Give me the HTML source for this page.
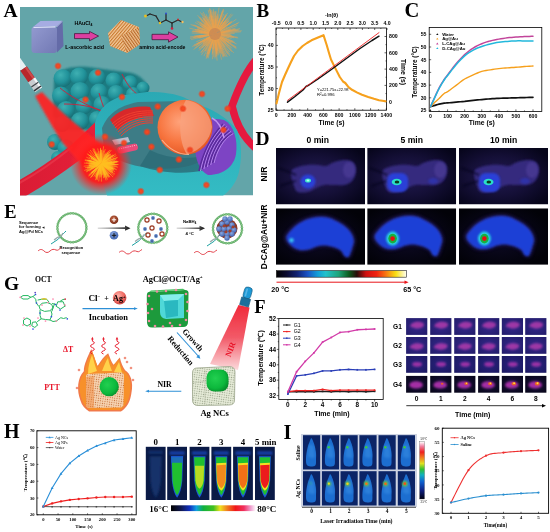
<!DOCTYPE html>
<html><head><meta charset="utf-8"><title>Figure</title>
<style>html,body{margin:0;padding:0;background:#fff;} body{width:550px;height:532px;overflow:hidden;} svg{display:block;}</style>
</head><body>
<svg width="550" height="532" viewBox="0 0 550 532">
<defs>
<clipPath id="clipA"><rect x="20" y="7" width="233" height="188.5"/></clipPath>
<radialGradient id="gSph" cx="0.38" cy="0.32" r="0.7"><stop offset="0" stop-color="#3fb0b2"/><stop offset="0.6" stop-color="#21929a"/><stop offset="1" stop-color="#176f76"/></radialGradient>
<radialGradient id="gNuc" cx="0.4" cy="0.4" r="0.7"><stop offset="0" stop-color="#ffa27a"/><stop offset="0.55" stop-color="#f7743e"/><stop offset="1" stop-color="#e0501e"/></radialGradient>
<radialGradient id="gGlow" cx="0.5" cy="0.5" r="0.5"><stop offset="0" stop-color="#ff2020" stop-opacity="1"/><stop offset="0.6" stop-color="#ff1a1a" stop-opacity="0.95"/><stop offset="1" stop-color="#ff3030" stop-opacity="0"/></radialGradient>
<radialGradient id="gDot" cx="0.5" cy="0.5" r="0.5"><stop offset="0" stop-color="#ff4a1a"/><stop offset="0.5" stop-color="#f0401e" stop-opacity="0.9"/><stop offset="1" stop-color="#f04020" stop-opacity="0"/></radialGradient>
<linearGradient id="gCube" x1="0" y1="0" x2="1" y2="1"><stop offset="0" stop-color="#939ad0"/><stop offset="1" stop-color="#7279b4"/></linearGradient>
<linearGradient id="gCell" x1="0" y1="0" x2="0" y2="1"><stop offset="0" stop-color="#2aa9b4"/><stop offset="1" stop-color="#34bcc4"/></linearGradient>
<linearGradient id="gVes" x1="0" y1="0" x2="1" y2="0"><stop offset="0" stop-color="#d81c34"/><stop offset="1" stop-color="#e8203a"/></linearGradient>
<pattern id="pStripe" width="2.4" height="2.4" patternUnits="userSpaceOnUse" patternTransform="rotate(40)"><rect width="2.4" height="2.4" fill="#f3c99a"/><rect width="1.1" height="2.4" fill="#c8782e"/></pattern>
<pattern id="pStripe2" width="2.4" height="2.4" patternUnits="userSpaceOnUse" patternTransform="rotate(-35)"><rect width="2.4" height="2.4" fill="#eebf8c"/><rect width="1.1" height="2.4" fill="#b8692a"/></pattern>
<filter id="fBlur05" x="-50%" y="-50%" width="200%" height="200%"><feGaussianBlur stdDeviation="0.5"/></filter>
<filter id="fBlur1" x="-50%" y="-50%" width="200%" height="200%"><feGaussianBlur stdDeviation="1"/></filter>
<filter id="fBlur2" x="-50%" y="-50%" width="200%" height="200%"><feGaussianBlur stdDeviation="2"/></filter>
<filter id="fBlur4" x="-50%" y="-50%" width="200%" height="200%"><feGaussianBlur stdDeviation="4"/></filter>

<radialGradient id="gD1bg" cx="0.45" cy="0.5" r="0.65"><stop offset="0" stop-color="#221a52"/><stop offset="0.55" stop-color="#140f36"/><stop offset="1" stop-color="#06051a"/></radialGradient>
<radialGradient id="gD2bg" cx="0.45" cy="0.5" r="0.6"><stop offset="0" stop-color="#0e0a28"/><stop offset="1" stop-color="#020208"/></radialGradient>
<linearGradient id="gDbar" x1="0" y1="0" x2="1" y2="0">
<stop offset="0" stop-color="#000000"/><stop offset="0.08" stop-color="#0b0a30"/><stop offset="0.16" stop-color="#122272"/><stop offset="0.24" stop-color="#1a52c4"/><stop offset="0.32" stop-color="#129fd8"/><stop offset="0.38" stop-color="#22c2cc"/><stop offset="0.48" stop-color="#1ea47a"/><stop offset="0.56" stop-color="#0d5a1e"/><stop offset="0.62" stop-color="#2a0c0a"/><stop offset="0.69" stop-color="#cf1010"/><stop offset="0.77" stop-color="#f02210"/><stop offset="0.84" stop-color="#f87412"/><stop offset="0.92" stop-color="#f8e012"/><stop offset="1" stop-color="#fffff0"/></linearGradient>
<clipPath id="cD1"><rect x="276" y="148" width="89" height="56.5"/></clipPath><clipPath id="cD2"><rect x="276" y="208.3" width="89" height="56.5"/></clipPath><clipPath id="cD3"><rect x="367.2" y="148" width="89" height="56.5"/></clipPath><clipPath id="cD4"><rect x="367.2" y="208.3" width="89" height="56.5"/></clipPath><clipPath id="cD5"><rect x="459" y="148" width="89" height="56.5"/></clipPath><clipPath id="cD6"><rect x="459" y="208.3" width="89" height="56.5"/></clipPath><linearGradient id="gArrE" x1="0" y1="0" x2="1" y2="0"><stop offset="0" stop-color="#888" stop-opacity="0.3"/><stop offset="1" stop-color="#111"/></linearGradient>
<linearGradient id="gArrS" x1="0" y1="0" x2="1" y2="0"><stop offset="0" stop-color="#222"/><stop offset="1" stop-color="#bbb"/></linearGradient>
<radialGradient id="gBr" cx="0.4" cy="0.35" r="0.7"><stop offset="0" stop-color="#c0603e"/><stop offset="1" stop-color="#7a2e1a"/></radialGradient>
<radialGradient id="gBl" cx="0.4" cy="0.35" r="0.7"><stop offset="0" stop-color="#8aa8e0"/><stop offset="1" stop-color="#3a5fae"/></radialGradient><radialGradient id="gAg" cx="0.4" cy="0.35" r="0.7"><stop offset="0" stop-color="#ffb0a8"/><stop offset="0.6" stop-color="#ef6a62"/><stop offset="1" stop-color="#c03838"/></radialGradient>
<linearGradient id="gNIR" x1="0" y1="0" x2="0" y2="1"><stop offset="0" stop-color="#f02a3a"/><stop offset="0.5" stop-color="#f25a68"/><stop offset="1" stop-color="#fcdadc"/></linearGradient>
<radialGradient id="gGreen" cx="0.45" cy="0.4" r="0.6"><stop offset="0" stop-color="#40d060"/><stop offset="1" stop-color="#0e8a30"/></radialGradient>
<pattern id="pBead" width="2.3" height="2.3" patternUnits="userSpaceOnUse" patternTransform="rotate(8)"><rect width="2.3" height="2.3" fill="#e6ebd8"/><circle cx="1.15" cy="1.15" r="0.6" fill="#939e84"/></pattern><pattern id="pBeadO" width="2.3" height="2.3" patternUnits="userSpaceOnUse" patternTransform="rotate(8)"><rect width="2.3" height="2.3" fill="#f6d2b0"/><circle cx="1.15" cy="1.15" r="0.55" fill="#c06830"/></pattern><radialGradient id="gGreen2" cx="0.4" cy="0.4" r="0.65"><stop offset="0" stop-color="#22d050"/><stop offset="0.7" stop-color="#0cb83c"/><stop offset="1" stop-color="#07902c"/></radialGradient>
<radialGradient id="gFire" cx="0.5" cy="0.6" r="0.55"><stop offset="0" stop-color="#ffd040"/><stop offset="0.5" stop-color="#ff8a1a"/><stop offset="0.85" stop-color="#f04818" stop-opacity="0.8"/><stop offset="1" stop-color="#ff6030" stop-opacity="0"/></radialGradient><radialGradient id="gFb1" cx="0.5" cy="0.5" r="0.7"><stop offset="0" stop-color="#34288a"/><stop offset="1" stop-color="#221c6a"/></radialGradient>
<radialGradient id="gFb3" cx="0.5" cy="0.5" r="0.7"><stop offset="0" stop-color="#2a2480"/><stop offset="1" stop-color="#1a1860"/></radialGradient>
<radialGradient id="gFb4" cx="0.5" cy="0.5" r="0.7"><stop offset="0" stop-color="#16113a"/><stop offset="1" stop-color="#070518"/></radialGradient><linearGradient id="gHbar" x1="0" y1="0" x2="1" y2="0">
<stop offset="0" stop-color="#000"/><stop offset="0.12" stop-color="#101850"/><stop offset="0.22" stop-color="#1030c0"/><stop offset="0.3" stop-color="#10a0e0"/><stop offset="0.38" stop-color="#10b040"/><stop offset="0.5" stop-color="#40c020"/><stop offset="0.58" stop-color="#f0e020"/><stop offset="0.66" stop-color="#f08020"/><stop offset="0.76" stop-color="#f01818"/><stop offset="0.86" stop-color="#f03060"/><stop offset="0.94" stop-color="#f0a0d0"/><stop offset="1" stop-color="#ffffff"/></linearGradient><linearGradient id="gIbar" x1="0" y1="1" x2="0" y2="0">
<stop offset="0" stop-color="#000010"/><stop offset="0.15" stop-color="#102080"/><stop offset="0.3" stop-color="#1060d0"/><stop offset="0.42" stop-color="#10b0c0"/><stop offset="0.52" stop-color="#30c030"/><stop offset="0.62" stop-color="#e0e020"/><stop offset="0.72" stop-color="#f08020"/><stop offset="0.82" stop-color="#ee2020"/><stop offset="0.92" stop-color="#f080a0"/><stop offset="1" stop-color="#ffffff"/></linearGradient></defs>
<rect width="550" height="532" fill="#fff"/>
<text x="3.6" y="17.3" font-family="'Liberation Serif', 'Times New Roman', serif" font-size="19.5" font-weight="bold" text-anchor="start" fill="#000" >A</text>
<text x="256.6" y="17" font-family="'Liberation Serif', 'Times New Roman', serif" font-size="19" font-weight="bold" text-anchor="start" fill="#000" >B</text>
<text x="404.6" y="17.3" font-family="'Liberation Serif', 'Times New Roman', serif" font-size="20.5" font-weight="bold" text-anchor="start" fill="#000" >C</text>
<text x="255.6" y="144.8" font-family="'Liberation Serif', 'Times New Roman', serif" font-size="19.5" font-weight="bold" text-anchor="start" fill="#000" >D</text>
<text x="4.3" y="218.3" font-family="'Liberation Serif', 'Times New Roman', serif" font-size="18.5" font-weight="bold" text-anchor="start" fill="#000" >E</text>
<text x="4" y="290.1" font-family="'Liberation Serif', 'Times New Roman', serif" font-size="19.5" font-weight="bold" text-anchor="start" fill="#000" >G</text>
<text x="254.2" y="312.9" font-family="'Liberation Serif', 'Times New Roman', serif" font-size="18.5" font-weight="bold" text-anchor="start" fill="#000" >F</text>
<text x="4" y="438.4" font-family="'Liberation Serif', 'Times New Roman', serif" font-size="20" font-weight="bold" text-anchor="start" fill="#000" >H</text>
<text x="283.4" y="438.5" font-family="'Liberation Serif', 'Times New Roman', serif" font-size="20.5" font-weight="bold" text-anchor="start" fill="#000" >I</text>
<g clip-path="url(#clipA)">
<rect x="20" y="7" width="233" height="188.5" fill="#63a5a9" stroke="none" stroke-width="0.8" />
<path d="M33,27 L40.5,21 L62.5,20.8 L56.5,26.5 Z" fill="#a6ace2"/>
<path d="M56.5,26.5 L62.5,20.8 L63.5,46 L57,52.5 Z" fill="#646ba8"/>
<rect x="31.5" y="26.5" width="25.5" height="26.5" rx="3.5" fill="url(#gCube)"/>
<path d="M33.5,27.5 L55.5,26.8" stroke="#e8ecff" stroke-width="1.2" opacity="0.9"/>
<path d="M56.5,27 L62,21.5" stroke="#d8dcff" stroke-width="0.9" opacity="0.8"/>
<text x="74.6" y="25.3" font-family="'Liberation Sans', Arial, sans-serif" font-size="5.2" font-weight="bold" text-anchor="start" fill="#000" >HAuCl<tspan font-size="3.4" dy="1">4</tspan></text>
<path d="M74.5,33.6 L89.5,33.6 L89.5,31.4 L98.6,36.1 L89.5,40.8 L89.5,38.6 L74.5,38.6 Z" fill="#dc3fa0" stroke="#3a1030" stroke-width="0.7"/>
<text x="65.2" y="48.8" font-family="'Liberation Sans', Arial, sans-serif" font-size="5.3" font-weight="bold" text-anchor="start" fill="#000" >L-ascorbic acid</text>
<path d="M108,33 L121,20 L139,27 L140,44 L127,53 L110,46 Z" fill="url(#pStripe)"/>
<path d="M121,36 L139,27 L140,44 L127,53 Z" fill="url(#pStripe2)"/>
<line x1="146" y1="16" x2="150" y2="14" stroke="#2a2a2a" stroke-width="1.3" stroke-linecap="round"/>
<line x1="150" y1="14" x2="156" y2="16" stroke="#2a2a2a" stroke-width="1.3" stroke-linecap="round"/>
<line x1="156" y1="16" x2="160" y2="23" stroke="#2a2a2a" stroke-width="1.3" stroke-linecap="round"/>
<line x1="160" y1="23" x2="166" y2="20" stroke="#2a2a2a" stroke-width="1.3" stroke-linecap="round"/>
<line x1="166" y1="20" x2="172" y2="23" stroke="#2a2a2a" stroke-width="1.3" stroke-linecap="round"/>
<line x1="172" y1="23" x2="178" y2="20" stroke="#2a2a2a" stroke-width="1.3" stroke-linecap="round"/>
<line x1="178" y1="20" x2="182" y2="22" stroke="#2a2a2a" stroke-width="1.3" stroke-linecap="round"/>
<line x1="166" y1="20" x2="166" y2="14" stroke="#2a2a2a" stroke-width="1.3" stroke-linecap="round"/>
<line x1="172" y1="23" x2="172" y2="28" stroke="#2a2a2a" stroke-width="1.3" stroke-linecap="round"/>
<circle cx="145.5" cy="16" r="1.5" fill="#e8c020"/>
<circle cx="160" cy="23" r="1.2" fill="#e8c020"/>
<circle cx="166" cy="13.5" r="1" fill="#3050d0"/>
<circle cx="172" cy="28.5" r="1.3" fill="#d02040"/>
<circle cx="182.5" cy="22" r="1.2" fill="#f0c060"/>
<circle cx="178" cy="19.5" r="0.9" fill="#d03030"/>
<path d="M152,34.3 L168.5,34.3 L168.5,31.8 L178,37 L168.5,42.2 L168.5,39.7 L152,39.7 Z" fill="#dc3fa0" stroke="#3a1030" stroke-width="0.7"/>
<text x="139.3" y="48.6" font-family="'Liberation Sans', Arial, sans-serif" font-size="5.1" font-weight="bold" text-anchor="start" fill="#000" >amino acid-encode</text>
<path d="M215.25,37.26L216.42,52.76M212.02,31.72L203.2,24.98M220.01,34.42L232.31,35.44M215.59,39.94L216.98,54.02M216.48,31.55L226.53,14.9M217.23,37.09L229.78,54.51M210.6,33.35L192.51,30.7M219.19,35.78L234.95,42.49M214.94,34.18L207.01,57.95M210.75,34.73L189.95,38.33M213.76,28.61L210.72,15.35M215.84,31.47L223.23,9.16M215.42,33.6L226.42,23.12M216.19,39.67L219.05,53.25M213.74,32.71L200.59,19.29M213.41,35.38L198.72,48.2M210.32,31.26L195.26,22.45M219.63,31.78L239.25,22.39M214.54,33.14L203.04,11.83M220.29,32.8L235.87,29.28M214.71,32.77L209.41,9.83M213.47,33.24L201.73,27.39M218.61,29.28L224.21,21.97M215.77,31.66L219.99,18.84M213.74,38.44L208.1,58.39M218.55,35.01L229.03,38M214.61,32.05L209.99,9.05M218.01,33.63L241.78,30.73M214.83,34.43L207.02,54.28M216.16,34.23L233.93,37.78M214.28,33.4L203.82,24.69M216.27,32.61L232.84,14.46M216.81,32.63L230.92,21.92M211.17,33.51L193.43,31.26M211.53,32.65L190.57,24.46M212.42,33.89L191.66,32.97M215.14,35.8L217.07,60.63M211.74,33.56L200.98,32.13M212,35.77L202.72,41.24M212.17,31.48L203.96,24.17M213.05,31.99L199.1,17.62M212.45,37.39L200.82,52.86M215.36,34.05L237.57,37.17M216.47,33.66L234.4,29.45M213.4,32.94L199.36,23.7M214.15,36.05L206.66,54.08M214.3,36.15L207.51,56.84M218.37,34.57L238.22,37.97M214.51,35.24L206,56.73M215.08,35.12L216.4,53.61M214.8,33.42L209.17,16.77M212.49,38.32L205.11,51.03M215.63,33.2L226.31,19.52M211.89,29.7L203.35,17.91M215.11,34.72L218.26,54.63M216.76,38.51L224.05,57.2M215.68,35.53L224.93,56.39M211.96,30.24L203.39,19.61M216.2,35.27L231.68,51.7M214.72,36.06L212.42,53.25M212.85,35.19L192.26,46.54M215.02,34.02L229.63,55.81M219.32,29.95L229.32,20.55M220.29,32.29L231.07,28.8M214.86,28.98L214.36,11.39M213.28,33.79L196.7,31.8M215.06,34.4L218.06,55.44M213.88,38.73L211.64,48.19M218.42,31.63L236.38,19.19M219.3,30.73L232.12,20.99M219.46,34.37L231.18,35.34M213.77,37.78L208.58,53.81M210.17,36.91L196.19,45.33M214.18,35.27L201.32,55.16M210.35,34.67L196.62,36.65M216.04,37.03L223,57.28M217.25,38.18L227.33,56.87M216.7,29.36L219.86,20.77M211.42,30.26L204.88,23.41M214.78,35.6L212.2,54.67M212.49,35.32L193.67,45.21M215.33,34L230.65,34.18M215.29,34.29L233.9,52.81M215.32,33.59L227.53,17.74M214.24,35.73L207.53,51M212.88,31.19L203.72,19.09M215.71,35.84L220.65,48.55M210.96,32.53L197.2,27.52M215.94,34.52L231.53,43.07M211.28,31.14L199.99,22.44M216.18,30.45L221.2,15.39M212.93,36.14L198.91,50.62M211.34,35.99L197.45,43.57M215.1,37.21L215.71,57.03M217.3,35.11L232.59,42.49M219.09,30.15L228.73,21.06M218.8,31.16L228.94,23.58M214.28,34.17L191.05,39.49M212.21,29.46L202.27,13.3M212.82,30.18L204.44,15.47M217.81,36.13L226.21,42.49M217.88,37.64L224.04,45.43M215.5,34.32L236.33,47.88M215.06,34.13L225.74,56.51M218.66,37.5L231.46,49.71M217.95,29.1L226.1,15.55M215.07,33.79L222.23,11.14M210.72,33.69L199.65,32.91M214.96,28.39L214.9,19.21M213.48,37.02L203.86,56.12M215.05,35.08L215.85,51.23M211.63,30.99L200.74,21.27M213.4,35.76L202.52,47.73M214.56,34.25L197.14,44.08M217.44,33.58L238.38,30M217.21,37.51L227.69,54.17M213.57,31.25L205.66,15.99M211.65,29.79L205.07,21.53M218.7,36.54L236.36,48.68M212.36,33.71L191.79,31.47M215.63,35.48L221.48,49.27M213.38,33.03L200.38,25.28M212.93,28.67L208.55,17.36M214.31,31.62L208.05,9.88M213.62,33.19L200.5,25.47M217.85,34.42L233.78,36.75M216.02,35.91L223.54,50.06M215.13,33.15L219.07,7.42M211.44,34.46L195.08,36.57M217.5,29.75L225.77,15.69M210.71,34.51L190.04,36.95M211.43,36.58L193.55,49.53M213.65,34.28L198.3,37.47M214.18,30.03L209.66,8.08M215.88,32.85L225,20.92M214.94,35.12L213.75,57.13M218.4,29.81L225.92,20.56M216.24,32.59L227.91,19.38M214.93,33.49L213,18.93M215.88,32.49L224.38,17.9M211.45,32.04L202.67,27.19M213.67,36.25L204.68,51.5M215.87,37.4L221.55,59.59M212.47,36.07L202.96,43.84M214.38,37.94L212.6,49.28M219.14,30.45L226.58,24.07M217.09,33.19L237.42,25.33M215.08,32.23L216.05,11.24M212.26,30.02L205.11,19.62M215.15,28.23L215.6,11.26M214.34,33.85L195.1,29.4M212.42,37.45L201.34,52.28M214,33.56L194.53,24.93M214.27,33.21L197.6,15.26M214.59,33.39L200.37,12.37M216.25,35.54L229.74,52.13M212.28,32.09L196.65,21.12M213.19,34.49L199.28,38.28M218.9,35.79L236.63,43.95M210.72,32.81L197.01,29M214.77,36.29L212.48,59.22M217.92,34.79L231.61,38.5M215.25,31.89L217.17,15.8M212.33,35.85L195.27,47.71M211.94,38.06L205.69,46.34M214.92,34.59L213.01,49.34M215.79,29.71L217.97,17.87M215.93,36.32L223.83,55.96M216.8,29.89L223.71,14.13M216.45,35.9L225,47.14M211.64,33.41L198.62,31.13M215,38.69L214.99,48.39M216.75,28.95L223.64,9.11M212.54,36.22L198.98,48.46M211.09,29.64L199.69,16.93M213.42,38.91L208.8,53.32M211.49,31.41L203.72,25.66M215.51,30.06L217.61,13.77M212.27,33.59L198.67,31.56M214.78,33.96L194.85,30.21M213.38,31.88L202.01,17.05M220.18,32.64L230.24,29.99M215.98,30.39L218.86,19.86M214.11,35.08L205.44,45.57M209.59,32.65L197.34,29.6M217.86,30.97L225.82,22.56M217.27,31.2L231.39,13.75M214.06,29.66L211.08,15.95M216.95,28.76L223.79,10.38M210.81,35.75L196.26,41.83M215.2,34.16L226.62,43.51M215.3,34.92L221.29,53.47M213.99,30.94L208.89,15.49M213.92,32.53L203.15,17.85M215.11,31.59L215.73,17.67M218.48,31.45L230.14,22.91M212.81,36.3L200.01,49.77M215,34.02L217.73,50.49M215.18,33.16L219.14,14.45M215.42,35.18L220.47,49.27M214.17,34.57L203.19,42.16M215.78,34.64L230.69,46.99M215.13,34.05L233.45,41.27M211.47,36.31L202.73,42.03M213.05,35.36L203.22,42.19M216.28,33.72L229.87,30.73M214.02,34.16L193.19,37.51M214.58,34.61L206.65,46.07M214.77,32.37L211.61,10M209.53,35.21L197.51,37.86M215,35.59L215,58.59M213.58,32.5L204.52,22.97M212.6,28.7L206.06,14.23M215.18,34L230.17,34.35M215.11,34.19L222.06,46.9M211.94,29.55L205.61,20.3M217.82,33.53L239.12,30M219.9,31.2L227.54,26.83M213.77,37.43L206.13,58.77M216.5,34.92L236.33,47.13M216.76,35.54L228.79,46.1M212.63,28.96L208.08,19.28M214.72,29.61L213.41,9.19M209.77,32.18L197.32,27.84M213.82,34.7L194.25,46.32M213.4,34.2L198.91,35.97M214.33,30.43L210.74,11.16M212.79,35.91L202.88,44.44M214.97,33.87L210.09,14.54M215.22,29.94L215.81,18.76M215.41,39.05L216.8,56.28M218.78,30.38L229.34,20.28M218.51,31.35L229.62,22.93M214.7,34.31L201.85,47.98M215.61,33.83L235.57,28.12M215.37,34.31L232.28,48.32M215.02,34.29L215.93,49.96M212.84,31.23L206.3,22.84M215.73,39.76L217.12,50.73M212.67,33.04L192.68,24.76M211.25,31.12L198.39,21.22M215.4,34.99L220.69,47.91M215.31,33.4L221.54,21.27M216.17,33.75L240.04,28.64M217.4,35.43L229.5,42.67M216.77,30.76L225.7,14.38M215.37,28.78L216.32,15.55M212.87,32.39L202.69,24.68M216.82,30.93L227.57,12.86M215.88,37.11L220.47,53.27M214.94,33.54L212.45,15.68M214.57,34.04L193.91,36.05M214.77,31.47L212.93,11.67M213.99,33.21L200.4,22.55M217.01,33.95L234.59,33.48M216.13,34.66L228.94,42.15M218.95,32.17L238.02,23.33M218.66,33.69L241.01,31.8M212.55,33.44L189.34,28.14M219.67,30.74L231.65,22.39" stroke="#f0a048" stroke-width="0.5" opacity="0.95"/>
<circle cx="215" cy="34" r="6" fill="#b87a58" opacity="0.5"/>
<path d="M258,58 C248,68 240,84 232,106 C236,124 245,140 258,150" stroke="#e5193f" stroke-width="7.5" fill="none"/>
<path d="M54,82 C55,70 68,66 88,67 L132,73 C146,78 150,88 146,96 L112,120 L96,130 L68,130 L53,116 Z" fill="#1a7a80" filter="url(#fBlur1)"/>
<circle cx="62.7" cy="78.2" r="9" fill="url(#gSph)"/>
<circle cx="79" cy="76.5" r="9" fill="url(#gSph)"/>
<circle cx="97" cy="77.5" r="8.5" fill="url(#gSph)"/>
<circle cx="113.6" cy="80.5" r="8" fill="url(#gSph)"/>
<circle cx="130" cy="82.7" r="7.5" fill="url(#gSph)"/>
<circle cx="143" cy="88" r="6.5" fill="url(#gSph)"/>
<circle cx="61" cy="95.5" r="9" fill="url(#gSph)"/>
<circle cx="80" cy="91.5" r="9.5" fill="url(#gSph)"/>
<circle cx="99" cy="92" r="8.5" fill="url(#gSph)"/>
<circle cx="116" cy="93" r="8" fill="url(#gSph)"/>
<circle cx="133" cy="94" r="7" fill="url(#gSph)"/>
<circle cx="66" cy="110" r="9" fill="url(#gSph)"/>
<circle cx="84" cy="106" r="8.5" fill="url(#gSph)"/>
<circle cx="102" cy="104.5" r="8.5" fill="url(#gSph)"/>
<circle cx="118" cy="106" r="7" fill="url(#gSph)"/>
<circle cx="62" cy="124" r="8" fill="url(#gSph)"/>
<circle cx="80" cy="121" r="9" fill="url(#gSph)"/>
<circle cx="97" cy="119" r="8" fill="url(#gSph)"/>
<circle cx="55" cy="142" r="8" fill="url(#gSph)"/>
<circle cx="66" cy="148" r="8.5" fill="url(#gSph)"/>
<circle cx="58" cy="158" r="7" fill="url(#gSph)"/>
<path d="M60,88 C75,100 92,108 122,119 M64,104 C78,104 92,106 104,112 M122,74 C126,82 130,90 140,96 M99,93 C101,100 103,106 106,113" stroke="#d0203a" stroke-width="0.9" fill="none"/>
<path d="M8,196 C30,185 55,168 75,153 C88,142 100,128 116,115" stroke="url(#gVes)" stroke-width="17" fill="none"/>
<path d="M10,188 C32,177 55,161 72,147" stroke="#f04a58" stroke-width="2" fill="none" opacity="0.45"/>
<path d="M95,123 C99,108 108,100 125,95 L147,92 C165,92 175,94 183,97 L202,106 C217,111 229,120 237,130 C242,142 242,158 239,172 C236,184 229,192 220,198 L108,198 C104,186 99,176 95,165 Z" fill="url(#gCell)"/>
<path d="M102,128 C108,114 118,106 138,102 L184,101 L204,112 L203,160 C190,168 170,170 150,168 C130,166 115,160 104,150 Z" fill="#3d7c86"/>
<path d="M150,150 C165,158 185,160 203,156 L205,170 C185,175 160,173 140,166 Z" fill="#2a6a76" opacity="0.8"/>
<path d="M110,120 C118,110 133,105 150,107 L154,116 C142,115 128,120 118,130 Z" fill="#d8282a"/>
<path d="M112.0,124 C123.0,114 137,110 153,111" stroke="#f04030" stroke-width="1.0" fill="none"/>
<path d="M113.5,126 C124.2,116 138,112 153,113" stroke="#f04030" stroke-width="1.0" fill="none"/>
<path d="M115.0,128 C125.4,118 139,114 153,115" stroke="#f04030" stroke-width="1.0" fill="none"/>
<path d="M116.5,130 C126.6,120 140,116 153,117" stroke="#f04030" stroke-width="1.0" fill="none"/>
<path d="M118.0,132 C127.8,122 141,118 153,119" stroke="#f04030" stroke-width="1.0" fill="none"/>
<path d="M119.5,134 C129.0,124 142,120 153,121" stroke="#f04030" stroke-width="1.0" fill="none"/>
<path d="M121.0,136 C130.2,126 143,122 153,123" stroke="#f04030" stroke-width="1.0" fill="none"/>
<path d="M112,140 L128,137 L130,142 L115,145 Z" fill="#d8d0e0" opacity="0.8"/>
<rect x="117" y="145" width="21" height="7" rx="3.5" fill="#e94b7a" transform="rotate(-12 128 148)"/>
<path d="M119,149 L137,145" stroke="#ffd0e0" stroke-width="0.8" stroke-dasharray="1 1.2"/>
<path d="M196,130 C200,121 211,117 224,120 C234,125 238,140 236,154 C234,166 224,175 208,175 C199,171 195,158 195,146 Z" fill="#7d44c4"/>
<path d="M199.0,171 C203,152 210,138 223.0,124.0" stroke="#5a2a9c" stroke-width="1.6" fill="none"/>
<path d="M200.5,171 C204.5,152 211.5,138 224.5,124.0" stroke="#b88aee" stroke-width="0.9" fill="none"/>
<path d="M202.4,169 C206,152 213,138 225.2,126.4" stroke="#5a2a9c" stroke-width="1.6" fill="none"/>
<path d="M203.9,169 C207.5,152 214.5,138 226.7,126.4" stroke="#b88aee" stroke-width="0.9" fill="none"/>
<path d="M205.8,167 C209,152 216,138 227.4,128.8" stroke="#5a2a9c" stroke-width="1.6" fill="none"/>
<path d="M207.3,167 C210.5,152 217.5,138 228.9,128.8" stroke="#b88aee" stroke-width="0.9" fill="none"/>
<path d="M209.2,165 C212,152 219,138 229.6,131.2" stroke="#5a2a9c" stroke-width="1.6" fill="none"/>
<path d="M210.7,165 C213.5,152 220.5,138 231.1,131.2" stroke="#b88aee" stroke-width="0.9" fill="none"/>
<path d="M212.6,163 C215,152 222,138 231.8,133.6" stroke="#5a2a9c" stroke-width="1.6" fill="none"/>
<path d="M214.1,163 C216.5,152 223.5,138 233.3,133.6" stroke="#b88aee" stroke-width="0.9" fill="none"/>
<path d="M212,118 C218,121 222,128 224,138" stroke="#c090f0" stroke-width="1.5" fill="none"/>
<circle cx="185" cy="127.3" r="27.5" fill="url(#gNuc)"/>
<path d="M186,100 C178,113 178,142 187,154.5 C201,150 210,140 212,127 C210,113 200,102 186,100 Z" fill="#f8a482" opacity="0.7"/>
<path d="M162,140 C170,150 180,154.5 189,154.5" stroke="#ffd2b0" stroke-width="1.2" fill="none" opacity="0.7"/>
<path d="M35,96 L42,92 C55,106 70,120 90,135 L108,150 L86,168 C78,160 68,150 62,142 C54,130 44,112 35,96 Z" fill="#ff2424" opacity="0.93" filter="url(#fBlur1)"/>
<g transform="translate(19 62) rotate(55)"><rect x="-4" y="-3.3" width="12" height="6.6" fill="#e8f0f2"/><rect x="8" y="-4" width="14" height="8" fill="#b8282c"/><rect x="8" y="-3.5" width="14" height="2" fill="#e06060" opacity="0.6"/><rect x="22" y="-4.2" width="12" height="8.4" fill="#c8ccd0"/><rect x="22" y="-4.2" width="12" height="2.2" fill="#f4f6f8"/><rect x="27" y="-4.2" width="1.2" height="8.4" fill="#404448"/><rect x="31.5" y="-4.2" width="1.5" height="8.4" fill="#303438"/></g>
<circle cx="101" cy="164" r="31" fill="url(#gGlow)"/>
<path d="M101.24,162.39L103.64,146.22M102.02,163.44L116.33,155.61M101.15,164.35L107.3,178.46M100.43,166L96.85,178.53M103.88,164.75L112.81,167.08M99.74,164.57L86.48,170.57M100.98,162.85L100.78,153.18M100.5,165.57L97.76,174.11M102.74,166.5L109.91,176.81M104.88,163.42L117.82,161.49M100.55,164.46L92.3,172.97M98.95,164.48L87.05,167.29M98.83,166.63L93.19,173.48M97.55,164.81L84.98,167.78M100.72,164.93L96.17,179.73M101.52,164.03L115.22,164.9M100.35,163.85L90.86,161.68M101.88,166.95L104.92,177.16M104.12,163.59L118.68,161.69M101.72,164.16L110.86,166.21M99.77,164.56L91.52,168.29M100.64,163.89L89.03,160.44M101.06,167.21L101.23,177.34M100.99,164.18L100.13,177.41M99.12,162.06L88.96,151.58M101.36,163.08L104.99,153.66M101.16,160.85L101.73,149.95M102.08,162.07L106.96,153.31M101.03,164.06L108.4,177.21M103.89,161.81L111.96,155.71M99.12,160.8L92.64,149.76M99.68,163L89.69,155.5M101.35,164.64L108.39,177.59M103.19,163.89L114.25,163.34M99.91,165.46L91.19,177.17M97.33,165.13L90.25,167.3M100.17,165.92L95.73,176.2M102.96,161.33L111.35,149.95M100.91,163.92L89.9,154.52M99.14,163.4L89.35,160.24M100.08,160.47L98.27,153.53M100.27,162.7L94.1,151.68M104.05,161.66L113.01,154.77M102.25,167.47L104.87,174.77M98.54,166.22L91.69,172.39M100.5,167.77L98.7,181.4M100.35,165.43L95.96,175.17M101.68,164.74L113.09,177.12M101.81,164.44L111.19,169.54M102.85,165.01L114.99,171.64M102.33,161.85L109.71,149.94M102.13,164.04L118.68,164.6M101.97,164.45L113.57,169.85M100.76,166.17L99.84,174.31M101.34,167.82L101.98,175.11M101.59,163.6L115.87,153.96M99.82,161.7L95.92,154.09M103.86,165.02L111.74,167.84M102.22,167.06L107.3,179.79M104.66,165.16L114.61,168.31M100.68,164.29L91.3,172.84M102.12,163.91L112.02,163.13M101.31,164.4L108.84,174.14M101.26,163.84L110.93,158.13M104.7,162.52L117.56,157.36M101.04,165.42L101.45,181.6M98.2,164.26L88.55,165.17M102.37,164.18L116.84,166.14M101.45,161.77L103.73,150.56M99.28,163.58L87.13,160.61M101.4,163.3L108.35,151.21M104.1,162.61L111.43,159.31M104.27,163.24L112.05,161.42M100.92,164.81L99.96,174.37M102.62,163.78L117.82,161.7M101.04,164.04L113.75,175.18M102.08,160.18L105.23,149.1M97.97,163.52L90.39,162.3M99.29,163.56L90.19,161.2M99.96,163.24L89.65,155.71M100.11,164.91L91.99,173.18M97.84,161.67L86.92,153.63M103.16,161.46L108.97,154.64M102.07,163.84L111.87,162.4M98.07,163.99L88.27,163.94M100.31,163.11L90.15,149.97M99.17,164.56L87.37,168.16M103.79,161.21L111.05,153.93M98.69,164.89L91.15,167.79M97.97,165.53L86.53,171.32M104.18,165.25L113.17,168.76M102.46,163.83L112.64,162.62M97.63,162.93L88.18,159.95M102.91,161.9L109.67,154.46M100.37,165.92L96.88,176.53M99.19,165.87L89.17,176.21M100.5,163.7L90.86,158.05M99.31,165.78L93.34,172.06M102.12,164.63L111.69,170.01M103.12,164.4L118.07,167.2M98.12,163.37L84.76,160.44M102.91,160.89L108.08,152.47M100.8,163.56L93.98,148.47M99.63,165.32L88.65,175.86M100.83,164.74L97.2,180.15M100.72,163.8L92.69,158.05M100.98,164.02L91.1,177.4M101.44,165L106.31,175.99M99.28,163.87L86.01,162.89M100.06,162.53L95.22,154.91M103.74,163.64L111.58,162.6M98.19,165.08L84.26,170.43M101.03,164.02L113.67,169.58M97.84,165.68L86.34,171.81M100.18,165.46L93.81,176.78M101.6,163.46L110.81,155.26M103.18,165.35L109.68,169.39M102.92,163.17L114.39,158.21M101.8,164.47L112.82,171.02M102.35,162.32L108.67,154.41M103.63,163.7L115.14,162.4M101.35,165.14L106.07,180.43M102.43,165.58L111.04,175.09M99.12,166.43L90.42,177.66M102.85,161.7L108.27,154.93M102.61,164.64L112.62,168.59M102.2,167.27L105.05,175.01M102.66,160.63L105.84,154.17M102.36,163.18L111.01,157.96M101.06,164.14L106.44,176.89M98.45,166.26L88.55,175.07M102.5,164.56L113.28,168.6M101.44,164.9L106.32,174.88M100.53,162.72L97.26,153.77M101.33,165.74L103.68,178.27M101.08,166.8L101.33,175.72M99.84,161.86L95.56,153.98M101.01,162.42L101.09,149.68M98.95,162.55L89.94,156.2M103.95,165.08L116.84,169.82M98.69,164.14L88.88,164.75M103.21,162.37L110.47,157M102.62,160.4L106.25,152.36M102.93,163.95L112.43,163.68M100.72,162.67L97.72,148.48M100.63,163.78L88.69,156.88M102.13,162.46L109.47,152.46M102.17,162.65L110.1,153.44M98.14,162.36L90.91,158.22M103.53,165.69L113,172M99.84,167.37L95.44,180.15M97.18,162.98L84.88,159.7M100.99,162.83L100.88,153.91M99.72,161.35L95.45,152.46M98.75,164.3L89.11,165.6M100.27,161.87L96.77,151.62M102.71,165.41L110.7,171.98M100.89,163.32L98.93,151.01M101.54,165.54L105.84,177.78M101.17,164.14L111.85,172.62M101.61,165.93L104.4,174.82M102.73,165.27L115.01,174.29M102.4,162.48L109.93,154.31M102.01,164.45L112.45,169.05M101.44,163.83L117.41,157.69M99.28,164.25L89.03,165.76M101.72,163.83L115.17,160.6M100.2,163.95L89.24,163.2M104.15,163.71L116.8,162.55M101.32,163.77L113.81,155.05M101,163.1L101.04,150.34M102.29,163.79L116.89,161.42M102.35,166.3L107.17,174.47M99.51,163.92L84.06,163.06M100.93,161.98L100.5,148.51M98.11,165.41L90.16,169.29M98.75,163.36L88.4,160.41M101.65,164.2L115.48,168.36M101.73,166.94L104.38,177.63M104.25,163.02L116.14,159.41M100.88,164.12L90.94,174.38M100.9,160.32L100.68,152.38M103.13,167.29L109.66,177.35M98.06,164.29L89.86,165.08M98.43,163.27L86.73,159.95M101.29,164.46L108.94,176.72M101.41,163.63L108.52,157.32M103.73,165.56L112.39,170.53M97.18,165.09L86.68,168.08M100.77,166.79L100.16,173.98M100.45,166.74L98.76,175.14M103.03,164.42L113.36,166.57M101.4,163.93L117.15,161.05M98.54,166.08L90.63,172.74M100.35,162.87L95.15,153.76M97.94,164.94L88.8,167.76M101.21,165.65L102.36,174.68M100.08,166.1L95.23,177.16M100.05,163.33L92.65,158.14M102.34,164.22L112.41,165.92M100.04,163.55L86.39,157.24M98.87,162.42L88.23,154.55M99.31,163.77L88.65,162.31M103.93,165.22L113.92,169.39M104,166.17L112.87,172.59M99.75,162.77L93.15,156.29M101.67,164L113.93,163.96M101.49,164L115,163.94M100.02,164.13L83.74,166.22M100.96,164.02L89.17,171.08M103.83,164.08L117.94,164.5M101.16,163.89L113.78,155.4M100.36,165.78L96.82,175.68M100.82,164.5L95.92,178.12M104.27,166.04L109.79,169.47M101.75,163.83L111.4,161.61M100.93,161.88L100.47,147.86M98.48,163.87L90.35,163.43M100.06,162.18L92.85,148.29M101.27,164.01L116.4,164.6" stroke="#ffd020" stroke-width="0.5" opacity="0.9"/>
<circle cx="58" cy="66" r="4" fill="url(#gDot)"/>
<circle cx="98" cy="72.7" r="4" fill="url(#gDot)"/>
<circle cx="85.5" cy="99.6" r="4" fill="url(#gDot)"/>
<circle cx="122" cy="97" r="4" fill="url(#gDot)"/>
<circle cx="51.7" cy="144.4" r="4" fill="url(#gDot)"/>
<circle cx="202" cy="94" r="4" fill="url(#gDot)"/>
<circle cx="227.6" cy="108.7" r="4" fill="url(#gDot)"/>
<circle cx="157.7" cy="106.6" r="4" fill="url(#gDot)"/>
<circle cx="147" cy="132" r="4" fill="url(#gDot)"/>
<circle cx="105" cy="136.8" r="4" fill="url(#gDot)"/>
<circle cx="151.4" cy="146.8" r="4" fill="url(#gDot)"/>
<circle cx="183" cy="108.7" r="4" fill="url(#gDot)"/>
<circle cx="223.4" cy="129.9" r="4" fill="url(#gDot)"/>
<circle cx="159.8" cy="170" r="4" fill="url(#gDot)"/>
<circle cx="140.8" cy="191.3" r="4" fill="url(#gDot)"/>
<circle cx="178.9" cy="159.5" r="4" fill="url(#gDot)"/>
<circle cx="206.4" cy="185" r="4" fill="url(#gDot)"/>
<circle cx="124" cy="143" r="4" fill="url(#gDot)"/>
<circle cx="190" cy="150" r="4" fill="url(#gDot)"/>
</g>
<rect x="276" y="28" width="110.5" height="82.2" fill="none" stroke="#000" stroke-width="0.8" />
<line x1="276.2" y1="110.2" x2="276.2" y2="108.2" stroke="#000" stroke-width="0.6" />
<line x1="291.93" y1="110.2" x2="291.93" y2="108.2" stroke="#000" stroke-width="0.6" />
<line x1="307.66" y1="110.2" x2="307.66" y2="108.2" stroke="#000" stroke-width="0.6" />
<line x1="323.39" y1="110.2" x2="323.39" y2="108.2" stroke="#000" stroke-width="0.6" />
<line x1="339.11" y1="110.2" x2="339.11" y2="108.2" stroke="#000" stroke-width="0.6" />
<line x1="354.84" y1="110.2" x2="354.84" y2="108.2" stroke="#000" stroke-width="0.6" />
<line x1="370.57" y1="110.2" x2="370.57" y2="108.2" stroke="#000" stroke-width="0.6" />
<line x1="386.3" y1="110.2" x2="386.3" y2="108.2" stroke="#000" stroke-width="0.6" />
<line x1="284.06" y1="110.2" x2="284.06" y2="109.2" stroke="#000" stroke-width="0.6" />
<line x1="299.79" y1="110.2" x2="299.79" y2="109.2" stroke="#000" stroke-width="0.6" />
<line x1="315.52" y1="110.2" x2="315.52" y2="109.2" stroke="#000" stroke-width="0.6" />
<line x1="331.25" y1="110.2" x2="331.25" y2="109.2" stroke="#000" stroke-width="0.6" />
<line x1="346.98" y1="110.2" x2="346.98" y2="109.2" stroke="#000" stroke-width="0.6" />
<line x1="362.71" y1="110.2" x2="362.71" y2="109.2" stroke="#000" stroke-width="0.6" />
<line x1="378.44" y1="110.2" x2="378.44" y2="109.2" stroke="#000" stroke-width="0.6" />
<line x1="276.3" y1="28" x2="276.3" y2="30" stroke="#000" stroke-width="0.6" />
<line x1="288.6" y1="28" x2="288.6" y2="30" stroke="#000" stroke-width="0.6" />
<line x1="300.9" y1="28" x2="300.9" y2="30" stroke="#000" stroke-width="0.6" />
<line x1="313.2" y1="28" x2="313.2" y2="30" stroke="#000" stroke-width="0.6" />
<line x1="325.5" y1="28" x2="325.5" y2="30" stroke="#000" stroke-width="0.6" />
<line x1="337.8" y1="28" x2="337.8" y2="30" stroke="#000" stroke-width="0.6" />
<line x1="350.1" y1="28" x2="350.1" y2="30" stroke="#000" stroke-width="0.6" />
<line x1="362.4" y1="28" x2="362.4" y2="30" stroke="#000" stroke-width="0.6" />
<line x1="374.7" y1="28" x2="374.7" y2="30" stroke="#000" stroke-width="0.6" />
<line x1="387" y1="28" x2="387" y2="30" stroke="#000" stroke-width="0.6" />
<line x1="282.45" y1="28" x2="282.45" y2="29" stroke="#000" stroke-width="0.6" />
<line x1="294.75" y1="28" x2="294.75" y2="29" stroke="#000" stroke-width="0.6" />
<line x1="307.05" y1="28" x2="307.05" y2="29" stroke="#000" stroke-width="0.6" />
<line x1="319.35" y1="28" x2="319.35" y2="29" stroke="#000" stroke-width="0.6" />
<line x1="331.65" y1="28" x2="331.65" y2="29" stroke="#000" stroke-width="0.6" />
<line x1="343.95" y1="28" x2="343.95" y2="29" stroke="#000" stroke-width="0.6" />
<line x1="356.25" y1="28" x2="356.25" y2="29" stroke="#000" stroke-width="0.6" />
<line x1="368.55" y1="28" x2="368.55" y2="29" stroke="#000" stroke-width="0.6" />
<line x1="380.85" y1="28" x2="380.85" y2="29" stroke="#000" stroke-width="0.6" />
<line x1="276" y1="110.2" x2="278" y2="110.2" stroke="#000" stroke-width="0.6" />
<line x1="276" y1="88.6" x2="278" y2="88.6" stroke="#000" stroke-width="0.6" />
<line x1="276" y1="67" x2="278" y2="67" stroke="#000" stroke-width="0.6" />
<line x1="276" y1="45.4" x2="278" y2="45.4" stroke="#000" stroke-width="0.6" />
<line x1="276" y1="99.4" x2="277" y2="99.4" stroke="#000" stroke-width="0.6" />
<line x1="276" y1="77.8" x2="277" y2="77.8" stroke="#000" stroke-width="0.6" />
<line x1="276" y1="56.2" x2="277" y2="56.2" stroke="#000" stroke-width="0.6" />
<line x1="276" y1="34.6" x2="277" y2="34.6" stroke="#000" stroke-width="0.6" />
<line x1="386.5" y1="101.7" x2="384.5" y2="101.7" stroke="#000" stroke-width="0.6" />
<line x1="386.5" y1="85.4" x2="384.5" y2="85.4" stroke="#000" stroke-width="0.6" />
<line x1="386.5" y1="69.1" x2="384.5" y2="69.1" stroke="#000" stroke-width="0.6" />
<line x1="386.5" y1="52.8" x2="384.5" y2="52.8" stroke="#000" stroke-width="0.6" />
<line x1="386.5" y1="36.5" x2="384.5" y2="36.5" stroke="#000" stroke-width="0.6" />
<line x1="386.5" y1="93.55" x2="385.5" y2="93.55" stroke="#000" stroke-width="0.6" />
<line x1="386.5" y1="77.25" x2="385.5" y2="77.25" stroke="#000" stroke-width="0.6" />
<line x1="386.5" y1="60.95" x2="385.5" y2="60.95" stroke="#000" stroke-width="0.6" />
<line x1="386.5" y1="44.65" x2="385.5" y2="44.65" stroke="#000" stroke-width="0.6" />
<text x="276.2" y="117.2" font-family="'Liberation Sans', Arial, sans-serif" font-size="5.2" font-weight="bold" text-anchor="middle" fill="#000" >0</text>
<text x="291.93" y="117.2" font-family="'Liberation Sans', Arial, sans-serif" font-size="5.2" font-weight="bold" text-anchor="middle" fill="#000" >200</text>
<text x="307.66" y="117.2" font-family="'Liberation Sans', Arial, sans-serif" font-size="5.2" font-weight="bold" text-anchor="middle" fill="#000" >400</text>
<text x="323.39" y="117.2" font-family="'Liberation Sans', Arial, sans-serif" font-size="5.2" font-weight="bold" text-anchor="middle" fill="#000" >600</text>
<text x="339.11" y="117.2" font-family="'Liberation Sans', Arial, sans-serif" font-size="5.2" font-weight="bold" text-anchor="middle" fill="#000" >800</text>
<text x="354.84" y="117.2" font-family="'Liberation Sans', Arial, sans-serif" font-size="5.2" font-weight="bold" text-anchor="middle" fill="#000" >1000</text>
<text x="370.57" y="117.2" font-family="'Liberation Sans', Arial, sans-serif" font-size="5.2" font-weight="bold" text-anchor="middle" fill="#000" >1200</text>
<text x="386.3" y="117.2" font-family="'Liberation Sans', Arial, sans-serif" font-size="5.2" font-weight="bold" text-anchor="middle" fill="#000" >1400</text>
<text x="273.6" y="112.1" font-family="'Liberation Sans', Arial, sans-serif" font-size="5.2" font-weight="bold" text-anchor="end" fill="#000" >25</text>
<text x="273.6" y="90.5" font-family="'Liberation Sans', Arial, sans-serif" font-size="5.2" font-weight="bold" text-anchor="end" fill="#000" >30</text>
<text x="273.6" y="68.9" font-family="'Liberation Sans', Arial, sans-serif" font-size="5.2" font-weight="bold" text-anchor="end" fill="#000" >35</text>
<text x="273.6" y="47.3" font-family="'Liberation Sans', Arial, sans-serif" font-size="5.2" font-weight="bold" text-anchor="end" fill="#000" >40</text>
<text x="276.3" y="25" font-family="'Liberation Sans', Arial, sans-serif" font-size="5.2" font-weight="bold" text-anchor="middle" fill="#000" >-0.5</text>
<text x="288.6" y="25" font-family="'Liberation Sans', Arial, sans-serif" font-size="5.2" font-weight="bold" text-anchor="middle" fill="#000" >0.0</text>
<text x="300.9" y="25" font-family="'Liberation Sans', Arial, sans-serif" font-size="5.2" font-weight="bold" text-anchor="middle" fill="#000" >0.5</text>
<text x="313.2" y="25" font-family="'Liberation Sans', Arial, sans-serif" font-size="5.2" font-weight="bold" text-anchor="middle" fill="#000" >1.0</text>
<text x="325.5" y="25" font-family="'Liberation Sans', Arial, sans-serif" font-size="5.2" font-weight="bold" text-anchor="middle" fill="#000" >1.5</text>
<text x="337.8" y="25" font-family="'Liberation Sans', Arial, sans-serif" font-size="5.2" font-weight="bold" text-anchor="middle" fill="#000" >2.0</text>
<text x="350.1" y="25" font-family="'Liberation Sans', Arial, sans-serif" font-size="5.2" font-weight="bold" text-anchor="middle" fill="#000" >2.5</text>
<text x="362.4" y="25" font-family="'Liberation Sans', Arial, sans-serif" font-size="5.2" font-weight="bold" text-anchor="middle" fill="#000" >3.0</text>
<text x="374.7" y="25" font-family="'Liberation Sans', Arial, sans-serif" font-size="5.2" font-weight="bold" text-anchor="middle" fill="#000" >3.5</text>
<text x="387" y="25" font-family="'Liberation Sans', Arial, sans-serif" font-size="5.2" font-weight="bold" text-anchor="middle" fill="#000" >4.0</text>
<text x="389" y="103.6" font-family="'Liberation Sans', Arial, sans-serif" font-size="5.2" font-weight="bold" text-anchor="start" fill="#000" >0</text>
<text x="389" y="87.3" font-family="'Liberation Sans', Arial, sans-serif" font-size="5.2" font-weight="bold" text-anchor="start" fill="#000" >200</text>
<text x="389" y="71" font-family="'Liberation Sans', Arial, sans-serif" font-size="5.2" font-weight="bold" text-anchor="start" fill="#000" >400</text>
<text x="389" y="54.7" font-family="'Liberation Sans', Arial, sans-serif" font-size="5.2" font-weight="bold" text-anchor="start" fill="#000" >600</text>
<text x="389" y="38.4" font-family="'Liberation Sans', Arial, sans-serif" font-size="5.2" font-weight="bold" text-anchor="start" fill="#000" >800</text>
<text x="331.5" y="17.2" font-family="'Liberation Sans', Arial, sans-serif" font-size="5.3" font-weight="bold" text-anchor="middle" fill="#000" >-ln(θ)</text>
<text x="331.5" y="125.3" font-family="'Liberation Sans', Arial, sans-serif" font-size="6.8" font-weight="bold" text-anchor="middle" fill="#000" >Time (s)</text>
<text x="0" y="0" font-family="'Liberation Sans', Arial, sans-serif" font-size="6.4" font-weight="bold" text-anchor="middle" fill="#000" transform="translate(263.6 70) rotate(-90)">Temperature (°C)</text>
<text x="0" y="0" font-family="'Liberation Sans', Arial, sans-serif" font-size="6.8" font-weight="bold" text-anchor="middle" fill="#000" transform="translate(400.6 72) rotate(90)">Time (s)</text>
<polyline points="276.5,103.5 279,93 282,82 285,75 287.5,69.5 291,62 294,56 298,50.5 302.7,46 307,43 311.5,40.3 318,37.5 323.5,35.2 326.7,45 329,53 331,59.5 335.5,68.6 339.8,77 343,81.5 345.3,83 348.5,87.2 352,89.8 357.3,92.6 362,94.8 368.2,97 374,98.8 379,100.2 385.6,101.3" fill="none" stroke="#f6a01c" stroke-width="2.1" stroke-linejoin="round" stroke-linecap="round" />
<polyline points="287.5,102.2 295,96.5 303,90 306,86.5 309,85 318,79 330,70.5 345,59.5 360,48.5 372,40.5 379,36.2" fill="none" stroke="#111" stroke-width="1.5" stroke-linejoin="round" stroke-linecap="round" />
<polyline points="287.5,100.4 379,32.6" fill="none" stroke="#ee2222" stroke-width="0.9" stroke-linejoin="round" stroke-linecap="round" />
<text x="317" y="90.8" font-family="'Liberation Sans', Arial, sans-serif" font-size="4" font-weight="normal" text-anchor="start" fill="#000" >Y=221.75x+22.98</text>
<text x="317" y="96.2" font-family="'Liberation Sans', Arial, sans-serif" font-size="4.2" font-weight="normal" text-anchor="start" fill="#000" >R<tspan font-size="2.8" dy="-1.6">2</tspan><tspan dy="1.6">=0.996</tspan></text>
<rect x="429.2" y="27.4" width="112.6" height="84" fill="none" stroke="#000" stroke-width="0.8" />
<line x1="430.5" y1="111.4" x2="430.5" y2="109.4" stroke="#000" stroke-width="0.6" />
<line x1="447.58" y1="111.4" x2="447.58" y2="109.4" stroke="#000" stroke-width="0.6" />
<line x1="464.67" y1="111.4" x2="464.67" y2="109.4" stroke="#000" stroke-width="0.6" />
<line x1="481.75" y1="111.4" x2="481.75" y2="109.4" stroke="#000" stroke-width="0.6" />
<line x1="498.83" y1="111.4" x2="498.83" y2="109.4" stroke="#000" stroke-width="0.6" />
<line x1="515.92" y1="111.4" x2="515.92" y2="109.4" stroke="#000" stroke-width="0.6" />
<line x1="533" y1="111.4" x2="533" y2="109.4" stroke="#000" stroke-width="0.6" />
<line x1="439.04" y1="111.4" x2="439.04" y2="110.4" stroke="#000" stroke-width="0.6" />
<line x1="456.12" y1="111.4" x2="456.12" y2="110.4" stroke="#000" stroke-width="0.6" />
<line x1="473.21" y1="111.4" x2="473.21" y2="110.4" stroke="#000" stroke-width="0.6" />
<line x1="490.29" y1="111.4" x2="490.29" y2="110.4" stroke="#000" stroke-width="0.6" />
<line x1="507.38" y1="111.4" x2="507.38" y2="110.4" stroke="#000" stroke-width="0.6" />
<line x1="524.46" y1="111.4" x2="524.46" y2="110.4" stroke="#000" stroke-width="0.6" />
<line x1="429.2" y1="110.5" x2="431.2" y2="110.5" stroke="#000" stroke-width="0.6" />
<line x1="429.2" y1="97.8" x2="431.2" y2="97.8" stroke="#000" stroke-width="0.6" />
<line x1="429.2" y1="85.1" x2="431.2" y2="85.1" stroke="#000" stroke-width="0.6" />
<line x1="429.2" y1="72.4" x2="431.2" y2="72.4" stroke="#000" stroke-width="0.6" />
<line x1="429.2" y1="59.7" x2="431.2" y2="59.7" stroke="#000" stroke-width="0.6" />
<line x1="429.2" y1="47" x2="431.2" y2="47" stroke="#000" stroke-width="0.6" />
<line x1="429.2" y1="34.3" x2="431.2" y2="34.3" stroke="#000" stroke-width="0.6" />
<text x="430.5" y="118.2" font-family="'Liberation Sans', Arial, sans-serif" font-size="5.2" font-weight="bold" text-anchor="middle" fill="#000" >0</text>
<text x="447.58" y="118.2" font-family="'Liberation Sans', Arial, sans-serif" font-size="5.2" font-weight="bold" text-anchor="middle" fill="#000" >100</text>
<text x="464.67" y="118.2" font-family="'Liberation Sans', Arial, sans-serif" font-size="5.2" font-weight="bold" text-anchor="middle" fill="#000" >200</text>
<text x="481.75" y="118.2" font-family="'Liberation Sans', Arial, sans-serif" font-size="5.2" font-weight="bold" text-anchor="middle" fill="#000" >300</text>
<text x="498.83" y="118.2" font-family="'Liberation Sans', Arial, sans-serif" font-size="5.2" font-weight="bold" text-anchor="middle" fill="#000" >400</text>
<text x="515.92" y="118.2" font-family="'Liberation Sans', Arial, sans-serif" font-size="5.2" font-weight="bold" text-anchor="middle" fill="#000" >500</text>
<text x="533" y="118.2" font-family="'Liberation Sans', Arial, sans-serif" font-size="5.2" font-weight="bold" text-anchor="middle" fill="#000" >600</text>
<text x="426.5" y="112.4" font-family="'Liberation Sans', Arial, sans-serif" font-size="5.2" font-weight="bold" text-anchor="end" fill="#000" >25</text>
<text x="426.5" y="99.7" font-family="'Liberation Sans', Arial, sans-serif" font-size="5.2" font-weight="bold" text-anchor="end" fill="#000" >30</text>
<text x="426.5" y="87" font-family="'Liberation Sans', Arial, sans-serif" font-size="5.2" font-weight="bold" text-anchor="end" fill="#000" >35</text>
<text x="426.5" y="74.3" font-family="'Liberation Sans', Arial, sans-serif" font-size="5.2" font-weight="bold" text-anchor="end" fill="#000" >40</text>
<text x="426.5" y="61.6" font-family="'Liberation Sans', Arial, sans-serif" font-size="5.2" font-weight="bold" text-anchor="end" fill="#000" >45</text>
<text x="426.5" y="48.9" font-family="'Liberation Sans', Arial, sans-serif" font-size="5.2" font-weight="bold" text-anchor="end" fill="#000" >50</text>
<text x="426.5" y="36.2" font-family="'Liberation Sans', Arial, sans-serif" font-size="5.2" font-weight="bold" text-anchor="end" fill="#000" >55</text>
<text x="481.8" y="125.3" font-family="'Liberation Sans', Arial, sans-serif" font-size="6.8" font-weight="bold" text-anchor="middle" fill="#000" >Time (s)</text>
<text x="0" y="0" font-family="'Liberation Sans', Arial, sans-serif" font-size="6.4" font-weight="bold" text-anchor="middle" fill="#000" transform="translate(417.3 72) rotate(-90)">Temperature (°C)</text>
<polyline points="430.5,106.69 431.07,106.52 431.89,106.28 432.86,105.99 433.92,105.67 435.08,105.32 436.37,104.91 437.72,104.51 439.04,104.15 440.36,103.84 441.71,103.56 443.01,103.32 444.17,103.13 445.02,103.03 445.66,102.99 446.41,102.96 447.58,102.88 449.36,102.73 451.53,102.53 453.87,102.32 456.12,102.12 458.26,101.93 460.4,101.75 462.53,101.56 464.67,101.36 466.8,101.11 468.94,100.85 471.07,100.58 473.21,100.34 475.34,100.13 477.48,99.94 479.61,99.76 481.75,99.58 483.89,99.38 486.02,99.18 488.16,98.99 490.29,98.82 492.43,98.67 494.56,98.53 496.7,98.41 498.83,98.31 500.97,98.23 503.1,98.17 505.24,98.11 507.38,98.05 509.51,97.99 511.65,97.93 513.78,97.86 515.92,97.8 518.05,97.74 520.19,97.67 522.32,97.61 524.46,97.55 526.79,97.48 529.26,97.4 531.47,97.34 533,97.29" fill="none" stroke="#111" stroke-width="1.7" stroke-linejoin="round" stroke-linecap="round" />
<polyline points="430.5,106.69 431.07,106.07 431.89,105.2 432.86,104.18 433.92,103.13 435.08,102.07 436.37,100.94 437.72,99.76 439.04,98.56 440.36,97.25 441.71,95.85 443.01,94.53 444.17,93.48 445.02,92.91 445.66,92.67 446.41,92.39 447.58,91.7 449.36,90.44 451.53,88.81 453.87,87.05 456.12,85.35 458.26,83.71 460.4,82.04 462.53,80.43 464.67,79 466.8,77.82 468.94,76.8 471.07,75.87 473.21,74.94 475.34,73.97 477.48,73 479.61,72.12 481.75,71.38 483.89,70.85 486.02,70.48 488.16,70.18 490.29,69.86 492.43,69.51 494.56,69.18 496.7,68.87 498.83,68.59 500.97,68.36 503.1,68.16 505.24,67.99 507.38,67.83 509.51,67.69 511.65,67.57 513.78,67.46 515.92,67.32 518.05,67.14 520.19,66.94 522.32,66.74 524.46,66.56 526.79,66.4 529.26,66.26 531.47,66.14 533,66.05" fill="none" stroke="#f6a01c" stroke-width="1.4" stroke-linejoin="round" stroke-linecap="round" />
<polyline points="430.5,106.69 431.07,105.4 431.89,103.56 432.86,101.39 433.92,99.07 435.08,96.52 436.37,93.67 437.72,90.8 439.04,88.15 440.36,85.73 441.71,83.43 443.01,81.33 444.17,79.51 445.02,78.24 445.66,77.38 446.41,76.45 447.58,74.94 449.36,72.56 451.53,69.64 453.87,66.57 456.12,63.76 458.26,61.28 460.4,58.91 462.53,56.68 464.67,54.62 466.8,52.74 468.94,51.02 471.07,49.45 473.21,48.02 475.34,46.74 477.48,45.62 479.61,44.62 481.75,43.7 483.89,42.87 486.02,42.14 488.16,41.5 490.29,40.9 492.43,40.38 494.56,39.92 496.7,39.51 498.83,39.13 500.97,38.76 503.1,38.43 505.24,38.13 507.38,37.86 509.51,37.62 511.65,37.43 513.78,37.25 515.92,37.09 518.05,36.94 520.19,36.81 522.32,36.69 524.46,36.59 526.79,36.5 529.26,36.43 531.47,36.37 533,36.33" fill="none" stroke="#c2449a" stroke-width="1.5" stroke-linejoin="round" stroke-linecap="round" />
<polyline points="430.5,106.69 431.07,105.44 431.89,103.67 432.86,101.57 433.92,99.32 435.08,96.84 436.37,94.07 437.72,91.26 439.04,88.66 440.36,86.26 441.71,83.96 443.01,81.85 444.17,80.02 445.02,78.73 445.66,77.86 446.41,76.92 447.58,75.45 449.36,73.17 451.53,70.38 453.87,67.46 456.12,64.78 458.26,62.36 460.4,60.03 462.53,57.86 464.67,55.89 466.8,54.16 468.94,52.64 471.07,51.28 473.21,50.05 475.34,48.97 477.48,48.06 479.61,47.26 481.75,46.49 483.89,45.77 486.02,45.11 488.16,44.51 490.29,43.95 492.43,43.43 494.56,42.95 496.7,42.53 498.83,42.17 500.97,41.91 503.1,41.71 505.24,41.56 507.38,41.41 509.51,41.26 511.65,41.11 513.78,40.99 515.92,40.9 518.05,40.87 520.19,40.87 522.32,40.89 524.46,40.9 526.79,40.9 529.26,40.9 531.47,40.9 533,40.9" fill="none" stroke="#22b8dc" stroke-width="1.5" stroke-linejoin="round" stroke-linecap="round" />
<path d="M436.1,35.1 L437.3,33.2 L438.5,35.1 Z" fill="#111"/>
<text x="442.2" y="35.7" font-family="'Liberation Sans', Arial, sans-serif" font-size="4.3" font-weight="bold" text-anchor="start" fill="#000" >Water</text>
<path d="M436.1,39.6 L437.3,37.7 L438.5,39.6 Z" fill="#f6a01c"/>
<text x="442.2" y="40.2" font-family="'Liberation Sans', Arial, sans-serif" font-size="4.3" font-weight="bold" text-anchor="start" fill="#000" >Ag@Au</text>
<path d="M436.1,44.4 L437.3,42.5 L438.5,44.4 Z" fill="#c2449a"/>
<text x="442.2" y="45" font-family="'Liberation Sans', Arial, sans-serif" font-size="4.3" font-weight="bold" text-anchor="start" fill="#000" >L-CAg@Au</text>
<path d="M436.1,49.1 L437.3,47.2 L438.5,49.1 Z" fill="#22b8dc"/>
<text x="442.2" y="49.7" font-family="'Liberation Sans', Arial, sans-serif" font-size="4.3" font-weight="bold" text-anchor="start" fill="#000" >D-CAg@Au</text>
<text x="317.8" y="142.9" font-family="'Liberation Sans', Arial, sans-serif" font-size="8.6" font-weight="bold" text-anchor="middle" fill="#000" >0 min</text>
<text x="411.8" y="142.9" font-family="'Liberation Sans', Arial, sans-serif" font-size="8.6" font-weight="bold" text-anchor="middle" fill="#000" >5 min</text>
<text x="503.6" y="142.9" font-family="'Liberation Sans', Arial, sans-serif" font-size="8.6" font-weight="bold" text-anchor="middle" fill="#000" >10 min</text>
<text x="0" y="0" font-family="'Liberation Sans', Arial, sans-serif" font-size="8.6" font-weight="bold" text-anchor="middle" fill="#000" transform="translate(267.4 174) rotate(-90)">NIR</text>
<text x="0" y="0" font-family="'Liberation Sans', Arial, sans-serif" font-size="8.4" font-weight="bold" text-anchor="middle" fill="#000" transform="translate(266.6 236.8) rotate(-90)">D-CAg@Au+NIR</text>
<g clip-path="url(#cD1)"><rect x="276" y="148" width="89" height="56.5" fill="url(#gD1bg)"/>
<g transform="translate(276 148)">
<path d="M22,19 L23.49,18.47 L25.11,18.04 L26.81,17.69 L28.56,17.41 L30.3,17.18 L32,17 L33.69,16.87 L35.41,16.81 L37.12,16.81 L38.81,16.85 L40.45,16.92 L42,17 L43.47,17.16 L44.89,17.41 L46.25,17.69 L47.56,17.93 L48.81,18.05 L50,18 L51.12,17.72 L52.15,17.26 L53.12,16.69 L54.07,16.07 L55.02,15.49 L56,15 L56.98,14.6 L57.93,14.22 L58.88,13.88 L59.85,13.56 L60.88,13.26 L62,13 L63.23,12.74 L64.56,12.48 L65.94,12.25 L67.33,12.07 L68.7,11.98 L70,12 L71.27,12.11 L72.56,12.3 L73.81,12.56 L75,12.93 L76.08,13.4 L77,14 L77.78,14.75 L78.44,15.63 L79,16.62 L79.44,17.7 L79.78,18.84 L80,20 L80.1,21.24 L80.07,22.59 L79.94,24 L79.7,25.41 L79.39,26.76 L79,28 L78.54,29.15 L78,30.26 L77.38,31.31 L76.67,32.3 L75.88,33.2 L75,34 L74.04,34.71 L73,35.33 L71.88,35.88 L70.67,36.33 L69.38,36.71 L68,37 L66.51,37.17 L64.89,37.22 L63.19,37.19 L61.44,37.11 L59.7,37.03 L58,37 L56.31,36.97 L54.59,36.89 L52.88,36.81 L51.19,36.78 L49.55,36.83 L48,37 L46.55,37.31 L45.19,37.74 L43.88,38.25 L42.59,38.81 L41.31,39.41 L40,40 L38.69,40.66 L37.41,41.41 L36.12,42.19 L34.81,42.93 L33.45,43.55 L32,44 L30.38,44.3 L28.59,44.52 L26.75,44.62 L24.96,44.59 L23.34,44.39 L22,44 L20.97,43.44 L20.19,42.74 L19.56,41.88 L19.04,40.81 L18.54,39.53 L18,38 L17.33,36.03 L16.56,33.59 L15.81,30.94 L15.22,28.3 L14.91,25.91 L15,24 L15.55,22.61 L16.48,21.56 L17.69,20.75 L19.07,20.11 L20.54,19.56 Z" fill="#35297e" filter="url(#fBlur1)"/>
<path d="M2,20 C8,22 14,24 20,27 M4,38 C10,36 15,34 20,33" stroke="#06061a" stroke-width="1.6" fill="none" opacity="0.7" filter="url(#fBlur1)"/>
<ellipse cx="73" cy="22" rx="6" ry="8" fill="#4d3e98" opacity="0.7" filter="url(#fBlur1)"/>
<ellipse cx="32" cy="33.5" rx="7.5" ry="7" fill="#2b3fd6" filter="url(#fBlur1)"/>
<ellipse cx="32" cy="32.5" rx="3" ry="2" fill="#3ee6c8" filter="url(#fBlur05)"/>
<ellipse cx="32" cy="32.5" rx="1.4" ry="0.9" fill="#b0fff0"/>
</g></g>
<g clip-path="url(#cD2)"><rect x="276" y="208.3" width="89" height="56.5" fill="url(#gD2bg)"/>
<g transform="translate(276 208.3)">
<path d="M13,23 L13.83,22.05 L14.74,21.04 L15.72,20 L16.76,18.96 L17.86,17.95 L19,17 L20.21,16.09 L21.48,15.19 L22.81,14.31 L24.19,13.48 L25.59,12.71 L27,12 L28.44,11.36 L29.93,10.78 L31.44,10.25 L32.96,9.78 L34.49,9.36 L36,9 L37.51,8.69 L39.04,8.44 L40.56,8.25 L42.07,8.11 L43.56,8.03 L45,8 L46.4,8.03 L47.78,8.11 L49.12,8.25 L50.44,8.44 L51.74,8.69 L53,9 L54.22,9.37 L55.41,9.81 L56.56,10.31 L57.7,10.85 L58.84,11.42 L60,12 L61.18,12.6 L62.37,13.22 L63.56,13.88 L64.74,14.56 L65.89,15.26 L67,16 L68.08,16.76 L69.15,17.56 L70.19,18.38 L71.19,19.22 L72.13,20.1 L73,21 L73.81,21.94 L74.57,22.93 L75.28,23.94 L75.93,24.96 L76.5,25.99 L77,27 L77.43,28 L77.8,29 L78.09,30 L78.31,31 L78.45,32 L78.5,33 L78.43,34 L78.24,35 L77.97,36 L77.65,37 L77.31,38 L77,39 L76.7,40.02 L76.37,41.07 L76.03,42.12 L75.69,43.15 L75.34,44.12 L75,45 L74.69,45.84 L74.41,46.67 L74.12,47.44 L73.81,48.11 L73.45,48.65 L73,49 L72.44,49.17 L71.78,49.19 L71.06,49.06 L70.33,48.81 L69.63,48.46 L69,48 L68.47,47.38 L68,46.56 L67.56,45.62 L67.11,44.67 L66.6,43.76 L66,43 L65.29,42.37 L64.52,41.81 L63.69,41.31 L62.81,40.85 L61.91,40.42 L61,40 L60.07,39.6 L59.11,39.22 L58.12,38.88 L57.11,38.56 L56.07,38.26 L55,38 L53.89,37.75 L52.74,37.52 L51.56,37.31 L50.37,37.15 L49.18,37.04 L48,37 L46.84,37.03 L45.7,37.11 L44.56,37.25 L43.41,37.44 L42.22,37.69 L41,38 L39.72,38.41 L38.41,38.93 L37.06,39.5 L35.7,40.07 L34.34,40.59 L33,41 L31.66,41.32 L30.3,41.59 L28.94,41.81 L27.59,41.96 L26.28,42.03 L25,42 L23.75,41.86 L22.52,41.63 L21.31,41.31 L20.15,40.93 L19.04,40.48 L18,40 L17.03,39.45 L16.11,38.81 L15.25,38.12 L14.44,37.41 L13.69,36.69 L13,36 L12.36,35.33 L11.76,34.67 L11.22,34 L10.74,33.33 L10.33,32.67 L10,32 L9.73,31.34 L9.5,30.7 L9.34,30.06 L9.28,29.41 L9.32,28.72 L9.5,28 L9.82,27.24 L10.28,26.44 L10.84,25.62 L11.5,24.78 L12.23,23.9 Z" fill="#3a2a90" opacity="0.8" filter="url(#fBlur2)"/>
<path d="M13,23 L13.83,22.05 L14.74,21.04 L15.72,20 L16.76,18.96 L17.86,17.95 L19,17 L20.21,16.09 L21.48,15.19 L22.81,14.31 L24.19,13.48 L25.59,12.71 L27,12 L28.44,11.36 L29.93,10.78 L31.44,10.25 L32.96,9.78 L34.49,9.36 L36,9 L37.51,8.69 L39.04,8.44 L40.56,8.25 L42.07,8.11 L43.56,8.03 L45,8 L46.4,8.03 L47.78,8.11 L49.12,8.25 L50.44,8.44 L51.74,8.69 L53,9 L54.22,9.37 L55.41,9.81 L56.56,10.31 L57.7,10.85 L58.84,11.42 L60,12 L61.18,12.6 L62.37,13.22 L63.56,13.88 L64.74,14.56 L65.89,15.26 L67,16 L68.08,16.76 L69.15,17.56 L70.19,18.38 L71.19,19.22 L72.13,20.1 L73,21 L73.81,21.94 L74.57,22.93 L75.28,23.94 L75.93,24.96 L76.5,25.99 L77,27 L77.43,28 L77.8,29 L78.09,30 L78.31,31 L78.45,32 L78.5,33 L78.43,34 L78.24,35 L77.97,36 L77.65,37 L77.31,38 L77,39 L76.7,40.02 L76.37,41.07 L76.03,42.12 L75.69,43.15 L75.34,44.12 L75,45 L74.69,45.84 L74.41,46.67 L74.12,47.44 L73.81,48.11 L73.45,48.65 L73,49 L72.44,49.17 L71.78,49.19 L71.06,49.06 L70.33,48.81 L69.63,48.46 L69,48 L68.47,47.38 L68,46.56 L67.56,45.62 L67.11,44.67 L66.6,43.76 L66,43 L65.29,42.37 L64.52,41.81 L63.69,41.31 L62.81,40.85 L61.91,40.42 L61,40 L60.07,39.6 L59.11,39.22 L58.12,38.88 L57.11,38.56 L56.07,38.26 L55,38 L53.89,37.75 L52.74,37.52 L51.56,37.31 L50.37,37.15 L49.18,37.04 L48,37 L46.84,37.03 L45.7,37.11 L44.56,37.25 L43.41,37.44 L42.22,37.69 L41,38 L39.72,38.41 L38.41,38.93 L37.06,39.5 L35.7,40.07 L34.34,40.59 L33,41 L31.66,41.32 L30.3,41.59 L28.94,41.81 L27.59,41.96 L26.28,42.03 L25,42 L23.75,41.86 L22.52,41.63 L21.31,41.31 L20.15,40.93 L19.04,40.48 L18,40 L17.03,39.45 L16.11,38.81 L15.25,38.12 L14.44,37.41 L13.69,36.69 L13,36 L12.36,35.33 L11.76,34.67 L11.22,34 L10.74,33.33 L10.33,32.67 L10,32 L9.73,31.34 L9.5,30.7 L9.34,30.06 L9.28,29.41 L9.32,28.72 L9.5,28 L9.82,27.24 L10.28,26.44 L10.84,25.62 L11.5,24.78 L12.23,23.9 Z" fill="#1d3fd6" filter="url(#fBlur1)" transform="translate(1.5 1) scale(0.97)"/>
<circle cx="15.5" cy="32" r="2.2" fill="#38c8f0" filter="url(#fBlur1)"/>
</g></g>
<g clip-path="url(#cD3)"><rect x="367.2" y="148" width="89" height="56.5" fill="url(#gD1bg)"/>
<g transform="translate(367.2 148)">
<path d="M22,19 L23.49,18.47 L25.11,18.04 L26.81,17.69 L28.56,17.41 L30.3,17.18 L32,17 L33.69,16.87 L35.41,16.81 L37.12,16.81 L38.81,16.85 L40.45,16.92 L42,17 L43.47,17.16 L44.89,17.41 L46.25,17.69 L47.56,17.93 L48.81,18.05 L50,18 L51.12,17.72 L52.15,17.26 L53.12,16.69 L54.07,16.07 L55.02,15.49 L56,15 L56.98,14.6 L57.93,14.22 L58.88,13.88 L59.85,13.56 L60.88,13.26 L62,13 L63.23,12.74 L64.56,12.48 L65.94,12.25 L67.33,12.07 L68.7,11.98 L70,12 L71.27,12.11 L72.56,12.3 L73.81,12.56 L75,12.93 L76.08,13.4 L77,14 L77.78,14.75 L78.44,15.63 L79,16.62 L79.44,17.7 L79.78,18.84 L80,20 L80.1,21.24 L80.07,22.59 L79.94,24 L79.7,25.41 L79.39,26.76 L79,28 L78.54,29.15 L78,30.26 L77.38,31.31 L76.67,32.3 L75.88,33.2 L75,34 L74.04,34.71 L73,35.33 L71.88,35.88 L70.67,36.33 L69.38,36.71 L68,37 L66.51,37.17 L64.89,37.22 L63.19,37.19 L61.44,37.11 L59.7,37.03 L58,37 L56.31,36.97 L54.59,36.89 L52.88,36.81 L51.19,36.78 L49.55,36.83 L48,37 L46.55,37.31 L45.19,37.74 L43.88,38.25 L42.59,38.81 L41.31,39.41 L40,40 L38.69,40.66 L37.41,41.41 L36.12,42.19 L34.81,42.93 L33.45,43.55 L32,44 L30.38,44.3 L28.59,44.52 L26.75,44.62 L24.96,44.59 L23.34,44.39 L22,44 L20.97,43.44 L20.19,42.74 L19.56,41.88 L19.04,40.81 L18.54,39.53 L18,38 L17.33,36.03 L16.56,33.59 L15.81,30.94 L15.22,28.3 L14.91,25.91 L15,24 L15.55,22.61 L16.48,21.56 L17.69,20.75 L19.07,20.11 L20.54,19.56 Z" fill="#35297e" filter="url(#fBlur1)"/>
<path d="M2,20 C8,22 14,24 20,27 M4,38 C10,36 15,34 20,33" stroke="#06061a" stroke-width="1.6" fill="none" opacity="0.7" filter="url(#fBlur1)"/>
<ellipse cx="73" cy="22" rx="6" ry="8" fill="#4d3e98" opacity="0.7" filter="url(#fBlur1)"/>
<rect x="20" y="25" width="21" height="19" rx="7" fill="#2a40d8" filter="url(#fBlur1)"/>
<ellipse cx="29.5" cy="34" rx="5" ry="3.3" fill="#2be0c8" filter="url(#fBlur05)"/>
<ellipse cx="29.8" cy="34" rx="2.3" ry="1.5" fill="#0a3a20"/>
<ellipse cx="66" cy="33" rx="5" ry="3" fill="#2a3ad0" opacity="0.5" filter="url(#fBlur1)"/>
</g></g>
<g clip-path="url(#cD4)"><rect x="367.2" y="208.3" width="89" height="56.5" fill="url(#gD2bg)"/>
<g transform="translate(367.2 208.3)">
<path d="M10,22 L10.83,21.05 L11.74,20.04 L12.72,19 L13.76,17.96 L14.86,16.95 L16,16 L17.21,15.09 L18.48,14.19 L19.81,13.31 L21.19,12.48 L22.59,11.71 L24,11 L25.44,10.36 L26.93,9.78 L28.44,9.25 L29.96,8.78 L31.49,8.36 L33,8 L34.51,7.69 L36.04,7.44 L37.56,7.25 L39.07,7.11 L40.56,7.03 L42,7 L43.4,7.03 L44.78,7.11 L46.12,7.25 L47.44,7.44 L48.74,7.69 L50,8 L51.22,8.37 L52.41,8.81 L53.56,9.31 L54.7,9.85 L55.84,10.42 L57,11 L58.18,11.6 L59.37,12.22 L60.56,12.88 L61.74,13.56 L62.89,14.26 L64,15 L65.08,15.76 L66.15,16.56 L67.19,17.38 L68.19,18.22 L69.13,19.1 L70,20 L70.81,20.94 L71.57,21.93 L72.28,22.94 L72.93,23.96 L73.5,24.99 L74,26 L74.43,27 L74.8,28 L75.09,29 L75.31,30 L75.45,31 L75.5,32 L75.43,33 L75.24,34 L74.97,35 L74.65,36 L74.31,37 L74,38 L73.7,39.02 L73.37,40.07 L73.03,41.12 L72.69,42.15 L72.34,43.12 L72,44 L71.69,44.84 L71.41,45.67 L71.12,46.44 L70.81,47.11 L70.45,47.65 L70,48 L69.44,48.17 L68.78,48.19 L68.06,48.06 L67.33,47.81 L66.63,47.46 L66,47 L65.47,46.38 L65,45.56 L64.56,44.62 L64.11,43.67 L63.6,42.76 L63,42 L62.29,41.37 L61.52,40.81 L60.69,40.31 L59.81,39.85 L58.91,39.42 L58,39 L57.07,38.6 L56.11,38.22 L55.12,37.88 L54.11,37.56 L53.07,37.26 L52,37 L50.89,36.75 L49.74,36.52 L48.56,36.31 L47.37,36.15 L46.18,36.04 L45,36 L43.84,36.03 L42.7,36.11 L41.56,36.25 L40.41,36.44 L39.22,36.69 L38,37 L36.72,37.41 L35.41,37.93 L34.06,38.5 L32.7,39.07 L31.34,39.59 L30,40 L28.66,40.32 L27.3,40.59 L25.94,40.81 L24.59,40.96 L23.28,41.03 L22,41 L20.75,40.86 L19.52,40.63 L18.31,40.31 L17.15,39.93 L16.04,39.48 L15,39 L14.03,38.45 L13.11,37.81 L12.25,37.12 L11.44,36.41 L10.69,35.69 L10,35 L9.36,34.33 L8.76,33.67 L8.22,33 L7.74,32.33 L7.33,31.67 L7,31 L6.73,30.34 L6.5,29.7 L6.34,29.06 L6.28,28.41 L6.32,27.72 L6.5,27 L6.82,26.24 L7.28,25.44 L7.84,24.62 L8.5,23.78 L9.23,22.9 Z" fill="#3a2a90" opacity="0.8" filter="url(#fBlur2)"/>
<path d="M10,22 L10.83,21.05 L11.74,20.04 L12.72,19 L13.76,17.96 L14.86,16.95 L16,16 L17.21,15.09 L18.48,14.19 L19.81,13.31 L21.19,12.48 L22.59,11.71 L24,11 L25.44,10.36 L26.93,9.78 L28.44,9.25 L29.96,8.78 L31.49,8.36 L33,8 L34.51,7.69 L36.04,7.44 L37.56,7.25 L39.07,7.11 L40.56,7.03 L42,7 L43.4,7.03 L44.78,7.11 L46.12,7.25 L47.44,7.44 L48.74,7.69 L50,8 L51.22,8.37 L52.41,8.81 L53.56,9.31 L54.7,9.85 L55.84,10.42 L57,11 L58.18,11.6 L59.37,12.22 L60.56,12.88 L61.74,13.56 L62.89,14.26 L64,15 L65.08,15.76 L66.15,16.56 L67.19,17.38 L68.19,18.22 L69.13,19.1 L70,20 L70.81,20.94 L71.57,21.93 L72.28,22.94 L72.93,23.96 L73.5,24.99 L74,26 L74.43,27 L74.8,28 L75.09,29 L75.31,30 L75.45,31 L75.5,32 L75.43,33 L75.24,34 L74.97,35 L74.65,36 L74.31,37 L74,38 L73.7,39.02 L73.37,40.07 L73.03,41.12 L72.69,42.15 L72.34,43.12 L72,44 L71.69,44.84 L71.41,45.67 L71.12,46.44 L70.81,47.11 L70.45,47.65 L70,48 L69.44,48.17 L68.78,48.19 L68.06,48.06 L67.33,47.81 L66.63,47.46 L66,47 L65.47,46.38 L65,45.56 L64.56,44.62 L64.11,43.67 L63.6,42.76 L63,42 L62.29,41.37 L61.52,40.81 L60.69,40.31 L59.81,39.85 L58.91,39.42 L58,39 L57.07,38.6 L56.11,38.22 L55.12,37.88 L54.11,37.56 L53.07,37.26 L52,37 L50.89,36.75 L49.74,36.52 L48.56,36.31 L47.37,36.15 L46.18,36.04 L45,36 L43.84,36.03 L42.7,36.11 L41.56,36.25 L40.41,36.44 L39.22,36.69 L38,37 L36.72,37.41 L35.41,37.93 L34.06,38.5 L32.7,39.07 L31.34,39.59 L30,40 L28.66,40.32 L27.3,40.59 L25.94,40.81 L24.59,40.96 L23.28,41.03 L22,41 L20.75,40.86 L19.52,40.63 L18.31,40.31 L17.15,39.93 L16.04,39.48 L15,39 L14.03,38.45 L13.11,37.81 L12.25,37.12 L11.44,36.41 L10.69,35.69 L10,35 L9.36,34.33 L8.76,33.67 L8.22,33 L7.74,32.33 L7.33,31.67 L7,31 L6.73,30.34 L6.5,29.7 L6.34,29.06 L6.28,28.41 L6.32,27.72 L6.5,27 L6.82,26.24 L7.28,25.44 L7.84,24.62 L8.5,23.78 L9.23,22.9 Z" fill="#1d3fd6" filter="url(#fBlur1)" transform="translate(1.5 1) scale(0.97)"/>
<ellipse cx="25.4" cy="30.3" rx="6.4" ry="7" fill="#2ad8e0" filter="url(#fBlur1)"/>
<ellipse cx="25.4" cy="30.3" rx="4.3" ry="4.8" fill="#18b040"/>
<circle cx="25.4" cy="30.3" r="2.3" fill="#e41010"/>
</g></g>
<g clip-path="url(#cD5)"><rect x="459" y="148" width="89" height="56.5" fill="url(#gD1bg)"/>
<g transform="translate(459 148)">
<path d="M22,19 L23.49,18.47 L25.11,18.04 L26.81,17.69 L28.56,17.41 L30.3,17.18 L32,17 L33.69,16.87 L35.41,16.81 L37.12,16.81 L38.81,16.85 L40.45,16.92 L42,17 L43.47,17.16 L44.89,17.41 L46.25,17.69 L47.56,17.93 L48.81,18.05 L50,18 L51.12,17.72 L52.15,17.26 L53.12,16.69 L54.07,16.07 L55.02,15.49 L56,15 L56.98,14.6 L57.93,14.22 L58.88,13.88 L59.85,13.56 L60.88,13.26 L62,13 L63.23,12.74 L64.56,12.48 L65.94,12.25 L67.33,12.07 L68.7,11.98 L70,12 L71.27,12.11 L72.56,12.3 L73.81,12.56 L75,12.93 L76.08,13.4 L77,14 L77.78,14.75 L78.44,15.63 L79,16.62 L79.44,17.7 L79.78,18.84 L80,20 L80.1,21.24 L80.07,22.59 L79.94,24 L79.7,25.41 L79.39,26.76 L79,28 L78.54,29.15 L78,30.26 L77.38,31.31 L76.67,32.3 L75.88,33.2 L75,34 L74.04,34.71 L73,35.33 L71.88,35.88 L70.67,36.33 L69.38,36.71 L68,37 L66.51,37.17 L64.89,37.22 L63.19,37.19 L61.44,37.11 L59.7,37.03 L58,37 L56.31,36.97 L54.59,36.89 L52.88,36.81 L51.19,36.78 L49.55,36.83 L48,37 L46.55,37.31 L45.19,37.74 L43.88,38.25 L42.59,38.81 L41.31,39.41 L40,40 L38.69,40.66 L37.41,41.41 L36.12,42.19 L34.81,42.93 L33.45,43.55 L32,44 L30.38,44.3 L28.59,44.52 L26.75,44.62 L24.96,44.59 L23.34,44.39 L22,44 L20.97,43.44 L20.19,42.74 L19.56,41.88 L19.04,40.81 L18.54,39.53 L18,38 L17.33,36.03 L16.56,33.59 L15.81,30.94 L15.22,28.3 L14.91,25.91 L15,24 L15.55,22.61 L16.48,21.56 L17.69,20.75 L19.07,20.11 L20.54,19.56 Z" fill="#35297e" filter="url(#fBlur1)"/>
<path d="M2,20 C8,22 14,24 20,27 M4,38 C10,36 15,34 20,33" stroke="#06061a" stroke-width="1.6" fill="none" opacity="0.7" filter="url(#fBlur1)"/>
<ellipse cx="73" cy="22" rx="6" ry="8" fill="#4d3e98" opacity="0.7" filter="url(#fBlur1)"/>
<rect x="20" y="25" width="21" height="19" rx="7" fill="#2a40d8" filter="url(#fBlur1)"/>
<ellipse cx="29.5" cy="34" rx="5" ry="3.3" fill="#2be0c8" filter="url(#fBlur05)"/>
<ellipse cx="29.8" cy="34" rx="2.3" ry="1.5" fill="#0a3a20"/>
<ellipse cx="66" cy="33" rx="5" ry="3" fill="#2a3ad0" opacity="0.5" filter="url(#fBlur1)"/>
</g></g>
<g clip-path="url(#cD6)"><rect x="459" y="208.3" width="89" height="56.5" fill="url(#gD2bg)"/>
<g transform="translate(459 208.3)">
<path d="M10,22 L10.83,21.05 L11.74,20.04 L12.72,19 L13.76,17.96 L14.86,16.95 L16,16 L17.21,15.09 L18.48,14.19 L19.81,13.31 L21.19,12.48 L22.59,11.71 L24,11 L25.44,10.36 L26.93,9.78 L28.44,9.25 L29.96,8.78 L31.49,8.36 L33,8 L34.51,7.69 L36.04,7.44 L37.56,7.25 L39.07,7.11 L40.56,7.03 L42,7 L43.4,7.03 L44.78,7.11 L46.12,7.25 L47.44,7.44 L48.74,7.69 L50,8 L51.22,8.37 L52.41,8.81 L53.56,9.31 L54.7,9.85 L55.84,10.42 L57,11 L58.18,11.6 L59.37,12.22 L60.56,12.88 L61.74,13.56 L62.89,14.26 L64,15 L65.08,15.76 L66.15,16.56 L67.19,17.38 L68.19,18.22 L69.13,19.1 L70,20 L70.81,20.94 L71.57,21.93 L72.28,22.94 L72.93,23.96 L73.5,24.99 L74,26 L74.43,27 L74.8,28 L75.09,29 L75.31,30 L75.45,31 L75.5,32 L75.43,33 L75.24,34 L74.97,35 L74.65,36 L74.31,37 L74,38 L73.7,39.02 L73.37,40.07 L73.03,41.12 L72.69,42.15 L72.34,43.12 L72,44 L71.69,44.84 L71.41,45.67 L71.12,46.44 L70.81,47.11 L70.45,47.65 L70,48 L69.44,48.17 L68.78,48.19 L68.06,48.06 L67.33,47.81 L66.63,47.46 L66,47 L65.47,46.38 L65,45.56 L64.56,44.62 L64.11,43.67 L63.6,42.76 L63,42 L62.29,41.37 L61.52,40.81 L60.69,40.31 L59.81,39.85 L58.91,39.42 L58,39 L57.07,38.6 L56.11,38.22 L55.12,37.88 L54.11,37.56 L53.07,37.26 L52,37 L50.89,36.75 L49.74,36.52 L48.56,36.31 L47.37,36.15 L46.18,36.04 L45,36 L43.84,36.03 L42.7,36.11 L41.56,36.25 L40.41,36.44 L39.22,36.69 L38,37 L36.72,37.41 L35.41,37.93 L34.06,38.5 L32.7,39.07 L31.34,39.59 L30,40 L28.66,40.32 L27.3,40.59 L25.94,40.81 L24.59,40.96 L23.28,41.03 L22,41 L20.75,40.86 L19.52,40.63 L18.31,40.31 L17.15,39.93 L16.04,39.48 L15,39 L14.03,38.45 L13.11,37.81 L12.25,37.12 L11.44,36.41 L10.69,35.69 L10,35 L9.36,34.33 L8.76,33.67 L8.22,33 L7.74,32.33 L7.33,31.67 L7,31 L6.73,30.34 L6.5,29.7 L6.34,29.06 L6.28,28.41 L6.32,27.72 L6.5,27 L6.82,26.24 L7.28,25.44 L7.84,24.62 L8.5,23.78 L9.23,22.9 Z" fill="#3a2a90" opacity="0.8" filter="url(#fBlur2)"/>
<path d="M10,22 L10.83,21.05 L11.74,20.04 L12.72,19 L13.76,17.96 L14.86,16.95 L16,16 L17.21,15.09 L18.48,14.19 L19.81,13.31 L21.19,12.48 L22.59,11.71 L24,11 L25.44,10.36 L26.93,9.78 L28.44,9.25 L29.96,8.78 L31.49,8.36 L33,8 L34.51,7.69 L36.04,7.44 L37.56,7.25 L39.07,7.11 L40.56,7.03 L42,7 L43.4,7.03 L44.78,7.11 L46.12,7.25 L47.44,7.44 L48.74,7.69 L50,8 L51.22,8.37 L52.41,8.81 L53.56,9.31 L54.7,9.85 L55.84,10.42 L57,11 L58.18,11.6 L59.37,12.22 L60.56,12.88 L61.74,13.56 L62.89,14.26 L64,15 L65.08,15.76 L66.15,16.56 L67.19,17.38 L68.19,18.22 L69.13,19.1 L70,20 L70.81,20.94 L71.57,21.93 L72.28,22.94 L72.93,23.96 L73.5,24.99 L74,26 L74.43,27 L74.8,28 L75.09,29 L75.31,30 L75.45,31 L75.5,32 L75.43,33 L75.24,34 L74.97,35 L74.65,36 L74.31,37 L74,38 L73.7,39.02 L73.37,40.07 L73.03,41.12 L72.69,42.15 L72.34,43.12 L72,44 L71.69,44.84 L71.41,45.67 L71.12,46.44 L70.81,47.11 L70.45,47.65 L70,48 L69.44,48.17 L68.78,48.19 L68.06,48.06 L67.33,47.81 L66.63,47.46 L66,47 L65.47,46.38 L65,45.56 L64.56,44.62 L64.11,43.67 L63.6,42.76 L63,42 L62.29,41.37 L61.52,40.81 L60.69,40.31 L59.81,39.85 L58.91,39.42 L58,39 L57.07,38.6 L56.11,38.22 L55.12,37.88 L54.11,37.56 L53.07,37.26 L52,37 L50.89,36.75 L49.74,36.52 L48.56,36.31 L47.37,36.15 L46.18,36.04 L45,36 L43.84,36.03 L42.7,36.11 L41.56,36.25 L40.41,36.44 L39.22,36.69 L38,37 L36.72,37.41 L35.41,37.93 L34.06,38.5 L32.7,39.07 L31.34,39.59 L30,40 L28.66,40.32 L27.3,40.59 L25.94,40.81 L24.59,40.96 L23.28,41.03 L22,41 L20.75,40.86 L19.52,40.63 L18.31,40.31 L17.15,39.93 L16.04,39.48 L15,39 L14.03,38.45 L13.11,37.81 L12.25,37.12 L11.44,36.41 L10.69,35.69 L10,35 L9.36,34.33 L8.76,33.67 L8.22,33 L7.74,32.33 L7.33,31.67 L7,31 L6.73,30.34 L6.5,29.7 L6.34,29.06 L6.28,28.41 L6.32,27.72 L6.5,27 L6.82,26.24 L7.28,25.44 L7.84,24.62 L8.5,23.78 L9.23,22.9 Z" fill="#1d3fd6" filter="url(#fBlur1)" transform="translate(1.5 1) scale(0.97)"/>
<ellipse cx="25.4" cy="30.3" rx="6.4" ry="7" fill="#2ad8e0" filter="url(#fBlur1)"/>
<ellipse cx="25.4" cy="30.3" rx="4.3" ry="4.8" fill="#18b040"/>
<circle cx="25.4" cy="30.3" r="2.3" fill="#e41010"/>
</g></g>
<rect x="276.3" y="270.6" width="130" height="6.6" fill="url(#gDbar)" stroke="#222" stroke-width="0.6" />
<line x1="276.5" y1="282.2" x2="406" y2="282.2" stroke="#e8141a" stroke-width="1" />
<path d="M404.5,280.4 L408.6,282.2 L404.5,284 Z" fill="#e8141a"/>
<text x="271.2" y="291.6" font-family="'Liberation Sans', Arial, sans-serif" font-size="7.2" font-weight="bold" text-anchor="start" fill="#000" >20 °C</text>
<text x="403.2" y="291.6" font-family="'Liberation Sans', Arial, sans-serif" font-size="7.2" font-weight="bold" text-anchor="start" fill="#000" >65 °C</text>
<text x="19" y="224.1" font-family="'Liberation Sans', Arial, sans-serif" font-size="4.1" font-weight="bold" text-anchor="start" fill="#000" >Sequence</text>
<text x="19" y="228.4" font-family="'Liberation Sans', Arial, sans-serif" font-size="4.1" font-weight="bold" text-anchor="start" fill="#000" >for forming</text>
<text x="19" y="232.7" font-family="'Liberation Sans', Arial, sans-serif" font-size="4.1" font-weight="bold" text-anchor="start" fill="#000" >Ag@Pd NCs</text>
<path d="M42.5,227.6 L55,227.6" stroke="url(#gArrS)" stroke-width="1"/>
<path d="M42,227.6 L44.5,226.5 L44.5,228.7 Z" fill="#222"/>
<text x="59.5" y="249.4" font-family="'Liberation Sans', Arial, sans-serif" font-size="4.1" font-weight="bold" text-anchor="start" fill="#000" >Recognition</text>
<text x="61.5" y="254" font-family="'Liberation Sans', Arial, sans-serif" font-size="4.1" font-weight="bold" text-anchor="start" fill="#000" >sequence</text>
<path d="M49,249.2 L58.5,249.2" stroke="url(#gArrS)" stroke-width="1"/>
<circle cx="71.9" cy="227.8" r="14.5" fill="none" stroke="#9ed29a" stroke-width="2"/>
<polyline points="86.4,227.8 86.66,228.09 86.89,228.39 87.06,228.69 87.16,229 87.18,229.3 87.1,229.6 86.94,229.88 86.71,230.15 86.43,230.4 86.12,230.63 85.81,230.85 85.51,231.07 85.26,231.29 85.08,231.52 84.96,231.76 84.92,232.03 84.95,232.33 85.04,232.65 85.16,232.99 85.3,233.35 85.43,233.72 85.52,234.08 85.57,234.43 85.54,234.75 85.44,235.04 85.26,235.28 85,235.48 84.69,235.64 84.33,235.76 83.96,235.86 83.58,235.94 83.23,236.03 82.91,236.14 82.65,236.28 82.45,236.46 82.31,236.69 82.22,236.97 82.18,237.3 82.16,237.67 82.15,238.05 82.13,238.44 82.08,238.81 81.99,239.15 81.84,239.44 81.64,239.67 81.38,239.82 81.07,239.91 80.72,239.93 80.34,239.91 79.96,239.86 79.58,239.79 79.22,239.74 78.88,239.72 78.59,239.75 78.33,239.84 78.12,240 77.93,240.23 77.76,240.51 77.61,240.84 77.45,241.2 77.28,241.55 77.09,241.87 76.88,242.15 76.63,242.36 76.36,242.49 76.06,242.53 75.73,242.5 75.4,242.39 75.06,242.22 74.73,242.02 74.4,241.82 74.09,241.63 73.79,241.48 73.51,241.4 73.24,241.38 72.97,241.45 72.71,241.59 72.45,241.79 72.18,242.03 71.9,242.3 71.61,242.56 71.31,242.79 71.01,242.96 70.7,243.06 70.4,243.08 70.1,243 69.82,242.84 69.55,242.61 69.3,242.33 69.07,242.02 68.85,241.71 68.63,241.41 68.41,241.16 68.18,240.98 67.94,240.86 67.67,240.82 67.37,240.85 67.05,240.94 66.71,241.06 66.35,241.2 65.98,241.33 65.62,241.42 65.27,241.47 64.95,241.44 64.66,241.34 64.42,241.16 64.22,240.9 64.06,240.59 63.94,240.23 63.84,239.86 63.76,239.48 63.67,239.13 63.56,238.81 63.42,238.55 63.24,238.35 63.01,238.21 62.73,238.12 62.4,238.08 62.03,238.06 61.65,238.05 61.26,238.03 60.89,237.98 60.55,237.89 60.26,237.74 60.03,237.54 59.88,237.28 59.79,236.97 59.77,236.62 59.79,236.24 59.84,235.86 59.91,235.48 59.96,235.12 59.98,234.78 59.95,234.49 59.86,234.23 59.7,234.02 59.47,233.83 59.19,233.66 58.86,233.51 58.5,233.35 58.15,233.18 57.83,232.99 57.55,232.78 57.34,232.53 57.21,232.26 57.17,231.96 57.2,231.63 57.31,231.3 57.48,230.96 57.68,230.63 57.88,230.3 58.07,229.99 58.22,229.69 58.3,229.41 58.32,229.14 58.25,228.87 58.11,228.61 57.91,228.35 57.67,228.08 57.4,227.8 57.14,227.51 56.91,227.21 56.74,226.91 56.64,226.6 56.62,226.3 56.7,226 56.86,225.72 57.09,225.45 57.37,225.2 57.68,224.97 57.99,224.75 58.29,224.53 58.54,224.31 58.72,224.08 58.84,223.84 58.88,223.57 58.85,223.27 58.76,222.95 58.64,222.61 58.5,222.25 58.37,221.88 58.28,221.52 58.23,221.17 58.26,220.85 58.36,220.56 58.54,220.32 58.8,220.12 59.11,219.96 59.47,219.84 59.84,219.74 60.22,219.66 60.57,219.57 60.89,219.46 61.15,219.32 61.35,219.14 61.49,218.91 61.58,218.63 61.62,218.3 61.64,217.93 61.65,217.55 61.67,217.16 61.72,216.79 61.81,216.45 61.96,216.16 62.16,215.93 62.42,215.78 62.73,215.69 63.08,215.67 63.46,215.69 63.84,215.74 64.22,215.81 64.58,215.86 64.92,215.88 65.21,215.85 65.47,215.76 65.68,215.6 65.87,215.37 66.04,215.09 66.19,214.76 66.35,214.4 66.52,214.05 66.71,213.73 66.92,213.45 67.17,213.24 67.44,213.11 67.74,213.07 68.07,213.1 68.4,213.21 68.74,213.38 69.07,213.58 69.4,213.78 69.71,213.97 70.01,214.12 70.29,214.2 70.56,214.22 70.83,214.15 71.09,214.01 71.35,213.81 71.62,213.57 71.9,213.3 72.19,213.04 72.49,212.81 72.79,212.64 73.1,212.54 73.4,212.52 73.7,212.6 73.98,212.76 74.25,212.99 74.5,213.27 74.73,213.58 74.95,213.89 75.17,214.19 75.39,214.44 75.62,214.62 75.86,214.74 76.13,214.78 76.43,214.75 76.75,214.66 77.09,214.54 77.45,214.4 77.82,214.27 78.18,214.18 78.53,214.13 78.85,214.16 79.14,214.26 79.38,214.44 79.58,214.7 79.74,215.01 79.86,215.37 79.96,215.74 80.04,216.12 80.13,216.47 80.24,216.79 80.38,217.05 80.56,217.25 80.79,217.39 81.07,217.48 81.4,217.52 81.77,217.54 82.15,217.55 82.54,217.57 82.91,217.62 83.25,217.71 83.54,217.86 83.77,218.06 83.92,218.32 84.01,218.63 84.03,218.98 84.01,219.36 83.96,219.74 83.89,220.12 83.84,220.48 83.82,220.82 83.85,221.11 83.94,221.37 84.1,221.58 84.33,221.77 84.61,221.94 84.94,222.09 85.3,222.25 85.65,222.42 85.97,222.61 86.25,222.82 86.46,223.07 86.59,223.34 86.63,223.64 86.6,223.97 86.49,224.3 86.32,224.64 86.12,224.97 85.92,225.3 85.73,225.61 85.58,225.91 85.5,226.19 85.48,226.46 85.55,226.73 85.69,226.99 85.89,227.25 86.13,227.52 86.4,227.8" fill="none" stroke="#4a9f58" stroke-width="0.65" stroke-linejoin="round" stroke-linecap="round" />
<polyline points="86.4,227.8 86.13,228.08 85.89,228.35 85.69,228.61 85.55,228.87 85.48,229.14 85.5,229.41 85.58,229.69 85.73,229.99 85.92,230.3 86.12,230.63 86.32,230.96 86.49,231.3 86.6,231.63 86.63,231.96 86.59,232.26 86.46,232.53 86.25,232.78 85.97,232.99 85.65,233.18 85.3,233.35 84.94,233.51 84.61,233.66 84.33,233.83 84.1,234.02 83.94,234.23 83.85,234.49 83.82,234.78 83.84,235.12 83.89,235.48 83.96,235.86 84.01,236.24 84.03,236.62 84.01,236.97 83.92,237.28 83.77,237.54 83.54,237.74 83.25,237.89 82.91,237.98 82.54,238.03 82.15,238.05 81.77,238.06 81.4,238.08 81.07,238.12 80.79,238.21 80.56,238.35 80.38,238.55 80.24,238.81 80.13,239.13 80.04,239.48 79.96,239.86 79.86,240.23 79.74,240.59 79.58,240.9 79.38,241.16 79.14,241.34 78.85,241.44 78.53,241.47 78.18,241.42 77.82,241.33 77.45,241.2 77.09,241.06 76.75,240.94 76.43,240.85 76.13,240.82 75.86,240.86 75.62,240.98 75.39,241.16 75.17,241.41 74.95,241.71 74.73,242.02 74.5,242.33 74.25,242.61 73.98,242.84 73.7,243 73.4,243.08 73.1,243.06 72.79,242.96 72.49,242.79 72.19,242.56 71.9,242.3 71.62,242.03 71.35,241.79 71.09,241.59 70.83,241.45 70.56,241.38 70.29,241.4 70.01,241.48 69.71,241.63 69.4,241.82 69.07,242.02 68.74,242.22 68.4,242.39 68.07,242.5 67.74,242.53 67.44,242.49 67.17,242.36 66.92,242.15 66.71,241.87 66.52,241.55 66.35,241.2 66.19,240.84 66.04,240.51 65.87,240.23 65.68,240 65.47,239.84 65.21,239.75 64.92,239.72 64.58,239.74 64.22,239.79 63.84,239.86 63.46,239.91 63.08,239.93 62.73,239.91 62.42,239.82 62.16,239.67 61.96,239.44 61.81,239.15 61.72,238.81 61.67,238.44 61.65,238.05 61.64,237.67 61.62,237.3 61.58,236.97 61.49,236.69 61.35,236.46 61.15,236.28 60.89,236.14 60.57,236.03 60.22,235.94 59.84,235.86 59.47,235.76 59.11,235.64 58.8,235.48 58.54,235.28 58.36,235.04 58.26,234.75 58.23,234.43 58.28,234.08 58.37,233.72 58.5,233.35 58.64,232.99 58.76,232.65 58.85,232.33 58.88,232.03 58.84,231.76 58.72,231.52 58.54,231.29 58.29,231.07 57.99,230.85 57.68,230.63 57.37,230.4 57.09,230.15 56.86,229.88 56.7,229.6 56.62,229.3 56.64,229 56.74,228.69 56.91,228.39 57.14,228.09 57.4,227.8 57.67,227.52 57.91,227.25 58.11,226.99 58.25,226.73 58.32,226.46 58.3,226.19 58.22,225.91 58.07,225.61 57.88,225.3 57.68,224.97 57.48,224.64 57.31,224.3 57.2,223.97 57.17,223.64 57.21,223.34 57.34,223.07 57.55,222.82 57.83,222.61 58.15,222.42 58.5,222.25 58.86,222.09 59.19,221.94 59.47,221.77 59.7,221.58 59.86,221.37 59.95,221.11 59.98,220.82 59.96,220.48 59.91,220.12 59.84,219.74 59.79,219.36 59.77,218.98 59.79,218.63 59.88,218.32 60.03,218.06 60.26,217.86 60.55,217.71 60.89,217.62 61.26,217.57 61.65,217.55 62.03,217.54 62.4,217.52 62.73,217.48 63.01,217.39 63.24,217.25 63.42,217.05 63.56,216.79 63.67,216.47 63.76,216.12 63.84,215.74 63.94,215.37 64.06,215.01 64.22,214.7 64.42,214.44 64.66,214.26 64.95,214.16 65.27,214.13 65.62,214.18 65.98,214.27 66.35,214.4 66.71,214.54 67.05,214.66 67.37,214.75 67.67,214.78 67.94,214.74 68.18,214.62 68.41,214.44 68.63,214.19 68.85,213.89 69.07,213.58 69.3,213.27 69.55,212.99 69.82,212.76 70.1,212.6 70.4,212.52 70.7,212.54 71.01,212.64 71.31,212.81 71.61,213.04 71.9,213.3 72.18,213.57 72.45,213.81 72.71,214.01 72.97,214.15 73.24,214.22 73.51,214.2 73.79,214.12 74.09,213.97 74.4,213.78 74.73,213.58 75.06,213.38 75.4,213.21 75.73,213.1 76.06,213.07 76.36,213.11 76.63,213.24 76.88,213.45 77.09,213.73 77.28,214.05 77.45,214.4 77.61,214.76 77.76,215.09 77.93,215.37 78.12,215.6 78.33,215.76 78.59,215.85 78.88,215.88 79.22,215.86 79.58,215.81 79.96,215.74 80.34,215.69 80.72,215.67 81.07,215.69 81.38,215.78 81.64,215.93 81.84,216.16 81.99,216.45 82.08,216.79 82.13,217.16 82.15,217.55 82.16,217.93 82.18,218.3 82.22,218.63 82.31,218.91 82.45,219.14 82.65,219.32 82.91,219.46 83.23,219.57 83.58,219.66 83.96,219.74 84.33,219.84 84.69,219.96 85,220.12 85.26,220.32 85.44,220.56 85.54,220.85 85.57,221.17 85.52,221.52 85.43,221.88 85.3,222.25 85.16,222.61 85.04,222.95 84.95,223.27 84.92,223.57 84.96,223.84 85.08,224.08 85.26,224.31 85.51,224.53 85.81,224.75 86.12,224.97 86.43,225.2 86.71,225.45 86.94,225.72 87.1,226 87.18,226.3 87.16,226.6 87.06,226.91 86.89,227.21 86.66,227.51 86.4,227.8" fill="none" stroke="#4a9f58" stroke-width="0.65" stroke-linejoin="round" stroke-linecap="round" />
<path d="M38,251 c2,-2 4,-2 6,0 s4,2 6,0 s4,-2 6,-1 s3,-1 5,-2" stroke="#e0303a" stroke-width="0.9" fill="none"/>
<path d="M51,244 c2,-1 4,-3 6,-4 s3,-3 5,-5 s2,-2 4,-4" stroke="#1aa0a0" stroke-width="1" fill="none"/>
<path d="M54,240 c2,-1 3,-3 5,-3 s3,-2 4,-4" stroke="#9aa" stroke-width="1.3" fill="none"/>
<path d="M97.8,227.5 L125,227.3 L125,225.6 L130.5,228.2 L125,230.8 L125,229.1 L97.8,228.9 Z" fill="url(#gArrE)"/>
<circle cx="114" cy="219.8" r="4.3" fill="url(#gBr)"/>
<path d="M111.8,219.8 H116.2 M114,217.6 V222" stroke="#fff" stroke-width="1"/>
<circle cx="114" cy="235.3" r="4.3" fill="url(#gBl)"/>
<path d="M111.8,235.3 H116.2 M114,233.1 V237.5" stroke="#111" stroke-width="1"/>
<circle cx="152.8" cy="228.3" r="14.5" fill="none" stroke="#9ed29a" stroke-width="2"/>
<polyline points="167.3,228.3 167.56,228.59 167.79,228.89 167.96,229.19 168.06,229.5 168.08,229.8 168,230.1 167.84,230.38 167.61,230.65 167.33,230.9 167.02,231.13 166.71,231.35 166.41,231.57 166.16,231.79 165.98,232.02 165.86,232.26 165.82,232.53 165.85,232.83 165.94,233.15 166.06,233.49 166.2,233.85 166.33,234.22 166.42,234.58 166.47,234.93 166.44,235.25 166.34,235.54 166.16,235.78 165.9,235.98 165.59,236.14 165.23,236.26 164.86,236.36 164.48,236.44 164.13,236.53 163.81,236.64 163.55,236.78 163.35,236.96 163.21,237.19 163.12,237.47 163.08,237.8 163.06,238.17 163.05,238.55 163.03,238.94 162.98,239.31 162.89,239.65 162.74,239.94 162.54,240.17 162.28,240.32 161.97,240.41 161.62,240.43 161.24,240.41 160.86,240.36 160.48,240.29 160.12,240.24 159.78,240.22 159.49,240.25 159.23,240.34 159.02,240.5 158.83,240.73 158.66,241.01 158.51,241.34 158.35,241.7 158.18,242.05 157.99,242.37 157.78,242.65 157.53,242.86 157.26,242.99 156.96,243.03 156.63,243 156.3,242.89 155.96,242.72 155.63,242.52 155.3,242.32 154.99,242.13 154.69,241.98 154.41,241.9 154.14,241.88 153.87,241.95 153.61,242.09 153.35,242.29 153.08,242.53 152.8,242.8 152.51,243.06 152.21,243.29 151.91,243.46 151.6,243.56 151.3,243.58 151,243.5 150.72,243.34 150.45,243.11 150.2,242.83 149.97,242.52 149.75,242.21 149.53,241.91 149.31,241.66 149.08,241.48 148.84,241.36 148.57,241.32 148.27,241.35 147.95,241.44 147.61,241.56 147.25,241.7 146.88,241.83 146.52,241.92 146.17,241.97 145.85,241.94 145.56,241.84 145.32,241.66 145.12,241.4 144.96,241.09 144.84,240.73 144.74,240.36 144.66,239.98 144.57,239.63 144.46,239.31 144.32,239.05 144.14,238.85 143.91,238.71 143.63,238.62 143.3,238.58 142.93,238.56 142.55,238.55 142.16,238.53 141.79,238.48 141.45,238.39 141.16,238.24 140.93,238.04 140.78,237.78 140.69,237.47 140.67,237.12 140.69,236.74 140.74,236.36 140.81,235.98 140.86,235.62 140.88,235.28 140.85,234.99 140.76,234.73 140.6,234.52 140.37,234.33 140.09,234.16 139.76,234.01 139.4,233.85 139.05,233.68 138.73,233.49 138.45,233.28 138.24,233.03 138.11,232.76 138.07,232.46 138.1,232.13 138.21,231.8 138.38,231.46 138.58,231.13 138.78,230.8 138.97,230.49 139.12,230.19 139.2,229.91 139.22,229.64 139.15,229.37 139.01,229.11 138.81,228.85 138.57,228.58 138.3,228.3 138.04,228.01 137.81,227.71 137.64,227.41 137.54,227.1 137.52,226.8 137.6,226.5 137.76,226.22 137.99,225.95 138.27,225.7 138.58,225.47 138.89,225.25 139.19,225.03 139.44,224.81 139.62,224.58 139.74,224.34 139.78,224.07 139.75,223.77 139.66,223.45 139.54,223.11 139.4,222.75 139.27,222.38 139.18,222.02 139.13,221.67 139.16,221.35 139.26,221.06 139.44,220.82 139.7,220.62 140.01,220.46 140.37,220.34 140.74,220.24 141.12,220.16 141.47,220.07 141.79,219.96 142.05,219.82 142.25,219.64 142.39,219.41 142.48,219.13 142.52,218.8 142.54,218.43 142.55,218.05 142.57,217.66 142.62,217.29 142.71,216.95 142.86,216.66 143.06,216.43 143.32,216.28 143.63,216.19 143.98,216.17 144.36,216.19 144.74,216.24 145.12,216.31 145.48,216.36 145.82,216.38 146.11,216.35 146.37,216.26 146.58,216.1 146.77,215.87 146.94,215.59 147.09,215.26 147.25,214.9 147.42,214.55 147.61,214.23 147.82,213.95 148.07,213.74 148.34,213.61 148.64,213.57 148.97,213.6 149.3,213.71 149.64,213.88 149.97,214.08 150.3,214.28 150.61,214.47 150.91,214.62 151.19,214.7 151.46,214.72 151.73,214.65 151.99,214.51 152.25,214.31 152.52,214.07 152.8,213.8 153.09,213.54 153.39,213.31 153.69,213.14 154,213.04 154.3,213.02 154.6,213.1 154.88,213.26 155.15,213.49 155.4,213.77 155.63,214.08 155.85,214.39 156.07,214.69 156.29,214.94 156.52,215.12 156.76,215.24 157.03,215.28 157.33,215.25 157.65,215.16 157.99,215.04 158.35,214.9 158.72,214.77 159.08,214.68 159.43,214.63 159.75,214.66 160.04,214.76 160.28,214.94 160.48,215.2 160.64,215.51 160.76,215.87 160.86,216.24 160.94,216.62 161.03,216.97 161.14,217.29 161.28,217.55 161.46,217.75 161.69,217.89 161.97,217.98 162.3,218.02 162.67,218.04 163.05,218.05 163.44,218.07 163.81,218.12 164.15,218.21 164.44,218.36 164.67,218.56 164.82,218.82 164.91,219.13 164.93,219.48 164.91,219.86 164.86,220.24 164.79,220.62 164.74,220.98 164.72,221.32 164.75,221.61 164.84,221.87 165,222.08 165.23,222.27 165.51,222.44 165.84,222.59 166.2,222.75 166.55,222.92 166.87,223.11 167.15,223.32 167.36,223.57 167.49,223.84 167.53,224.14 167.5,224.47 167.39,224.8 167.22,225.14 167.02,225.47 166.82,225.8 166.63,226.11 166.48,226.41 166.4,226.69 166.38,226.96 166.45,227.23 166.59,227.49 166.79,227.75 167.03,228.02 167.3,228.3" fill="none" stroke="#4a9f58" stroke-width="0.65" stroke-linejoin="round" stroke-linecap="round" />
<polyline points="167.3,228.3 167.03,228.58 166.79,228.85 166.59,229.11 166.45,229.37 166.38,229.64 166.4,229.91 166.48,230.19 166.63,230.49 166.82,230.8 167.02,231.13 167.22,231.46 167.39,231.8 167.5,232.13 167.53,232.46 167.49,232.76 167.36,233.03 167.15,233.28 166.87,233.49 166.55,233.68 166.2,233.85 165.84,234.01 165.51,234.16 165.23,234.33 165,234.52 164.84,234.73 164.75,234.99 164.72,235.28 164.74,235.62 164.79,235.98 164.86,236.36 164.91,236.74 164.93,237.12 164.91,237.47 164.82,237.78 164.67,238.04 164.44,238.24 164.15,238.39 163.81,238.48 163.44,238.53 163.05,238.55 162.67,238.56 162.3,238.58 161.97,238.62 161.69,238.71 161.46,238.85 161.28,239.05 161.14,239.31 161.03,239.63 160.94,239.98 160.86,240.36 160.76,240.73 160.64,241.09 160.48,241.4 160.28,241.66 160.04,241.84 159.75,241.94 159.43,241.97 159.08,241.92 158.72,241.83 158.35,241.7 157.99,241.56 157.65,241.44 157.33,241.35 157.03,241.32 156.76,241.36 156.52,241.48 156.29,241.66 156.07,241.91 155.85,242.21 155.63,242.52 155.4,242.83 155.15,243.11 154.88,243.34 154.6,243.5 154.3,243.58 154,243.56 153.69,243.46 153.39,243.29 153.09,243.06 152.8,242.8 152.52,242.53 152.25,242.29 151.99,242.09 151.73,241.95 151.46,241.88 151.19,241.9 150.91,241.98 150.61,242.13 150.3,242.32 149.97,242.52 149.64,242.72 149.3,242.89 148.97,243 148.64,243.03 148.34,242.99 148.07,242.86 147.82,242.65 147.61,242.37 147.42,242.05 147.25,241.7 147.09,241.34 146.94,241.01 146.77,240.73 146.58,240.5 146.37,240.34 146.11,240.25 145.82,240.22 145.48,240.24 145.12,240.29 144.74,240.36 144.36,240.41 143.98,240.43 143.63,240.41 143.32,240.32 143.06,240.17 142.86,239.94 142.71,239.65 142.62,239.31 142.57,238.94 142.55,238.55 142.54,238.17 142.52,237.8 142.48,237.47 142.39,237.19 142.25,236.96 142.05,236.78 141.79,236.64 141.47,236.53 141.12,236.44 140.74,236.36 140.37,236.26 140.01,236.14 139.7,235.98 139.44,235.78 139.26,235.54 139.16,235.25 139.13,234.93 139.18,234.58 139.27,234.22 139.4,233.85 139.54,233.49 139.66,233.15 139.75,232.83 139.78,232.53 139.74,232.26 139.62,232.02 139.44,231.79 139.19,231.57 138.89,231.35 138.58,231.13 138.27,230.9 137.99,230.65 137.76,230.38 137.6,230.1 137.52,229.8 137.54,229.5 137.64,229.19 137.81,228.89 138.04,228.59 138.3,228.3 138.57,228.02 138.81,227.75 139.01,227.49 139.15,227.23 139.22,226.96 139.2,226.69 139.12,226.41 138.97,226.11 138.78,225.8 138.58,225.47 138.38,225.14 138.21,224.8 138.1,224.47 138.07,224.14 138.11,223.84 138.24,223.57 138.45,223.32 138.73,223.11 139.05,222.92 139.4,222.75 139.76,222.59 140.09,222.44 140.37,222.27 140.6,222.08 140.76,221.87 140.85,221.61 140.88,221.32 140.86,220.98 140.81,220.62 140.74,220.24 140.69,219.86 140.67,219.48 140.69,219.13 140.78,218.82 140.93,218.56 141.16,218.36 141.45,218.21 141.79,218.12 142.16,218.07 142.55,218.05 142.93,218.04 143.3,218.02 143.63,217.98 143.91,217.89 144.14,217.75 144.32,217.55 144.46,217.29 144.57,216.97 144.66,216.62 144.74,216.24 144.84,215.87 144.96,215.51 145.12,215.2 145.32,214.94 145.56,214.76 145.85,214.66 146.17,214.63 146.52,214.68 146.88,214.77 147.25,214.9 147.61,215.04 147.95,215.16 148.27,215.25 148.57,215.28 148.84,215.24 149.08,215.12 149.31,214.94 149.53,214.69 149.75,214.39 149.97,214.08 150.2,213.77 150.45,213.49 150.72,213.26 151,213.1 151.3,213.02 151.6,213.04 151.91,213.14 152.21,213.31 152.51,213.54 152.8,213.8 153.08,214.07 153.35,214.31 153.61,214.51 153.87,214.65 154.14,214.72 154.41,214.7 154.69,214.62 154.99,214.47 155.3,214.28 155.63,214.08 155.96,213.88 156.3,213.71 156.63,213.6 156.96,213.57 157.26,213.61 157.53,213.74 157.78,213.95 157.99,214.23 158.18,214.55 158.35,214.9 158.51,215.26 158.66,215.59 158.83,215.87 159.02,216.1 159.23,216.26 159.49,216.35 159.78,216.38 160.12,216.36 160.48,216.31 160.86,216.24 161.24,216.19 161.62,216.17 161.97,216.19 162.28,216.28 162.54,216.43 162.74,216.66 162.89,216.95 162.98,217.29 163.03,217.66 163.05,218.05 163.06,218.43 163.08,218.8 163.12,219.13 163.21,219.41 163.35,219.64 163.55,219.82 163.81,219.96 164.13,220.07 164.48,220.16 164.86,220.24 165.23,220.34 165.59,220.46 165.9,220.62 166.16,220.82 166.34,221.06 166.44,221.35 166.47,221.67 166.42,222.02 166.33,222.38 166.2,222.75 166.06,223.11 165.94,223.45 165.85,223.77 165.82,224.07 165.86,224.34 165.98,224.58 166.16,224.81 166.41,225.03 166.71,225.25 167.02,225.47 167.33,225.7 167.61,225.95 167.84,226.22 168,226.5 168.08,226.8 168.06,227.1 167.96,227.41 167.79,227.71 167.56,228.01 167.3,228.3" fill="none" stroke="#4a9f58" stroke-width="0.65" stroke-linejoin="round" stroke-linecap="round" />
<path d="M119,252.5 c2,-2 4,-2 6,0 s4,2 6,0 s4,-2 6,-1 s3,-1 5,-2" stroke="#e0303a" stroke-width="0.9" fill="none"/>
<path d="M132,245.5 c2,-1 4,-3 6,-4 s3,-3 5,-5 s2,-2 4,-4" stroke="#1aa0a0" stroke-width="1" fill="none"/>
<path d="M135,241.5 c2,-1 3,-3 5,-3 s3,-2 4,-4" stroke="#9aa" stroke-width="1.3" fill="none"/>
<circle cx="147" cy="220" r="2.1" fill="none" stroke="#9b3b24" stroke-width="1.2"/>
<circle cx="153" cy="218" r="1.9" fill="#5a82c8"/><circle cx="153" cy="218" r="0.5" fill="#111"/>
<circle cx="159" cy="221" r="2.1" fill="none" stroke="#9b3b24" stroke-width="1.2"/>
<circle cx="145" cy="229" r="1.9" fill="#5a82c8"/><circle cx="145" cy="229" r="0.5" fill="#111"/>
<circle cx="152" cy="228" r="2.1" fill="none" stroke="#9b3b24" stroke-width="1.2"/>
<circle cx="161" cy="229" r="1.9" fill="#5a82c8"/><circle cx="161" cy="229" r="0.5" fill="#111"/>
<circle cx="148" cy="235" r="2.1" fill="none" stroke="#9b3b24" stroke-width="1.2"/>
<circle cx="156" cy="236" r="1.9" fill="#5a82c8"/><circle cx="156" cy="236" r="0.5" fill="#111"/>
<circle cx="162" cy="234" r="2.1" fill="none" stroke="#9b3b24" stroke-width="1.2"/>
<circle cx="152" cy="241" r="1.9" fill="#5a82c8"/><circle cx="152" cy="241" r="0.5" fill="#111"/>
<path d="M176.7,227.6 L199.5,227.5 L199.5,225.8 L205,228.3 L199.5,230.9 L199.5,229.1 L176.7,229 Z" fill="url(#gArrE)"/>
<text x="189.6" y="223.3" font-family="'Liberation Sans', Arial, sans-serif" font-size="4.3" font-weight="bold" text-anchor="middle" fill="#000" >NaBH<tspan font-size="2.8" dy="1">4</tspan></text>
<text x="189.6" y="234.6" font-family="'Liberation Sans', Arial, sans-serif" font-size="4.3" font-weight="bold" text-anchor="middle" fill="#000" >4 °C</text>
<circle cx="227.5" cy="228.8" r="14.5" fill="none" stroke="#9ed29a" stroke-width="2"/>
<polyline points="242,228.8 242.26,229.09 242.49,229.39 242.66,229.69 242.76,230 242.78,230.3 242.7,230.6 242.54,230.88 242.31,231.15 242.03,231.4 241.72,231.63 241.41,231.85 241.11,232.07 240.86,232.29 240.68,232.52 240.56,232.76 240.52,233.03 240.55,233.33 240.64,233.65 240.76,233.99 240.9,234.35 241.03,234.72 241.12,235.08 241.17,235.43 241.14,235.75 241.04,236.04 240.86,236.28 240.6,236.48 240.29,236.64 239.93,236.76 239.56,236.86 239.18,236.94 238.83,237.03 238.51,237.14 238.25,237.28 238.05,237.46 237.91,237.69 237.82,237.97 237.78,238.3 237.76,238.67 237.75,239.05 237.73,239.44 237.68,239.81 237.59,240.15 237.44,240.44 237.24,240.67 236.98,240.82 236.67,240.91 236.32,240.93 235.94,240.91 235.56,240.86 235.18,240.79 234.82,240.74 234.48,240.72 234.19,240.75 233.93,240.84 233.72,241 233.53,241.23 233.36,241.51 233.21,241.84 233.05,242.2 232.88,242.55 232.69,242.87 232.48,243.15 232.23,243.36 231.96,243.49 231.66,243.53 231.33,243.5 231,243.39 230.66,243.22 230.33,243.02 230,242.82 229.69,242.63 229.39,242.48 229.11,242.4 228.84,242.38 228.57,242.45 228.31,242.59 228.05,242.79 227.78,243.03 227.5,243.3 227.21,243.56 226.91,243.79 226.61,243.96 226.3,244.06 226,244.08 225.7,244 225.42,243.84 225.15,243.61 224.9,243.33 224.67,243.02 224.45,242.71 224.23,242.41 224.01,242.16 223.78,241.98 223.54,241.86 223.27,241.82 222.97,241.85 222.65,241.94 222.31,242.06 221.95,242.2 221.58,242.33 221.22,242.42 220.87,242.47 220.55,242.44 220.26,242.34 220.02,242.16 219.82,241.9 219.66,241.59 219.54,241.23 219.44,240.86 219.36,240.48 219.27,240.13 219.16,239.81 219.02,239.55 218.84,239.35 218.61,239.21 218.33,239.12 218,239.08 217.63,239.06 217.25,239.05 216.86,239.03 216.49,238.98 216.15,238.89 215.86,238.74 215.63,238.54 215.48,238.28 215.39,237.97 215.37,237.62 215.39,237.24 215.44,236.86 215.51,236.48 215.56,236.12 215.58,235.78 215.55,235.49 215.46,235.23 215.3,235.02 215.07,234.83 214.79,234.66 214.46,234.51 214.1,234.35 213.75,234.18 213.43,233.99 213.15,233.78 212.94,233.53 212.81,233.26 212.77,232.96 212.8,232.63 212.91,232.3 213.08,231.96 213.28,231.63 213.48,231.3 213.67,230.99 213.82,230.69 213.9,230.41 213.92,230.14 213.85,229.87 213.71,229.61 213.51,229.35 213.27,229.08 213,228.8 212.74,228.51 212.51,228.21 212.34,227.91 212.24,227.6 212.22,227.3 212.3,227 212.46,226.72 212.69,226.45 212.97,226.2 213.28,225.97 213.59,225.75 213.89,225.53 214.14,225.31 214.32,225.08 214.44,224.84 214.48,224.57 214.45,224.27 214.36,223.95 214.24,223.61 214.1,223.25 213.97,222.88 213.88,222.52 213.83,222.17 213.86,221.85 213.96,221.56 214.14,221.32 214.4,221.12 214.71,220.96 215.07,220.84 215.44,220.74 215.82,220.66 216.17,220.57 216.49,220.46 216.75,220.32 216.95,220.14 217.09,219.91 217.18,219.63 217.22,219.3 217.24,218.93 217.25,218.55 217.27,218.16 217.32,217.79 217.41,217.45 217.56,217.16 217.76,216.93 218.02,216.78 218.33,216.69 218.68,216.67 219.06,216.69 219.44,216.74 219.82,216.81 220.18,216.86 220.52,216.88 220.81,216.85 221.07,216.76 221.28,216.6 221.47,216.37 221.64,216.09 221.79,215.76 221.95,215.4 222.12,215.05 222.31,214.73 222.52,214.45 222.77,214.24 223.04,214.11 223.34,214.07 223.67,214.1 224,214.21 224.34,214.38 224.67,214.58 225,214.78 225.31,214.97 225.61,215.12 225.89,215.2 226.16,215.22 226.43,215.15 226.69,215.01 226.95,214.81 227.22,214.57 227.5,214.3 227.79,214.04 228.09,213.81 228.39,213.64 228.7,213.54 229,213.52 229.3,213.6 229.58,213.76 229.85,213.99 230.1,214.27 230.33,214.58 230.55,214.89 230.77,215.19 230.99,215.44 231.22,215.62 231.46,215.74 231.73,215.78 232.03,215.75 232.35,215.66 232.69,215.54 233.05,215.4 233.42,215.27 233.78,215.18 234.13,215.13 234.45,215.16 234.74,215.26 234.98,215.44 235.18,215.7 235.34,216.01 235.46,216.37 235.56,216.74 235.64,217.12 235.73,217.47 235.84,217.79 235.98,218.05 236.16,218.25 236.39,218.39 236.67,218.48 237,218.52 237.37,218.54 237.75,218.55 238.14,218.57 238.51,218.62 238.85,218.71 239.14,218.86 239.37,219.06 239.52,219.32 239.61,219.63 239.63,219.98 239.61,220.36 239.56,220.74 239.49,221.12 239.44,221.48 239.42,221.82 239.45,222.11 239.54,222.37 239.7,222.58 239.93,222.77 240.21,222.94 240.54,223.09 240.9,223.25 241.25,223.42 241.57,223.61 241.85,223.82 242.06,224.07 242.19,224.34 242.23,224.64 242.2,224.97 242.09,225.3 241.92,225.64 241.72,225.97 241.52,226.3 241.33,226.61 241.18,226.91 241.1,227.19 241.08,227.46 241.15,227.73 241.29,227.99 241.49,228.25 241.73,228.52 242,228.8" fill="none" stroke="#4a9f58" stroke-width="0.65" stroke-linejoin="round" stroke-linecap="round" />
<polyline points="242,228.8 241.73,229.08 241.49,229.35 241.29,229.61 241.15,229.87 241.08,230.14 241.1,230.41 241.18,230.69 241.33,230.99 241.52,231.3 241.72,231.63 241.92,231.96 242.09,232.3 242.2,232.63 242.23,232.96 242.19,233.26 242.06,233.53 241.85,233.78 241.57,233.99 241.25,234.18 240.9,234.35 240.54,234.51 240.21,234.66 239.93,234.83 239.7,235.02 239.54,235.23 239.45,235.49 239.42,235.78 239.44,236.12 239.49,236.48 239.56,236.86 239.61,237.24 239.63,237.62 239.61,237.97 239.52,238.28 239.37,238.54 239.14,238.74 238.85,238.89 238.51,238.98 238.14,239.03 237.75,239.05 237.37,239.06 237,239.08 236.67,239.12 236.39,239.21 236.16,239.35 235.98,239.55 235.84,239.81 235.73,240.13 235.64,240.48 235.56,240.86 235.46,241.23 235.34,241.59 235.18,241.9 234.98,242.16 234.74,242.34 234.45,242.44 234.13,242.47 233.78,242.42 233.42,242.33 233.05,242.2 232.69,242.06 232.35,241.94 232.03,241.85 231.73,241.82 231.46,241.86 231.22,241.98 230.99,242.16 230.77,242.41 230.55,242.71 230.33,243.02 230.1,243.33 229.85,243.61 229.58,243.84 229.3,244 229,244.08 228.7,244.06 228.39,243.96 228.09,243.79 227.79,243.56 227.5,243.3 227.22,243.03 226.95,242.79 226.69,242.59 226.43,242.45 226.16,242.38 225.89,242.4 225.61,242.48 225.31,242.63 225,242.82 224.67,243.02 224.34,243.22 224,243.39 223.67,243.5 223.34,243.53 223.04,243.49 222.77,243.36 222.52,243.15 222.31,242.87 222.12,242.55 221.95,242.2 221.79,241.84 221.64,241.51 221.47,241.23 221.28,241 221.07,240.84 220.81,240.75 220.52,240.72 220.18,240.74 219.82,240.79 219.44,240.86 219.06,240.91 218.68,240.93 218.33,240.91 218.02,240.82 217.76,240.67 217.56,240.44 217.41,240.15 217.32,239.81 217.27,239.44 217.25,239.05 217.24,238.67 217.22,238.3 217.18,237.97 217.09,237.69 216.95,237.46 216.75,237.28 216.49,237.14 216.17,237.03 215.82,236.94 215.44,236.86 215.07,236.76 214.71,236.64 214.4,236.48 214.14,236.28 213.96,236.04 213.86,235.75 213.83,235.43 213.88,235.08 213.97,234.72 214.1,234.35 214.24,233.99 214.36,233.65 214.45,233.33 214.48,233.03 214.44,232.76 214.32,232.52 214.14,232.29 213.89,232.07 213.59,231.85 213.28,231.63 212.97,231.4 212.69,231.15 212.46,230.88 212.3,230.6 212.22,230.3 212.24,230 212.34,229.69 212.51,229.39 212.74,229.09 213,228.8 213.27,228.52 213.51,228.25 213.71,227.99 213.85,227.73 213.92,227.46 213.9,227.19 213.82,226.91 213.67,226.61 213.48,226.3 213.28,225.97 213.08,225.64 212.91,225.3 212.8,224.97 212.77,224.64 212.81,224.34 212.94,224.07 213.15,223.82 213.43,223.61 213.75,223.42 214.1,223.25 214.46,223.09 214.79,222.94 215.07,222.77 215.3,222.58 215.46,222.37 215.55,222.11 215.58,221.82 215.56,221.48 215.51,221.12 215.44,220.74 215.39,220.36 215.37,219.98 215.39,219.63 215.48,219.32 215.63,219.06 215.86,218.86 216.15,218.71 216.49,218.62 216.86,218.57 217.25,218.55 217.63,218.54 218,218.52 218.33,218.48 218.61,218.39 218.84,218.25 219.02,218.05 219.16,217.79 219.27,217.47 219.36,217.12 219.44,216.74 219.54,216.37 219.66,216.01 219.82,215.7 220.02,215.44 220.26,215.26 220.55,215.16 220.87,215.13 221.22,215.18 221.58,215.27 221.95,215.4 222.31,215.54 222.65,215.66 222.97,215.75 223.27,215.78 223.54,215.74 223.78,215.62 224.01,215.44 224.23,215.19 224.45,214.89 224.67,214.58 224.9,214.27 225.15,213.99 225.42,213.76 225.7,213.6 226,213.52 226.3,213.54 226.61,213.64 226.91,213.81 227.21,214.04 227.5,214.3 227.78,214.57 228.05,214.81 228.31,215.01 228.57,215.15 228.84,215.22 229.11,215.2 229.39,215.12 229.69,214.97 230,214.78 230.33,214.58 230.66,214.38 231,214.21 231.33,214.1 231.66,214.07 231.96,214.11 232.23,214.24 232.48,214.45 232.69,214.73 232.88,215.05 233.05,215.4 233.21,215.76 233.36,216.09 233.53,216.37 233.72,216.6 233.93,216.76 234.19,216.85 234.48,216.88 234.82,216.86 235.18,216.81 235.56,216.74 235.94,216.69 236.32,216.67 236.67,216.69 236.98,216.78 237.24,216.93 237.44,217.16 237.59,217.45 237.68,217.79 237.73,218.16 237.75,218.55 237.76,218.93 237.78,219.3 237.82,219.63 237.91,219.91 238.05,220.14 238.25,220.32 238.51,220.46 238.83,220.57 239.18,220.66 239.56,220.74 239.93,220.84 240.29,220.96 240.6,221.12 240.86,221.32 241.04,221.56 241.14,221.85 241.17,222.17 241.12,222.52 241.03,222.88 240.9,223.25 240.76,223.61 240.64,223.95 240.55,224.27 240.52,224.57 240.56,224.84 240.68,225.08 240.86,225.31 241.11,225.53 241.41,225.75 241.72,225.97 242.03,226.2 242.31,226.45 242.54,226.72 242.7,227 242.78,227.3 242.76,227.6 242.66,227.91 242.49,228.21 242.26,228.51 242,228.8" fill="none" stroke="#4a9f58" stroke-width="0.65" stroke-linejoin="round" stroke-linecap="round" />
<path d="M194,253 c2,-2 4,-2 6,0 s4,2 6,0 s4,-2 6,-1 s3,-1 5,-2" stroke="#e0303a" stroke-width="0.9" fill="none"/>
<path d="M207,246 c2,-1 4,-3 6,-4 s3,-3 5,-5 s2,-2 4,-4" stroke="#1aa0a0" stroke-width="1" fill="none"/>
<path d="M210,242 c2,-1 3,-3 5,-3 s3,-2 4,-4" stroke="#9aa" stroke-width="1.3" fill="none"/>
<ellipse cx="227" cy="228.5" rx="10.5" ry="10" fill="#8a3a2a"/>
<circle cx="222" cy="224" r="2.7" fill="url(#gBl)"/>
<circle cx="227" cy="222" r="2.7" fill="url(#gBl)"/>
<circle cx="232" cy="225" r="2.7" fill="url(#gBl)"/>
<circle cx="219" cy="229" r="2.7" fill="url(#gBl)"/>
<circle cx="224" cy="229" r="2.7" fill="url(#gBl)"/>
<circle cx="229" cy="229" r="2.7" fill="url(#gBl)"/>
<circle cx="234" cy="230" r="2.7" fill="url(#gBl)"/>
<circle cx="222" cy="234" r="2.7" fill="url(#gBl)"/>
<circle cx="227" cy="234" r="2.7" fill="url(#gBl)"/>
<circle cx="232" cy="234" r="2.7" fill="url(#gBl)"/>
<circle cx="225" cy="219" r="2.7" fill="url(#gBl)"/>
<circle cx="230" cy="219" r="2.7" fill="url(#gBl)"/>
<circle cx="227" cy="238" r="2.7" fill="url(#gBl)"/>
<circle cx="224" cy="226" r="1.4" fill="#a0402c"/>
<circle cx="230" cy="231" r="1.4" fill="#a0402c"/>
<circle cx="226" cy="232" r="1.4" fill="#a0402c"/>
<circle cx="233" cy="227" r="1.4" fill="#a0402c"/>
<text x="35" y="282.3" font-family="'Liberation Serif', 'Times New Roman', serif" font-size="7.7" font-weight="bold" text-anchor="start" fill="#000" >OCT</text>
<polyline points="30.5,297.3 28,299.03 23,299.03 20.5,297.3 23,295.57 28,295.57 30.5,297.3" fill="none" stroke="#27b862" stroke-width="1" stroke-linejoin="round" stroke-linecap="round" />
<polyline points="64.89,306.18 60.57,309 56.15,306.29 57.74,301.8 63.15,301.73 64.89,306.18" fill="none" stroke="#27b862" stroke-width="1" stroke-linejoin="round" stroke-linecap="round" />
<polyline points="30.51,323.92 27.09,326 23.58,324.08 23.49,320.08 26.91,318 30.42,319.92 30.51,323.92" fill="none" stroke="#27b862" stroke-width="1" stroke-linejoin="round" stroke-linecap="round" />
<polyline points="37.44,325.1 34.84,327.48 31.77,325.75 32.47,322.29 35.98,321.89 37.44,325.1" fill="none" stroke="#27b862" stroke-width="1" stroke-linejoin="round" stroke-linecap="round" />
<polyline points="52.86,307.89 49.87,310.75 44.61,311.41 40.17,309.49 39.14,306.11 42.13,303.25 47.39,302.59 51.83,304.51 52.86,307.89" fill="none" stroke="#27b862" stroke-width="1" stroke-linejoin="round" stroke-linecap="round" />
<polyline points="30.5,297.3 33,296.5 35.5,294.5" fill="none" stroke="#27b862" stroke-width="1" stroke-linejoin="round" stroke-linecap="round" />
<polyline points="33,296.5 35.7,299.2 36.3,303 38.5,306" fill="none" stroke="#27b862" stroke-width="1" stroke-linejoin="round" stroke-linecap="round" />
<polyline points="38,300 41.7,299.2 46.6,299.2 49,302" fill="none" stroke="#27b862" stroke-width="1" stroke-linejoin="round" stroke-linecap="round" />
<polyline points="52.5,303.5 55.6,304.5" fill="none" stroke="#27b862" stroke-width="1" stroke-linejoin="round" stroke-linecap="round" />
<polyline points="40,310.5 40.1,315.5 41.2,318.8 37.5,321.5" fill="none" stroke="#27b862" stroke-width="1" stroke-linejoin="round" stroke-linecap="round" />
<polyline points="41.2,318.8 45.5,319.5 49.9,319.9 53,321.5 56.4,321 60.8,317.7 63.5,318.5 66.3,317.7" fill="none" stroke="#27b862" stroke-width="1" stroke-linejoin="round" stroke-linecap="round" />
<polyline points="51,311 52,314 51.4,316.6 49.9,319.9" fill="none" stroke="#27b862" stroke-width="1" stroke-linejoin="round" stroke-linecap="round" />
<polyline points="60.5,301 63,299.5 65.2,299.2" fill="none" stroke="#27b862" stroke-width="1" stroke-linejoin="round" stroke-linecap="round" />
<polyline points="54.5,303.8 52,311" fill="none" stroke="#27b862" stroke-width="1" stroke-linejoin="round" stroke-linecap="round" />
<polyline points="41.7,299.2 44,298.6 46.6,299.2" fill="none" stroke="#e8c020" stroke-width="1.1" stroke-linejoin="round" stroke-linecap="round" />
<circle cx="20.2" cy="297.3" r="0.85" fill="#ff80a8"/>
<circle cx="35.2" cy="292.6" r="0.85" fill="#5a40c0"/>
<circle cx="35.5" cy="294.5" r="0.85" fill="#3050e0"/>
<circle cx="36.5" cy="303" r="0.85" fill="#3050e0"/>
<circle cx="42" cy="305" r="0.85" fill="#ff80a8"/>
<circle cx="48" cy="302.5" r="0.85" fill="#ff80a8"/>
<circle cx="55.6" cy="304.5" r="0.85" fill="#3050e0"/>
<circle cx="65.2" cy="299.2" r="0.85" fill="#e8405a"/>
<circle cx="65" cy="305" r="0.85" fill="#ff80a8"/>
<circle cx="60" cy="310" r="0.85" fill="#3050e0"/>
<circle cx="40" cy="313" r="0.85" fill="#3050e0"/>
<circle cx="38" cy="318" r="0.85" fill="#ff80a8"/>
<circle cx="24" cy="318" r="0.85" fill="#ff80a8"/>
<circle cx="23" cy="325" r="0.85" fill="#ff80a8"/>
<circle cx="33" cy="329" r="0.85" fill="#3050e0"/>
<circle cx="67.3" cy="318.8" r="0.85" fill="#3050e0"/>
<circle cx="56.4" cy="321" r="0.85" fill="#ff80a8"/>
<circle cx="45.5" cy="321" r="0.85" fill="#ff80a8"/>
<circle cx="51.4" cy="316.6" r="0.85" fill="#3050e0"/>
<circle cx="30" cy="326" r="0.85" fill="#ff80a8"/>
<circle cx="53" cy="299" r="0.85" fill="#ff80a8"/>
<text x="88.4" y="301.3" font-family="'Liberation Serif', 'Times New Roman', serif" font-size="9.2" font-weight="bold" text-anchor="start" fill="#000" >Cl<tspan font-size="5" dy="-3.5">−</tspan></text>
<text x="104.2" y="300.8" font-family="'Liberation Serif', 'Times New Roman', serif" font-size="8" font-weight="bold" text-anchor="start" fill="#000" >+</text>
<circle cx="119.6" cy="297.8" r="6.8" fill="url(#gAg)"/>
<text x="119.3" y="301" font-family="'Liberation Serif', 'Times New Roman', serif" font-size="8" font-weight="bold" text-anchor="middle" fill="#000" >Ag<tspan font-size="4.5" dy="-3.4">+</tspan></text>
<line x1="82.5" y1="308.6" x2="135" y2="308.6" stroke="#2d8fd6" stroke-width="1.1" />
<path d="M134,307.2 L137.8,308.6 L134,310 Z" fill="#2d8fd6"/>
<text x="108.4" y="319.9" font-family="'Liberation Serif', 'Times New Roman', serif" font-size="8.4" font-weight="bold" text-anchor="middle" fill="#000" >Incubation</text>
<text x="172.7" y="281.6" font-family="'Liberation Serif', 'Times New Roman', serif" font-size="8.4" font-weight="bold" text-anchor="middle" fill="#000" >AgCl@OCT/Ag<tspan font-size="5" dy="-3.4">+</tspan></text>
<path d="M149,292 L185,290 Q189,290 188.5,294 L188,322 Q188,327 183,327 L152,327.5 Q147,327.5 147,322 L146.8,296 Q146.8,292 149,292 Z" fill="#1d9a3c"/>
<path d="M160,295 L184,294 L184,318 L166,319 Q160,318 160,312 Z" fill="#4fd8d8"/>
<path d="M160,295 L184,294 L178,300 L164,301 Z" fill="#86eeea"/>
<path d="M164,301 L178,300 L178,316 L166,318 Z" fill="#2ab8c0"/>
<path d="M149,292 L185,290 L183,288.8 L151,290.5 Z" fill="#46c060"/>
<circle cx="149" cy="296" r="1.3" fill="#f08aa0"/>
<circle cx="147.5" cy="304" r="1.3" fill="#f08aa0"/>
<circle cx="148" cy="313" r="1.3" fill="#f08aa0"/>
<circle cx="149" cy="321" r="1.3" fill="#f08aa0"/>
<circle cx="155" cy="326" r="1.3" fill="#f08aa0"/>
<circle cx="163" cy="326.5" r="1.3" fill="#f08aa0"/>
<circle cx="172" cy="326" r="1.3" fill="#f08aa0"/>
<circle cx="180" cy="325" r="1.3" fill="#f08aa0"/>
<circle cx="186" cy="320" r="1.3" fill="#f08aa0"/>
<circle cx="187.5" cy="311" r="1.3" fill="#f08aa0"/>
<circle cx="187.5" cy="302" r="1.3" fill="#f08aa0"/>
<circle cx="186" cy="294" r="1.3" fill="#f08aa0"/>
<circle cx="176" cy="290" r="1.3" fill="#f08aa0"/>
<circle cx="166" cy="291" r="1.3" fill="#f08aa0"/>
<circle cx="157" cy="291.5" r="1.3" fill="#f08aa0"/>
<circle cx="152" cy="309" r="1.3" fill="#f08aa0"/>
<circle cx="170" cy="323" r="1.3" fill="#f08aa0"/>
<line x1="177" y1="332.5" x2="198.2" y2="356" stroke="#2d8fd6" stroke-width="1.1" />
<path d="M196.2,357.3 L200.3,358.8 L199.2,354.6 Z" fill="#2d8fd6"/>
<text x="0" y="0" font-family="'Liberation Serif', 'Times New Roman', serif" font-size="8.1" font-weight="bold" text-anchor="middle" fill="#000" transform="translate(190.9 341.8) rotate(48)">Growth</text>
<text x="0" y="0" font-family="'Liberation Serif', 'Times New Roman', serif" font-size="8.1" font-weight="bold" text-anchor="middle" fill="#000" transform="translate(178.7 352.3) rotate(50)">Reduction</text>
<path d="M238.5,305 L249.5,307.5 L238,370 L210,364 Z" fill="url(#gNIR)" filter="url(#fBlur05)"/>
<text x="0" y="0" font-family="'Liberation Serif', 'Times New Roman', serif" font-size="8.4" font-weight="bold" text-anchor="middle" fill="#e81428" transform="translate(233 350.5) rotate(-68)">NIR</text>
<g transform="translate(246.6 296.6) rotate(15.5)"><rect x="-3.9" y="-9.6" width="7.8" height="11.5" rx="3" fill="#1e9ad6" stroke="#16587e" stroke-width="0.6"/><rect x="-4.6" y="1.6" width="9.2" height="8" fill="#1a6f9c" stroke="#16587e" stroke-width="0.6"/><rect x="-2.2" y="-8" width="1.6" height="8" fill="#7cc8f0" opacity="0.6"/></g>
<path d="M197,368 L229,366.5 Q235,366.5 235,372 L234.5,400 Q234.5,405 229,405 L198,405.5 Q192.5,405.5 192.5,400 L192.5,373 Q192.5,368 197,368 Z" fill="url(#pBead)"/>
<path d="M197,368 L229,366.5 Q235,366.5 235,372 L234.5,400 Q234.5,405 229,405 L198,405.5 Q192.5,405.5 192.5,400 L192.5,373 Q192.5,368 197,368 Z" fill="none" stroke="#9aa48a" stroke-width="0.8"/>
<path d="M205,370 L205,404 M193,383 L206,381" stroke="#a8b098" stroke-width="0.6" opacity="0.7"/>
<rect x="206.5" y="369.5" width="22" height="22" rx="8" fill="url(#gGreen2)"/>
<text x="214.6" y="415.8" font-family="'Liberation Serif', 'Times New Roman', serif" font-size="8.6" font-weight="bold" text-anchor="middle" fill="#000" >Ag NCs</text>
<line x1="148" y1="391.2" x2="181.3" y2="391.2" stroke="#2d8fd6" stroke-width="1.1" />
<path d="M149,389.8 L145.2,391.2 L149,392.6 Z" fill="#2d8fd6"/>
<text x="164.6" y="386.8" font-family="'Liberation Serif', 'Times New Roman', serif" font-size="7.8" font-weight="bold" text-anchor="middle" fill="#000" >NIR</text>
<path d="M82,400 C78,390 79,378 85,372 C85,365 89,358 92,351 C95,358 96,363 98,367 C101,362 104,358 108,355 C110,360 111,363 113,366 C115,364 117,361 119,359 C120,364 122,368 124,371 C129,374 132,382 130,392 C129,400 126,406 120,410 L90,410 C86,407 83,404 82,400 Z" fill="#ee5a1e" transform="translate(105 385) scale(1.06) translate(-105 -385)" opacity="0.8" filter="url(#fBlur05)"/>
<path d="M82,400 C78,390 79,378 85,372 C85,365 89,358 92,351 C95,358 96,363 98,367 C101,362 104,358 108,355 C110,360 111,363 113,366 C115,364 117,361 119,359 C120,364 122,368 124,371 C129,374 132,382 130,392 C129,400 126,406 120,410 L90,410 C86,407 83,404 82,400 Z" fill="#f7902a"/>
<path d="M88,374 C88,366 90,360 92,355 C94,361 95,366 97,371 Z M102,371 C104,366 106,361 108,358 C109,363 110,366 112,371 Z M114,372 C116,368 118,364 119,362 C120,366 121,369 122,373 Z" fill="#ffd24a"/>
<path d="M88,374 L121,372.5 Q124,372.5 124,376 L123.5,404 Q123.5,407.5 120,407.5 L89,408 Q86,408 86,404 L86,377 Q86,374 88,374 Z" fill="url(#pBeadO)"/>
<path d="M86,377 L86,404 Q86,408 89,408 L94,408 L94,376 Z" fill="#f08030" opacity="0.45"/>
<circle cx="109.2" cy="386.7" r="9.6" fill="url(#gGreen2)"/>
<circle cx="127" cy="362" r="1.3" fill="#e84a2a" opacity="0.6"/>
<circle cx="131" cy="368" r="1.3" fill="#e84a2a" opacity="0.6"/>
<circle cx="125" cy="358" r="1.3" fill="#e84a2a" opacity="0.6"/>
<circle cx="79" cy="370" r="1.3" fill="#e84a2a" opacity="0.6"/>
<circle cx="133" cy="380" r="1.3" fill="#e84a2a" opacity="0.6"/>
<circle cx="77" cy="388" r="1.3" fill="#e84a2a" opacity="0.6"/>
<path d="M92.4,354 q-4,-1.6 0,-3.2 q4,-1.6 0,-3.2 q-4,-1.6 0,-3.2 q4,-1.6 0,-3.2 L92.4,338.5" stroke="#e82030" stroke-width="1" fill="none"/>
<path d="M91.10000000000001,339.5 L92.4,336.8 L93.7,339.5 Z" fill="#e82030"/>
<path d="M103.5,354 q-4,-1.6 0,-3.2 q4,-1.6 0,-3.2 q-4,-1.6 0,-3.2 q4,-1.6 0,-3.2 L103.5,338.5" stroke="#e82030" stroke-width="1" fill="none"/>
<path d="M102.2,339.5 L103.5,336.8 L104.8,339.5 Z" fill="#e82030"/>
<path d="M117,354 q-4,-1.6 0,-3.2 q4,-1.6 0,-3.2 q-4,-1.6 0,-3.2 q4,-1.6 0,-3.2 L117,338.5" stroke="#e82030" stroke-width="1" fill="none"/>
<path d="M115.7,339.5 L117,336.8 L118.3,339.5 Z" fill="#e82030"/>
<text x="63" y="351.8" font-family="'Liberation Serif', 'Times New Roman', serif" font-size="7.9" font-weight="bold" text-anchor="start" fill="#e81428" >ΔT</text>
<text x="44.2" y="389.8" font-family="'Liberation Serif', 'Times New Roman', serif" font-size="8" font-weight="bold" text-anchor="start" fill="#e81428" >PTT</text>
<rect x="278.8" y="318.5" width="104.4" height="81" fill="none" stroke="#000" stroke-width="0.8" />
<line x1="287.9" y1="399.5" x2="287.9" y2="401.5" stroke="#000" stroke-width="0.6" />
<line x1="305.24" y1="399.5" x2="305.24" y2="401.5" stroke="#000" stroke-width="0.6" />
<line x1="322.58" y1="399.5" x2="322.58" y2="401.5" stroke="#000" stroke-width="0.6" />
<line x1="339.92" y1="399.5" x2="339.92" y2="401.5" stroke="#000" stroke-width="0.6" />
<line x1="357.26" y1="399.5" x2="357.26" y2="401.5" stroke="#000" stroke-width="0.6" />
<line x1="374.6" y1="399.5" x2="374.6" y2="401.5" stroke="#000" stroke-width="0.6" />
<line x1="296.57" y1="399.5" x2="296.57" y2="400.5" stroke="#000" stroke-width="0.6" />
<line x1="313.91" y1="399.5" x2="313.91" y2="400.5" stroke="#000" stroke-width="0.6" />
<line x1="331.25" y1="399.5" x2="331.25" y2="400.5" stroke="#000" stroke-width="0.6" />
<line x1="348.59" y1="399.5" x2="348.59" y2="400.5" stroke="#000" stroke-width="0.6" />
<line x1="365.93" y1="399.5" x2="365.93" y2="400.5" stroke="#000" stroke-width="0.6" />
<line x1="278.8" y1="395.6" x2="276.8" y2="395.6" stroke="#000" stroke-width="0.6" />
<line x1="278.8" y1="380.2" x2="276.8" y2="380.2" stroke="#000" stroke-width="0.6" />
<line x1="278.8" y1="364.8" x2="276.8" y2="364.8" stroke="#000" stroke-width="0.6" />
<line x1="278.8" y1="349.4" x2="276.8" y2="349.4" stroke="#000" stroke-width="0.6" />
<line x1="278.8" y1="334" x2="276.8" y2="334" stroke="#000" stroke-width="0.6" />
<line x1="278.8" y1="318.6" x2="276.8" y2="318.6" stroke="#000" stroke-width="0.6" />
<line x1="278.8" y1="387.9" x2="277.8" y2="387.9" stroke="#000" stroke-width="0.6" />
<line x1="278.8" y1="372.5" x2="277.8" y2="372.5" stroke="#000" stroke-width="0.6" />
<line x1="278.8" y1="357.1" x2="277.8" y2="357.1" stroke="#000" stroke-width="0.6" />
<line x1="278.8" y1="341.7" x2="277.8" y2="341.7" stroke="#000" stroke-width="0.6" />
<line x1="278.8" y1="326.3" x2="277.8" y2="326.3" stroke="#000" stroke-width="0.6" />
<text x="287.9" y="406.6" font-family="'Liberation Sans', Arial, sans-serif" font-size="6.4" font-weight="bold" text-anchor="middle" fill="#000" >0</text>
<text x="305.24" y="406.6" font-family="'Liberation Sans', Arial, sans-serif" font-size="6.4" font-weight="bold" text-anchor="middle" fill="#000" >2</text>
<text x="322.58" y="406.6" font-family="'Liberation Sans', Arial, sans-serif" font-size="6.4" font-weight="bold" text-anchor="middle" fill="#000" >4</text>
<text x="339.92" y="406.6" font-family="'Liberation Sans', Arial, sans-serif" font-size="6.4" font-weight="bold" text-anchor="middle" fill="#000" >6</text>
<text x="357.26" y="406.6" font-family="'Liberation Sans', Arial, sans-serif" font-size="6.4" font-weight="bold" text-anchor="middle" fill="#000" >8</text>
<text x="374.6" y="406.6" font-family="'Liberation Sans', Arial, sans-serif" font-size="6.4" font-weight="bold" text-anchor="middle" fill="#000" >10</text>
<text x="276" y="397.8" font-family="'Liberation Sans', Arial, sans-serif" font-size="6.4" font-weight="bold" text-anchor="end" fill="#000" >32</text>
<text x="276" y="382.4" font-family="'Liberation Sans', Arial, sans-serif" font-size="6.4" font-weight="bold" text-anchor="end" fill="#000" >36</text>
<text x="276" y="367" font-family="'Liberation Sans', Arial, sans-serif" font-size="6.4" font-weight="bold" text-anchor="end" fill="#000" >40</text>
<text x="276" y="351.6" font-family="'Liberation Sans', Arial, sans-serif" font-size="6.4" font-weight="bold" text-anchor="end" fill="#000" >44</text>
<text x="276" y="336.2" font-family="'Liberation Sans', Arial, sans-serif" font-size="6.4" font-weight="bold" text-anchor="end" fill="#000" >48</text>
<text x="276" y="320.8" font-family="'Liberation Sans', Arial, sans-serif" font-size="6.4" font-weight="bold" text-anchor="end" fill="#000" >52</text>
<text x="331.9" y="415.8" font-family="'Liberation Sans', Arial, sans-serif" font-size="7" font-weight="bold" text-anchor="middle" fill="#000" >Time (min)</text>
<text x="0" y="0" font-family="'Liberation Sans', Arial, sans-serif" font-size="7" font-weight="bold" text-anchor="middle" fill="#000" transform="translate(263.4 358) rotate(-90)">Temperature (℃)</text>
<polyline points="287.9,391.75 296.57,391.75 305.24,391.75 313.91,391.75 322.58,391.37 331.25,391.75 339.92,391.37 348.59,391.75 357.26,391.37 365.93,391.75 374.6,391.37" fill="none" stroke="#222" stroke-width="1.3" stroke-linejoin="round" stroke-linecap="round" />
<rect x="287.05" y="390.9" width="1.7" height="1.7" fill="#222"/>
<rect x="295.72" y="390.9" width="1.7" height="1.7" fill="#222"/>
<rect x="304.39" y="390.9" width="1.7" height="1.7" fill="#222"/>
<rect x="313.06" y="390.9" width="1.7" height="1.7" fill="#222"/>
<rect x="321.73" y="390.51" width="1.7" height="1.7" fill="#222"/>
<rect x="330.4" y="390.9" width="1.7" height="1.7" fill="#222"/>
<rect x="339.07" y="390.51" width="1.7" height="1.7" fill="#222"/>
<rect x="347.74" y="390.9" width="1.7" height="1.7" fill="#222"/>
<rect x="356.41" y="390.51" width="1.7" height="1.7" fill="#222"/>
<rect x="365.08" y="390.9" width="1.7" height="1.7" fill="#222"/>
<rect x="373.75" y="390.51" width="1.7" height="1.7" fill="#222"/>
<polyline points="287.9,391.75 296.57,390.6 305.24,390.6 313.91,390.6 322.58,389.44 331.25,390.6 339.92,390.21 348.59,390.21 357.26,390.21 365.93,390.21 374.6,390.21" fill="none" stroke="#ee2222" stroke-width="1.3" stroke-linejoin="round" stroke-linecap="round" />
<rect x="287.05" y="390.9" width="1.7" height="1.7" fill="#ee2222"/>
<rect x="295.72" y="389.75" width="1.7" height="1.7" fill="#ee2222"/>
<rect x="304.39" y="389.75" width="1.7" height="1.7" fill="#ee2222"/>
<rect x="313.06" y="389.75" width="1.7" height="1.7" fill="#ee2222"/>
<rect x="321.73" y="388.59" width="1.7" height="1.7" fill="#ee2222"/>
<rect x="330.4" y="389.75" width="1.7" height="1.7" fill="#ee2222"/>
<rect x="339.07" y="389.36" width="1.7" height="1.7" fill="#ee2222"/>
<rect x="347.74" y="389.36" width="1.7" height="1.7" fill="#ee2222"/>
<rect x="356.41" y="389.36" width="1.7" height="1.7" fill="#ee2222"/>
<rect x="365.08" y="389.36" width="1.7" height="1.7" fill="#ee2222"/>
<rect x="373.75" y="389.36" width="1.7" height="1.7" fill="#ee2222"/>
<polyline points="287.9,394.06 296.57,375.97 305.24,374.81 313.91,373.27 322.58,370.96 331.25,370.96 339.92,369.81 348.59,369.42 357.26,369.81 365.93,369.81 374.6,369.42" fill="none" stroke="#2b3fb8" stroke-width="1.3" stroke-linejoin="round" stroke-linecap="round" />
<rect x="287.05" y="393.21" width="1.7" height="1.7" fill="#2b3fb8"/>
<rect x="295.72" y="375.12" width="1.7" height="1.7" fill="#2b3fb8"/>
<rect x="304.39" y="373.96" width="1.7" height="1.7" fill="#2b3fb8"/>
<rect x="313.06" y="372.42" width="1.7" height="1.7" fill="#2b3fb8"/>
<rect x="321.73" y="370.11" width="1.7" height="1.7" fill="#2b3fb8"/>
<rect x="330.4" y="370.11" width="1.7" height="1.7" fill="#2b3fb8"/>
<rect x="339.07" y="368.95" width="1.7" height="1.7" fill="#2b3fb8"/>
<rect x="347.74" y="368.57" width="1.7" height="1.7" fill="#2b3fb8"/>
<rect x="356.41" y="368.95" width="1.7" height="1.7" fill="#2b3fb8"/>
<rect x="365.08" y="368.95" width="1.7" height="1.7" fill="#2b3fb8"/>
<rect x="373.75" y="368.57" width="1.7" height="1.7" fill="#2b3fb8"/>
<polyline points="287.9,391.75 296.57,371.73 305.24,361.34 313.91,352.87 322.58,342.09 331.25,337.47 339.92,332.46 348.59,331.69 357.26,329.76 365.93,329.38 374.6,329" fill="none" stroke="#d23aa8" stroke-width="1.3" stroke-linejoin="round" stroke-linecap="round" />
<rect x="287.05" y="390.9" width="1.7" height="1.7" fill="#d23aa8"/>
<rect x="295.72" y="370.88" width="1.7" height="1.7" fill="#d23aa8"/>
<rect x="304.39" y="360.49" width="1.7" height="1.7" fill="#d23aa8"/>
<rect x="313.06" y="352.01" width="1.7" height="1.7" fill="#d23aa8"/>
<rect x="321.73" y="341.24" width="1.7" height="1.7" fill="#d23aa8"/>
<rect x="330.4" y="336.62" width="1.7" height="1.7" fill="#d23aa8"/>
<rect x="339.07" y="331.61" width="1.7" height="1.7" fill="#d23aa8"/>
<rect x="347.74" y="330.84" width="1.7" height="1.7" fill="#d23aa8"/>
<rect x="356.41" y="328.91" width="1.7" height="1.7" fill="#d23aa8"/>
<rect x="365.08" y="328.53" width="1.7" height="1.7" fill="#d23aa8"/>
<rect x="373.75" y="328.14" width="1.7" height="1.7" fill="#d23aa8"/>
<line x1="283" y1="325" x2="290.5" y2="325" stroke="#222" stroke-width="1" />
<rect x="286.1" y="324.3" width="1.4" height="1.4" fill="#222"/>
<text x="293.8" y="326.8" font-family="'Liberation Sans', Arial, sans-serif" font-size="5.2" font-weight="normal" text-anchor="start" fill="#000" >G1</text>
<line x1="283" y1="331.6" x2="290.5" y2="331.6" stroke="#ee2222" stroke-width="1" />
<rect x="286.1" y="330.9" width="1.4" height="1.4" fill="#ee2222"/>
<text x="293.8" y="333.4" font-family="'Liberation Sans', Arial, sans-serif" font-size="5.2" font-weight="normal" text-anchor="start" fill="#000" >G2</text>
<line x1="283" y1="338.2" x2="290.5" y2="338.2" stroke="#2b3fb8" stroke-width="1" />
<rect x="286.1" y="337.5" width="1.4" height="1.4" fill="#2b3fb8"/>
<text x="293.8" y="340" font-family="'Liberation Sans', Arial, sans-serif" font-size="5.2" font-weight="normal" text-anchor="start" fill="#000" >G3</text>
<line x1="283" y1="344.8" x2="290.5" y2="344.8" stroke="#d23aa8" stroke-width="1" />
<rect x="286.1" y="344.1" width="1.4" height="1.4" fill="#d23aa8"/>
<text x="293.8" y="346.6" font-family="'Liberation Sans', Arial, sans-serif" font-size="5.2" font-weight="normal" text-anchor="start" fill="#000" >G4</text>
<text x="397.5" y="329" font-family="'Liberation Sans', Arial, sans-serif" font-size="6.6" font-weight="bold" text-anchor="middle" fill="#000" >G1</text>
<rect x="406.1" y="318.1" width="21.2" height="16.8" fill="url(#gFb1)"/>
<path d="M410.1,326.4 C411.1,321.9 419.1,320.4 423.6,323.4 C425.1,326.4 421.1,328.4 416.1,328.4 C413.1,328.9 410.1,327.9 Z" fill="#b03aac" opacity="0.85" filter="url(#fBlur1)"/>
<rect x="430.2" y="318.1" width="21.2" height="16.8" fill="url(#gFb1)"/>
<path d="M434.2,326.4 C435.2,321.9 443.2,320.4 447.7,323.4 C449.2,326.4 445.2,328.4 440.2,328.4 C437.2,328.9 434.2,327.9 Z" fill="#b03aac" opacity="0.85" filter="url(#fBlur1)"/>
<rect x="454.2" y="318.1" width="21.2" height="16.8" fill="url(#gFb1)"/>
<path d="M458.2,326.4 C459.2,321.9 467.2,320.4 471.7,323.4 C473.2,326.4 469.2,328.4 464.2,328.4 C461.2,328.9 458.2,327.9 Z" fill="#b03aac" opacity="0.85" filter="url(#fBlur1)"/>
<rect x="478.1" y="318.1" width="21.2" height="16.8" fill="url(#gFb1)"/>
<path d="M482.1,326.4 C483.1,321.9 491.1,320.4 495.6,323.4 C497.1,326.4 493.1,328.4 488.1,328.4 C485.1,328.9 482.1,327.9 Z" fill="#b03aac" opacity="0.85" filter="url(#fBlur1)"/>
<rect x="501.8" y="318.1" width="21.2" height="16.8" fill="url(#gFb1)"/>
<path d="M505.8,326.4 C506.8,321.9 514.8,320.4 519.3,323.4 C520.8,326.4 516.8,328.4 511.8,328.4 C508.8,328.9 505.8,327.9 Z" fill="#b03aac" opacity="0.85" filter="url(#fBlur1)"/>
<rect x="525.2" y="318.1" width="21.2" height="16.8" fill="url(#gFb1)"/>
<path d="M529.2,326.4 C530.2,321.9 538.2,320.4 542.7,323.4 C544.2,326.4 540.2,328.4 535.2,328.4 C532.2,328.9 529.2,327.9 Z" fill="#b03aac" opacity="0.85" filter="url(#fBlur1)"/>
<text x="397.5" y="347.9" font-family="'Liberation Sans', Arial, sans-serif" font-size="6.6" font-weight="bold" text-anchor="middle" fill="#000" >G2</text>
<rect x="406.1" y="337" width="21.2" height="16.8" fill="url(#gFb1)"/>
<path d="M409.6,347.7 C410.6,343.2 418.6,341.7 423.1,344.7 C424.6,347.7 420.6,349.7 415.6,349.7 C412.6,350.2 409.6,349.2 Z" fill="#b03aac" opacity="0.85" filter="url(#fBlur1)"/>
<rect x="430.2" y="337" width="21.2" height="16.8" fill="url(#gFb1)"/>
<path d="M433.7,347.7 C434.7,343.2 442.7,341.7 447.2,344.7 C448.7,347.7 444.7,349.7 439.7,349.7 C436.7,350.2 433.7,349.2 Z" fill="#b03aac" opacity="0.85" filter="url(#fBlur1)"/>
<rect x="454.2" y="337" width="21.2" height="16.8" fill="url(#gFb1)"/>
<path d="M457.7,347.7 C458.7,343.2 466.7,341.7 471.2,344.7 C472.7,347.7 468.7,349.7 463.7,349.7 C460.7,350.2 457.7,349.2 Z" fill="#b03aac" opacity="0.85" filter="url(#fBlur1)"/>
<rect x="478.1" y="337" width="21.2" height="16.8" fill="url(#gFb1)"/>
<path d="M481.6,347.7 C482.6,343.2 490.6,341.7 495.1,344.7 C496.6,347.7 492.6,349.7 487.6,349.7 C484.6,350.2 481.6,349.2 Z" fill="#b03aac" opacity="0.85" filter="url(#fBlur1)"/>
<rect x="501.8" y="337" width="21.2" height="16.8" fill="url(#gFb1)"/>
<path d="M505.3,347.7 C506.3,343.2 514.3,341.7 518.8,344.7 C520.3,347.7 516.3,349.7 511.3,349.7 C508.3,350.2 505.3,349.2 Z" fill="#b03aac" opacity="0.85" filter="url(#fBlur1)"/>
<rect x="525.2" y="337" width="21.2" height="16.8" fill="url(#gFb1)"/>
<path d="M528.7,347.7 C529.7,343.2 537.7,341.7 542.2,344.7 C543.7,347.7 539.7,349.7 534.7,349.7 C531.7,350.2 528.7,349.2 Z" fill="#b03aac" opacity="0.85" filter="url(#fBlur1)"/>
<text x="397.5" y="366.9" font-family="'Liberation Sans', Arial, sans-serif" font-size="6.6" font-weight="bold" text-anchor="middle" fill="#000" >G3</text>
<rect x="406.1" y="356" width="21.2" height="16.8" fill="url(#gFb3)"/>
<ellipse cx="417.1" cy="364.3" rx="4.8" ry="2.4" fill="#a834aa" opacity="0.9" filter="url(#fBlur1)"/>
<rect x="430.2" y="356" width="21.2" height="16.8" fill="url(#gFb3)"/>
<ellipse cx="441.2" cy="364.3" rx="4.8" ry="2.4" fill="#a834aa" opacity="0.9" filter="url(#fBlur1)"/>
<rect x="454.2" y="356" width="21.2" height="16.8" fill="url(#gFb3)"/>
<ellipse cx="465.2" cy="364.3" rx="4.8" ry="2.4" fill="#a834aa" opacity="0.9" filter="url(#fBlur1)"/>
<rect x="478.1" y="356" width="21.2" height="16.8" fill="url(#gFb3)"/>
<ellipse cx="489.1" cy="364.3" rx="4.8" ry="2.4" fill="#a834aa" opacity="0.9" filter="url(#fBlur1)"/>
<rect x="501.8" y="356" width="21.2" height="16.8" fill="url(#gFb3)"/>
<ellipse cx="512.8" cy="364.3" rx="4.8" ry="2.4" fill="#a834aa" opacity="0.9" filter="url(#fBlur1)"/>
<rect x="525.2" y="356" width="21.2" height="16.8" fill="url(#gFb3)"/>
<ellipse cx="536.2" cy="364.3" rx="4.8" ry="2.4" fill="#a834aa" opacity="0.9" filter="url(#fBlur1)"/>
<text x="397.5" y="386.8" font-family="'Liberation Sans', Arial, sans-serif" font-size="6.6" font-weight="bold" text-anchor="middle" fill="#000" >G4</text>
<rect x="406.1" y="375.9" width="21.2" height="16.8" fill="url(#gFb4)"/>
<ellipse cx="416.1" cy="384.9" rx="6.8" ry="3.7" fill="#a42ea4" filter="url(#fBlur1)"/>
<rect x="430.2" y="375.9" width="21.2" height="16.8" fill="url(#gFb4)"/>
<ellipse cx="440.2" cy="384.9" rx="6.8" ry="3.7" fill="#a42ea4" filter="url(#fBlur1)"/>
<ellipse cx="442.2" cy="383.7" rx="1.3" ry="1" fill="#e8602a" filter="url(#fBlur05)"/>
<rect x="454.2" y="375.9" width="21.2" height="16.8" fill="url(#gFb4)"/>
<ellipse cx="464.2" cy="384.9" rx="6.8" ry="3.7" fill="#a42ea4" filter="url(#fBlur1)"/>
<ellipse cx="466.2" cy="383.7" rx="1.82" ry="1.4" fill="#e8602a" filter="url(#fBlur05)"/>
<circle cx="466.5" cy="383.2" r="0.7" fill="#ffe040"/>
<rect x="478.1" y="375.9" width="21.2" height="16.8" fill="url(#gFb4)"/>
<ellipse cx="488.1" cy="384.9" rx="6.8" ry="3.7" fill="#a42ea4" filter="url(#fBlur1)"/>
<ellipse cx="490.1" cy="383.7" rx="2.08" ry="1.6" fill="#e8602a" filter="url(#fBlur05)"/>
<circle cx="490.4" cy="383.2" r="0.8" fill="#ffe040"/>
<rect x="501.8" y="375.9" width="21.2" height="16.8" fill="url(#gFb4)"/>
<ellipse cx="511.8" cy="384.9" rx="6.8" ry="3.7" fill="#a42ea4" filter="url(#fBlur1)"/>
<ellipse cx="513.8" cy="383.7" rx="2.34" ry="1.8" fill="#e8602a" filter="url(#fBlur05)"/>
<circle cx="514.1" cy="383.2" r="0.9" fill="#ffe040"/>
<rect x="525.2" y="375.9" width="21.2" height="16.8" fill="url(#gFb4)"/>
<ellipse cx="535.2" cy="384.9" rx="6.8" ry="3.7" fill="#a42ea4" filter="url(#fBlur1)"/>
<ellipse cx="537.2" cy="383.7" rx="2.47" ry="1.9" fill="#e8602a" filter="url(#fBlur05)"/>
<circle cx="537.5" cy="383.2" r="0.95" fill="#ffe040"/>
<text x="416.7" y="401.2" font-family="'Liberation Sans', Arial, sans-serif" font-size="6.6" font-weight="bold" text-anchor="middle" fill="#000" >0</text>
<text x="440.8" y="401.2" font-family="'Liberation Sans', Arial, sans-serif" font-size="6.6" font-weight="bold" text-anchor="middle" fill="#000" >1</text>
<text x="464.8" y="401.2" font-family="'Liberation Sans', Arial, sans-serif" font-size="6.6" font-weight="bold" text-anchor="middle" fill="#000" >2</text>
<text x="488.7" y="401.2" font-family="'Liberation Sans', Arial, sans-serif" font-size="6.6" font-weight="bold" text-anchor="middle" fill="#000" >4</text>
<text x="512.4" y="401.2" font-family="'Liberation Sans', Arial, sans-serif" font-size="6.6" font-weight="bold" text-anchor="middle" fill="#000" >6</text>
<text x="535.8" y="401.2" font-family="'Liberation Sans', Arial, sans-serif" font-size="6.6" font-weight="bold" text-anchor="middle" fill="#000" >8</text>
<line x1="406.3" y1="405.7" x2="543" y2="405.7" stroke="#000" stroke-width="0.8" />
<path d="M542,404 L546,405.7 L542,407.4 Z" fill="#000"/>
<text x="472.7" y="416.8" font-family="'Liberation Sans', Arial, sans-serif" font-size="7" font-weight="bold" text-anchor="middle" fill="#000" >Time (min)</text>
<rect x="36.9" y="430.8" width="99.3" height="84" fill="none" stroke="#000" stroke-width="0.9" />
<line x1="43.3" y1="514.8" x2="43.3" y2="513.3" stroke="#000" stroke-width="0.6" />
<line x1="58.05" y1="514.8" x2="58.05" y2="513.3" stroke="#000" stroke-width="0.6" />
<line x1="72.8" y1="514.8" x2="72.8" y2="513.3" stroke="#000" stroke-width="0.6" />
<line x1="87.55" y1="514.8" x2="87.55" y2="513.3" stroke="#000" stroke-width="0.6" />
<line x1="102.3" y1="514.8" x2="102.3" y2="513.3" stroke="#000" stroke-width="0.6" />
<line x1="117.05" y1="514.8" x2="117.05" y2="513.3" stroke="#000" stroke-width="0.6" />
<line x1="131.8" y1="514.8" x2="131.8" y2="513.3" stroke="#000" stroke-width="0.6" />
<line x1="36.9" y1="514.8" x2="38.4" y2="514.8" stroke="#000" stroke-width="0.6" />
<line x1="36.9" y1="498" x2="38.4" y2="498" stroke="#000" stroke-width="0.6" />
<line x1="36.9" y1="481.2" x2="38.4" y2="481.2" stroke="#000" stroke-width="0.6" />
<line x1="36.9" y1="464.4" x2="38.4" y2="464.4" stroke="#000" stroke-width="0.6" />
<line x1="36.9" y1="447.6" x2="38.4" y2="447.6" stroke="#000" stroke-width="0.6" />
<line x1="36.9" y1="430.8" x2="38.4" y2="430.8" stroke="#000" stroke-width="0.6" />
<text x="43.3" y="521" font-family="'Liberation Serif', 'Times New Roman', serif" font-size="4.6" font-weight="bold" text-anchor="middle" fill="#000" >0</text>
<text x="58.05" y="521" font-family="'Liberation Serif', 'Times New Roman', serif" font-size="4.6" font-weight="bold" text-anchor="middle" fill="#000" >50</text>
<text x="72.8" y="521" font-family="'Liberation Serif', 'Times New Roman', serif" font-size="4.6" font-weight="bold" text-anchor="middle" fill="#000" >100</text>
<text x="87.55" y="521" font-family="'Liberation Serif', 'Times New Roman', serif" font-size="4.6" font-weight="bold" text-anchor="middle" fill="#000" >150</text>
<text x="102.3" y="521" font-family="'Liberation Serif', 'Times New Roman', serif" font-size="4.6" font-weight="bold" text-anchor="middle" fill="#000" >200</text>
<text x="117.05" y="521" font-family="'Liberation Serif', 'Times New Roman', serif" font-size="4.6" font-weight="bold" text-anchor="middle" fill="#000" >250</text>
<text x="131.8" y="521" font-family="'Liberation Serif', 'Times New Roman', serif" font-size="4.6" font-weight="bold" text-anchor="middle" fill="#000" >300</text>
<text x="34.5" y="516.4" font-family="'Liberation Serif', 'Times New Roman', serif" font-size="4.6" font-weight="bold" text-anchor="end" fill="#000" >20</text>
<text x="34.5" y="499.6" font-family="'Liberation Serif', 'Times New Roman', serif" font-size="4.6" font-weight="bold" text-anchor="end" fill="#000" >30</text>
<text x="34.5" y="482.8" font-family="'Liberation Serif', 'Times New Roman', serif" font-size="4.6" font-weight="bold" text-anchor="end" fill="#000" >40</text>
<text x="34.5" y="466" font-family="'Liberation Serif', 'Times New Roman', serif" font-size="4.6" font-weight="bold" text-anchor="end" fill="#000" >50</text>
<text x="34.5" y="449.2" font-family="'Liberation Serif', 'Times New Roman', serif" font-size="4.6" font-weight="bold" text-anchor="end" fill="#000" >60</text>
<text x="34.5" y="432.4" font-family="'Liberation Serif', 'Times New Roman', serif" font-size="4.6" font-weight="bold" text-anchor="end" fill="#000" >70</text>
<text x="84" y="528" font-family="'Liberation Serif', 'Times New Roman', serif" font-size="5" font-weight="bold" text-anchor="middle" fill="#000" >Time (s)</text>
<text x="0" y="0" font-family="'Liberation Serif', 'Times New Roman', serif" font-size="5" font-weight="bold" text-anchor="middle" fill="#000" transform="translate(27.3 472.5) rotate(-90)">Temperature (℃)</text>
<polyline points="43.3,506.57 52.15,506.74 61,506.74 69.85,506.74 78.7,506.74 87.55,506.74 96.4,506.74 105.25,506.74 114.1,506.74 122.95,506.74 131.8,506.74" fill="none" stroke="#555" stroke-width="1" stroke-linejoin="round" stroke-linecap="round" />
<rect x="42.55" y="505.82" width="1.5" height="1.5" fill="#444"/>
<rect x="51.4" y="505.99" width="1.5" height="1.5" fill="#444"/>
<rect x="60.25" y="505.99" width="1.5" height="1.5" fill="#444"/>
<rect x="69.1" y="505.99" width="1.5" height="1.5" fill="#444"/>
<rect x="77.95" y="505.99" width="1.5" height="1.5" fill="#444"/>
<rect x="86.8" y="505.99" width="1.5" height="1.5" fill="#444"/>
<rect x="95.65" y="505.99" width="1.5" height="1.5" fill="#444"/>
<rect x="104.5" y="505.99" width="1.5" height="1.5" fill="#444"/>
<rect x="113.35" y="505.99" width="1.5" height="1.5" fill="#444"/>
<rect x="122.2" y="505.99" width="1.5" height="1.5" fill="#444"/>
<rect x="131.05" y="505.99" width="1.5" height="1.5" fill="#444"/>
<polyline points="43.3,506.4 52.15,503.38 61,501.36 69.85,499.85 78.7,499.01 87.55,498.34 96.4,497.5 105.25,496.99 114.1,496.99 122.95,496.99 131.8,496.66" fill="none" stroke="#ee2020" stroke-width="1.1" stroke-linejoin="round" stroke-linecap="round" />
<circle cx="43.3" cy="506.4" r="1.2" fill="#ee2020"/>
<circle cx="52.15" cy="503.38" r="1.2" fill="#ee2020"/>
<circle cx="61" cy="501.36" r="1.2" fill="#ee2020"/>
<circle cx="69.85" cy="499.85" r="1.2" fill="#ee2020"/>
<circle cx="78.7" cy="499.01" r="1.2" fill="#ee2020"/>
<circle cx="87.55" cy="498.34" r="1.2" fill="#ee2020"/>
<circle cx="96.4" cy="497.5" r="1.2" fill="#ee2020"/>
<circle cx="105.25" cy="496.99" r="1.2" fill="#ee2020"/>
<circle cx="114.1" cy="496.99" r="1.2" fill="#ee2020"/>
<circle cx="122.95" cy="496.99" r="1.2" fill="#ee2020"/>
<circle cx="131.8" cy="496.66" r="1.2" fill="#ee2020"/>
<polyline points="43.3,506.4 52.15,487.92 61,473.64 69.85,463.06 78.7,456 87.55,450.46 96.4,445.92 105.25,443.06 114.1,440.04 122.95,438.86 131.8,437.69" fill="none" stroke="#2a8fd8" stroke-width="1.1" stroke-linejoin="round" stroke-linecap="round" />
<path d="M41.9,507.52 L43.3,505 L44.7,507.52 Z" fill="#2a8fd8"/>
<path d="M50.75,489.04 L52.15,486.52 L53.55,489.04 Z" fill="#2a8fd8"/>
<path d="M59.6,474.76 L61,472.24 L62.4,474.76 Z" fill="#2a8fd8"/>
<path d="M68.45,464.18 L69.85,461.66 L71.25,464.18 Z" fill="#2a8fd8"/>
<path d="M77.3,457.12 L78.7,454.6 L80.1,457.12 Z" fill="#2a8fd8"/>
<path d="M86.15,451.58 L87.55,449.06 L88.95,451.58 Z" fill="#2a8fd8"/>
<path d="M95,447.04 L96.4,444.52 L97.8,447.04 Z" fill="#2a8fd8"/>
<path d="M103.85,444.18 L105.25,441.66 L106.65,444.18 Z" fill="#2a8fd8"/>
<path d="M112.7,441.16 L114.1,438.64 L115.5,441.16 Z" fill="#2a8fd8"/>
<path d="M121.55,439.98 L122.95,437.46 L124.35,439.98 Z" fill="#2a8fd8"/>
<path d="M130.4,438.81 L131.8,436.29 L133.2,438.81 Z" fill="#2a8fd8"/>
<line x1="45.8" y1="437.4" x2="53.4" y2="437.4" stroke="#2a8fd8" stroke-width="0.8" />
<path d="M48.5,438.28 L49.6,436.3 L50.7,438.28 Z" fill="#2a8fd8"/>
<text x="55" y="438.8" font-family="'Liberation Serif', 'Times New Roman', serif" font-size="4" font-weight="normal" text-anchor="start" fill="#000" >Ag NCs</text>
<line x1="45.8" y1="442.5" x2="53.4" y2="442.5" stroke="#ee2020" stroke-width="0.8" />
<circle cx="49.6" cy="442.5" r="1" fill="#ee2020"/>
<text x="55" y="443.9" font-family="'Liberation Serif', 'Times New Roman', serif" font-size="4" font-weight="normal" text-anchor="start" fill="#000" >Ag NPs</text>
<line x1="45.8" y1="447.6" x2="53.4" y2="447.6" stroke="#444" stroke-width="0.8" />
<rect x="49" y="447" width="1.2" height="1.2" fill="#444"/>
<text x="55" y="449" font-family="'Liberation Serif', 'Times New Roman', serif" font-size="4" font-weight="normal" text-anchor="start" fill="#000" >Water</text>
<rect x="145.8" y="446.8" width="19.8" height="53.2" fill="#0a1a46" stroke="none" stroke-width="0.8" />
<text x="155.7" y="445" font-family="'Liberation Serif', 'Times New Roman', serif" font-size="8.9" font-weight="bold" text-anchor="middle" fill="#000" >0</text>
<g transform="translate(155.7 446.8)">
<path d="M-6,9.5 L6,9.5 L5.2,34 Q4,46 0,51 Q-4,46 -5.2,34 Z" fill="#12306a" filter="url(#fBlur1)"/>
<rect x="-7" y="4" width="14" height="3" fill="#14306e" filter="url(#fBlur1)"/>
</g>
<rect x="167.2" y="446.8" width="19.8" height="53.2" fill="#0a1a46" stroke="none" stroke-width="0.8" />
<text x="177.1" y="445" font-family="'Liberation Serif', 'Times New Roman', serif" font-size="8.9" font-weight="bold" text-anchor="middle" fill="#000" >1</text>
<g transform="translate(177.1 446.8)">
<rect x="-7.5" y="4.5" width="15" height="3.5" fill="#1a48c0" opacity="0.8" filter="url(#fBlur1)"/>
<path d="M-6,9.5 L6,9.5 L5.2,34 Q4,46 0,51 Q-4,46 -5.2,34 Z" fill="#1a5ad8" filter="url(#fBlur05)"/>
<path d="M-5.3,10.5 L5.3,10.5 L4.6,34 Q3.6,44 0,48.5 Q-3.6,44 -4.6,34 Z" fill="#20c030"/>
<path d="M-6,9.5 L6,9.5 L5.8,16 L-5.8,16 Z" fill="#1a5ad8" opacity="0.8" filter="url(#fBlur05)"/>
</g>
<rect x="189.6" y="446.8" width="19.8" height="53.2" fill="#0a1a46" stroke="none" stroke-width="0.8" />
<text x="199.5" y="445" font-family="'Liberation Serif', 'Times New Roman', serif" font-size="8.9" font-weight="bold" text-anchor="middle" fill="#000" >2</text>
<g transform="translate(199.5 446.8)">
<rect x="-7.5" y="4.5" width="15" height="3.5" fill="#1a48c0" opacity="0.8" filter="url(#fBlur1)"/>
<path d="M-6,9.5 L6,9.5 L5.2,34 Q4,46 0,51 Q-4,46 -5.2,34 Z" fill="#1a5ad8" filter="url(#fBlur05)"/>
<path d="M-5.3,10.5 L5.3,10.5 L4.6,34 Q3.6,44 0,48.5 Q-3.6,44 -4.6,34 Z" fill="#20c030"/>
<path d="M-4.6,19 L4.6,19 L4,34 Q3,40 0,42 Q-3,40 -4,34 Z" fill="#b8dc20" filter="url(#fBlur05)"/>
</g>
<rect x="211.4" y="446.8" width="19.8" height="53.2" fill="#0a1a46" stroke="none" stroke-width="0.8" />
<text x="221.3" y="445" font-family="'Liberation Serif', 'Times New Roman', serif" font-size="8.9" font-weight="bold" text-anchor="middle" fill="#000" >3</text>
<g transform="translate(221.3 446.8)">
<rect x="-7.5" y="4.5" width="15" height="3.5" fill="#1a48c0" opacity="0.8" filter="url(#fBlur1)"/>
<path d="M-6,9.5 L6,9.5 L5.2,34 Q4,46 0,51 Q-4,46 -5.2,34 Z" fill="#1a5ad8" filter="url(#fBlur05)"/>
<path d="M-5.3,10.5 L5.3,10.5 L4.6,34 Q3.6,44 0,48.5 Q-3.6,44 -4.6,34 Z" fill="#20c030"/>
<path d="M-5,16.5 L5,16 L4.4,34 Q3.4,42 0,44 Q-3.4,42 -4.4,34 Z" fill="#f4e020" filter="url(#fBlur05)"/>
<path d="M-4.7,18.5 L4.7,18 L4.1,34 Q3.1,39.5 0,41.5 Q-3.1,39.5 -4.1,34 Z" fill="#f28a1e" filter="url(#fBlur05)"/>
</g>
<rect x="233.1" y="446.8" width="19.8" height="53.2" fill="#0a1a46" stroke="none" stroke-width="0.8" />
<text x="243" y="445" font-family="'Liberation Serif', 'Times New Roman', serif" font-size="8.9" font-weight="bold" text-anchor="middle" fill="#000" >4</text>
<g transform="translate(243 446.8)">
<rect x="-7.5" y="4.5" width="15" height="3.5" fill="#1a48c0" opacity="0.8" filter="url(#fBlur1)"/>
<path d="M-6,9.5 L6,9.5 L5.2,34 Q4,46 0,51 Q-4,46 -5.2,34 Z" fill="#1a5ad8" filter="url(#fBlur05)"/>
<path d="M-5.3,10.5 L5.3,10.5 L4.6,34 Q3.6,44 0,48.5 Q-3.6,44 -4.6,34 Z" fill="#20c030"/>
<path d="M-5,16.5 L5,16 L4.4,34 Q3.4,42 0,44 Q-3.4,42 -4.4,34 Z" fill="#f4e020" filter="url(#fBlur05)"/>
<path d="M-4.7,18.5 L4.7,18 L4.1,34 Q3.1,39.5 0,41.5 Q-3.1,39.5 -4.1,34 Z" fill="#f27018" filter="url(#fBlur05)"/>
</g>
<rect x="255" y="446.8" width="19.8" height="53.2" fill="#0a1a46" stroke="none" stroke-width="0.8" />
<text x="265.7" y="445" font-family="'Liberation Serif', 'Times New Roman', serif" font-size="8.9" font-weight="bold" text-anchor="middle" fill="#000" >5 min</text>
<g transform="translate(264.9 446.8)">
<rect x="-7.5" y="4.5" width="15" height="3.5" fill="#1a48c0" opacity="0.8" filter="url(#fBlur1)"/>
<path d="M-6,9.5 L6,9.5 L5.2,34 Q4,46 0,51 Q-4,46 -5.2,34 Z" fill="#1a5ad8" filter="url(#fBlur05)"/>
<path d="M-5.3,10.5 L5.3,10.5 L4.6,34 Q3.6,44 0,48.5 Q-3.6,44 -4.6,34 Z" fill="#20c030"/>
<path d="M-5,16.5 L5,16 L4.4,34 Q3.4,42 0,44 Q-3.4,42 -4.4,34 Z" fill="#f4e020" filter="url(#fBlur05)"/>
<path d="M-4.7,18.5 L4.7,18 L4.1,34 Q3.1,39.5 0,41.5 Q-3.1,39.5 -4.1,34 Z" fill="#ec1e1e" filter="url(#fBlur05)"/>
</g>
<rect x="171" y="505.3" width="84.8" height="5.8" fill="url(#gHbar)" stroke="none" stroke-width="0.8" />
<text x="149.2" y="511.8" font-family="'Liberation Serif', 'Times New Roman', serif" font-size="9" font-weight="bold" text-anchor="start" fill="#000" >16°C</text>
<text x="257.2" y="511.8" font-family="'Liberation Serif', 'Times New Roman', serif" font-size="9" font-weight="bold" text-anchor="start" fill="#000" >80°C</text>
<rect x="301.5" y="434.5" width="115" height="72" fill="#cdd3e2" stroke="none" stroke-width="0.8" />
<rect x="303" y="435.2" width="17.2" height="34.3" fill="#0b2466"/>
<g transform="translate(303 435.2)"><path d="M10.5,7 L10.79,7.76 L11.06,8.56 L11.32,9.38 L11.56,10.22 L11.79,11.1 L12,12 L12.21,12.94 L12.41,13.93 L12.59,14.94 L12.76,15.96 L12.9,16.99 L13,18 L13.06,19.01 L13.08,20.04 L13.08,21.06 L13.05,22.07 L13.02,23.06 L13,24 L13,24.93 L13.01,25.85 L13.01,26.75 L12.99,27.59 L12.93,28.35 L12.8,29 L12.63,29.53 L12.44,29.96 L12.2,30.31 L11.9,30.59 L11.5,30.82 L11,31 L10.32,31.14 L9.48,31.22 L8.54,31.25 L7.6,31.22 L6.73,31.14 L6,31 L5.42,30.82 L4.91,30.59 L4.47,30.31 L4.09,29.96 L3.77,29.53 L3.5,29 L3.29,28.35 L3.15,27.59 L3.06,26.75 L3.02,25.85 L3,24.93 L3,24 L3.01,23.07 L3.06,22.11 L3.12,21.12 L3.22,20.11 L3.35,19.07 L3.5,18 L3.69,16.87 L3.91,15.67 L4.17,14.44 L4.44,13.22 L4.72,12.06 L5,11 L5.28,10.03 L5.59,9.11 L5.89,8.25 L6.2,7.44 L6.51,6.69 L6.8,6 L7.07,5.3 L7.33,4.59 L7.58,3.94 L7.84,3.41 L8.11,3.07 L8.4,3 L8.73,3.25 L9.09,3.78 L9.46,4.5 L9.83,5.33 L10.18,6.19 Z" fill="#1f6ed0" filter="url(#fBlur05)"/>
<path d="M6,10 Q9,8 11,12 L12,22 Q8,24 5,21 Z" fill="#3a90e4" opacity="0.5" filter="url(#fBlur1)"/>
</g>
<rect x="321.9" y="435.2" width="17.2" height="34.3" fill="#0b2466"/>
<g transform="translate(321.9 435.2)"><path d="M10.5,7 L10.79,7.76 L11.06,8.56 L11.32,9.38 L11.56,10.22 L11.79,11.1 L12,12 L12.21,12.94 L12.41,13.93 L12.59,14.94 L12.76,15.96 L12.9,16.99 L13,18 L13.06,19.01 L13.08,20.04 L13.08,21.06 L13.05,22.07 L13.02,23.06 L13,24 L13,24.93 L13.01,25.85 L13.01,26.75 L12.99,27.59 L12.93,28.35 L12.8,29 L12.63,29.53 L12.44,29.96 L12.2,30.31 L11.9,30.59 L11.5,30.82 L11,31 L10.32,31.14 L9.48,31.22 L8.54,31.25 L7.6,31.22 L6.73,31.14 L6,31 L5.42,30.82 L4.91,30.59 L4.47,30.31 L4.09,29.96 L3.77,29.53 L3.5,29 L3.29,28.35 L3.15,27.59 L3.06,26.75 L3.02,25.85 L3,24.93 L3,24 L3.01,23.07 L3.06,22.11 L3.12,21.12 L3.22,20.11 L3.35,19.07 L3.5,18 L3.69,16.87 L3.91,15.67 L4.17,14.44 L4.44,13.22 L4.72,12.06 L5,11 L5.28,10.03 L5.59,9.11 L5.89,8.25 L6.2,7.44 L6.51,6.69 L6.8,6 L7.07,5.3 L7.33,4.59 L7.58,3.94 L7.84,3.41 L8.11,3.07 L8.4,3 L8.73,3.25 L9.09,3.78 L9.46,4.5 L9.83,5.33 L10.18,6.19 Z" fill="#1f6ed0" filter="url(#fBlur05)"/>
<path d="M6,10 Q9,8 11,12 L12,22 Q8,24 5,21 Z" fill="#3a90e4" opacity="0.5" filter="url(#fBlur1)"/>
<circle cx="6.8" cy="12" r="1.3" fill="#38c848" filter="url(#fBlur05)"/>
</g>
<rect x="340.5" y="435.2" width="17.2" height="34.3" fill="#0b2466"/>
<g transform="translate(340.5 435.2)"><path d="M10.5,7 L10.79,7.76 L11.06,8.56 L11.32,9.38 L11.56,10.22 L11.79,11.1 L12,12 L12.21,12.94 L12.41,13.93 L12.59,14.94 L12.76,15.96 L12.9,16.99 L13,18 L13.06,19.01 L13.08,20.04 L13.08,21.06 L13.05,22.07 L13.02,23.06 L13,24 L13,24.93 L13.01,25.85 L13.01,26.75 L12.99,27.59 L12.93,28.35 L12.8,29 L12.63,29.53 L12.44,29.96 L12.2,30.31 L11.9,30.59 L11.5,30.82 L11,31 L10.32,31.14 L9.48,31.22 L8.54,31.25 L7.6,31.22 L6.73,31.14 L6,31 L5.42,30.82 L4.91,30.59 L4.47,30.31 L4.09,29.96 L3.77,29.53 L3.5,29 L3.29,28.35 L3.15,27.59 L3.06,26.75 L3.02,25.85 L3,24.93 L3,24 L3.01,23.07 L3.06,22.11 L3.12,21.12 L3.22,20.11 L3.35,19.07 L3.5,18 L3.69,16.87 L3.91,15.67 L4.17,14.44 L4.44,13.22 L4.72,12.06 L5,11 L5.28,10.03 L5.59,9.11 L5.89,8.25 L6.2,7.44 L6.51,6.69 L6.8,6 L7.07,5.3 L7.33,4.59 L7.58,3.94 L7.84,3.41 L8.11,3.07 L8.4,3 L8.73,3.25 L9.09,3.78 L9.46,4.5 L9.83,5.33 L10.18,6.19 Z" fill="#1f6ed0" filter="url(#fBlur05)"/>
<path d="M6,10 Q9,8 11,12 L12,22 Q8,24 5,21 Z" fill="#3a90e4" opacity="0.5" filter="url(#fBlur1)"/>
<circle cx="6.8" cy="12" r="1.3" fill="#38c848" filter="url(#fBlur05)"/>
</g>
<rect x="359.4" y="435.2" width="17.2" height="34.3" fill="#0b2466"/>
<g transform="translate(359.4 435.2)"><path d="M10.5,7 L10.79,7.76 L11.06,8.56 L11.32,9.38 L11.56,10.22 L11.79,11.1 L12,12 L12.21,12.94 L12.41,13.93 L12.59,14.94 L12.76,15.96 L12.9,16.99 L13,18 L13.06,19.01 L13.08,20.04 L13.08,21.06 L13.05,22.07 L13.02,23.06 L13,24 L13,24.93 L13.01,25.85 L13.01,26.75 L12.99,27.59 L12.93,28.35 L12.8,29 L12.63,29.53 L12.44,29.96 L12.2,30.31 L11.9,30.59 L11.5,30.82 L11,31 L10.32,31.14 L9.48,31.22 L8.54,31.25 L7.6,31.22 L6.73,31.14 L6,31 L5.42,30.82 L4.91,30.59 L4.47,30.31 L4.09,29.96 L3.77,29.53 L3.5,29 L3.29,28.35 L3.15,27.59 L3.06,26.75 L3.02,25.85 L3,24.93 L3,24 L3.01,23.07 L3.06,22.11 L3.12,21.12 L3.22,20.11 L3.35,19.07 L3.5,18 L3.69,16.87 L3.91,15.67 L4.17,14.44 L4.44,13.22 L4.72,12.06 L5,11 L5.28,10.03 L5.59,9.11 L5.89,8.25 L6.2,7.44 L6.51,6.69 L6.8,6 L7.07,5.3 L7.33,4.59 L7.58,3.94 L7.84,3.41 L8.11,3.07 L8.4,3 L8.73,3.25 L9.09,3.78 L9.46,4.5 L9.83,5.33 L10.18,6.19 Z" fill="#1f6ed0" filter="url(#fBlur05)"/>
<path d="M6,10 Q9,8 11,12 L12,22 Q8,24 5,21 Z" fill="#3a90e4" opacity="0.5" filter="url(#fBlur1)"/>
<circle cx="6.8" cy="12" r="1.3" fill="#38c848" filter="url(#fBlur05)"/>
</g>
<rect x="378.5" y="435.2" width="17.2" height="34.3" fill="#0b2466"/>
<g transform="translate(378.5 435.2)"><path d="M10.5,7 L10.79,7.76 L11.06,8.56 L11.32,9.38 L11.56,10.22 L11.79,11.1 L12,12 L12.21,12.94 L12.41,13.93 L12.59,14.94 L12.76,15.96 L12.9,16.99 L13,18 L13.06,19.01 L13.08,20.04 L13.08,21.06 L13.05,22.07 L13.02,23.06 L13,24 L13,24.93 L13.01,25.85 L13.01,26.75 L12.99,27.59 L12.93,28.35 L12.8,29 L12.63,29.53 L12.44,29.96 L12.2,30.31 L11.9,30.59 L11.5,30.82 L11,31 L10.32,31.14 L9.48,31.22 L8.54,31.25 L7.6,31.22 L6.73,31.14 L6,31 L5.42,30.82 L4.91,30.59 L4.47,30.31 L4.09,29.96 L3.77,29.53 L3.5,29 L3.29,28.35 L3.15,27.59 L3.06,26.75 L3.02,25.85 L3,24.93 L3,24 L3.01,23.07 L3.06,22.11 L3.12,21.12 L3.22,20.11 L3.35,19.07 L3.5,18 L3.69,16.87 L3.91,15.67 L4.17,14.44 L4.44,13.22 L4.72,12.06 L5,11 L5.28,10.03 L5.59,9.11 L5.89,8.25 L6.2,7.44 L6.51,6.69 L6.8,6 L7.07,5.3 L7.33,4.59 L7.58,3.94 L7.84,3.41 L8.11,3.07 L8.4,3 L8.73,3.25 L9.09,3.78 L9.46,4.5 L9.83,5.33 L10.18,6.19 Z" fill="#1f6ed0" filter="url(#fBlur05)"/>
<path d="M6,10 Q9,8 11,12 L12,22 Q8,24 5,21 Z" fill="#3a90e4" opacity="0.5" filter="url(#fBlur1)"/>
<circle cx="6.8" cy="12" r="1.3" fill="#38c848" filter="url(#fBlur05)"/>
</g>
<rect x="397.8" y="435.2" width="17.2" height="34.3" fill="#0b2466"/>
<g transform="translate(397.8 435.2)"><path d="M10.5,7 L10.79,7.76 L11.06,8.56 L11.32,9.38 L11.56,10.22 L11.79,11.1 L12,12 L12.21,12.94 L12.41,13.93 L12.59,14.94 L12.76,15.96 L12.9,16.99 L13,18 L13.06,19.01 L13.08,20.04 L13.08,21.06 L13.05,22.07 L13.02,23.06 L13,24 L13,24.93 L13.01,25.85 L13.01,26.75 L12.99,27.59 L12.93,28.35 L12.8,29 L12.63,29.53 L12.44,29.96 L12.2,30.31 L11.9,30.59 L11.5,30.82 L11,31 L10.32,31.14 L9.48,31.22 L8.54,31.25 L7.6,31.22 L6.73,31.14 L6,31 L5.42,30.82 L4.91,30.59 L4.47,30.31 L4.09,29.96 L3.77,29.53 L3.5,29 L3.29,28.35 L3.15,27.59 L3.06,26.75 L3.02,25.85 L3,24.93 L3,24 L3.01,23.07 L3.06,22.11 L3.12,21.12 L3.22,20.11 L3.35,19.07 L3.5,18 L3.69,16.87 L3.91,15.67 L4.17,14.44 L4.44,13.22 L4.72,12.06 L5,11 L5.28,10.03 L5.59,9.11 L5.89,8.25 L6.2,7.44 L6.51,6.69 L6.8,6 L7.07,5.3 L7.33,4.59 L7.58,3.94 L7.84,3.41 L8.11,3.07 L8.4,3 L8.73,3.25 L9.09,3.78 L9.46,4.5 L9.83,5.33 L10.18,6.19 Z" fill="#1f6ed0" filter="url(#fBlur05)"/>
<path d="M6,10 Q9,8 11,12 L12,22 Q8,24 5,21 Z" fill="#3a90e4" opacity="0.5" filter="url(#fBlur1)"/>
<circle cx="6.8" cy="12" r="1.3" fill="#38c848" filter="url(#fBlur05)"/>
</g>
<rect x="303" y="471.2" width="17.2" height="34.3" fill="#0b2466"/>
<g transform="translate(303 471.2)"><path d="M10.5,7 L10.79,7.76 L11.06,8.56 L11.32,9.38 L11.56,10.22 L11.79,11.1 L12,12 L12.21,12.94 L12.41,13.93 L12.59,14.94 L12.76,15.96 L12.9,16.99 L13,18 L13.06,19.01 L13.08,20.04 L13.08,21.06 L13.05,22.07 L13.02,23.06 L13,24 L13,24.93 L13.01,25.85 L13.01,26.75 L12.99,27.59 L12.93,28.35 L12.8,29 L12.63,29.53 L12.44,29.96 L12.2,30.31 L11.9,30.59 L11.5,30.82 L11,31 L10.32,31.14 L9.48,31.22 L8.54,31.25 L7.6,31.22 L6.73,31.14 L6,31 L5.42,30.82 L4.91,30.59 L4.47,30.31 L4.09,29.96 L3.77,29.53 L3.5,29 L3.29,28.35 L3.15,27.59 L3.06,26.75 L3.02,25.85 L3,24.93 L3,24 L3.01,23.07 L3.06,22.11 L3.12,21.12 L3.22,20.11 L3.35,19.07 L3.5,18 L3.69,16.87 L3.91,15.67 L4.17,14.44 L4.44,13.22 L4.72,12.06 L5,11 L5.28,10.03 L5.59,9.11 L5.89,8.25 L6.2,7.44 L6.51,6.69 L6.8,6 L7.07,5.3 L7.33,4.59 L7.58,3.94 L7.84,3.41 L8.11,3.07 L8.4,3 L8.73,3.25 L9.09,3.78 L9.46,4.5 L9.83,5.33 L10.18,6.19 Z" fill="#1f6ed0" filter="url(#fBlur05)"/>
<path d="M6,10 Q9,8 11,12 L12,22 Q8,24 5,21 Z" fill="#3a90e4" opacity="0.5" filter="url(#fBlur1)"/>
<circle cx="7.5" cy="12" r="1.2" fill="#30b060" opacity="0.6" filter="url(#fBlur1)"/>
</g>
<rect x="321.9" y="471.2" width="17.2" height="34.3" fill="#0b2466"/>
<g transform="translate(321.9 471.2)"><path d="M10.5,7 L10.79,7.76 L11.06,8.56 L11.32,9.38 L11.56,10.22 L11.79,11.1 L12,12 L12.21,12.94 L12.41,13.93 L12.59,14.94 L12.76,15.96 L12.9,16.99 L13,18 L13.06,19.01 L13.08,20.04 L13.08,21.06 L13.05,22.07 L13.02,23.06 L13,24 L13,24.93 L13.01,25.85 L13.01,26.75 L12.99,27.59 L12.93,28.35 L12.8,29 L12.63,29.53 L12.44,29.96 L12.2,30.31 L11.9,30.59 L11.5,30.82 L11,31 L10.32,31.14 L9.48,31.22 L8.54,31.25 L7.6,31.22 L6.73,31.14 L6,31 L5.42,30.82 L4.91,30.59 L4.47,30.31 L4.09,29.96 L3.77,29.53 L3.5,29 L3.29,28.35 L3.15,27.59 L3.06,26.75 L3.02,25.85 L3,24.93 L3,24 L3.01,23.07 L3.06,22.11 L3.12,21.12 L3.22,20.11 L3.35,19.07 L3.5,18 L3.69,16.87 L3.91,15.67 L4.17,14.44 L4.44,13.22 L4.72,12.06 L5,11 L5.28,10.03 L5.59,9.11 L5.89,8.25 L6.2,7.44 L6.51,6.69 L6.8,6 L7.07,5.3 L7.33,4.59 L7.58,3.94 L7.84,3.41 L8.11,3.07 L8.4,3 L8.73,3.25 L9.09,3.78 L9.46,4.5 L9.83,5.33 L10.18,6.19 Z" fill="#1f6ed0" filter="url(#fBlur05)"/>
<path d="M6,10 Q9,8 11,12 L12,22 Q8,24 5,21 Z" fill="#3a90e4" opacity="0.5" filter="url(#fBlur1)"/>
<circle cx="7" cy="12.5" r="2" fill="#70d020" filter="url(#fBlur1)"/>
<circle cx="7" cy="12.5" r="1.1" fill="#e0e020"/>
</g>
<rect x="340.5" y="471.2" width="17.2" height="34.3" fill="#0b2466"/>
<g transform="translate(340.5 471.2)"><path d="M10.5,7 L10.79,7.76 L11.06,8.56 L11.32,9.38 L11.56,10.22 L11.79,11.1 L12,12 L12.21,12.94 L12.41,13.93 L12.59,14.94 L12.76,15.96 L12.9,16.99 L13,18 L13.06,19.01 L13.08,20.04 L13.08,21.06 L13.05,22.07 L13.02,23.06 L13,24 L13,24.93 L13.01,25.85 L13.01,26.75 L12.99,27.59 L12.93,28.35 L12.8,29 L12.63,29.53 L12.44,29.96 L12.2,30.31 L11.9,30.59 L11.5,30.82 L11,31 L10.32,31.14 L9.48,31.22 L8.54,31.25 L7.6,31.22 L6.73,31.14 L6,31 L5.42,30.82 L4.91,30.59 L4.47,30.31 L4.09,29.96 L3.77,29.53 L3.5,29 L3.29,28.35 L3.15,27.59 L3.06,26.75 L3.02,25.85 L3,24.93 L3,24 L3.01,23.07 L3.06,22.11 L3.12,21.12 L3.22,20.11 L3.35,19.07 L3.5,18 L3.69,16.87 L3.91,15.67 L4.17,14.44 L4.44,13.22 L4.72,12.06 L5,11 L5.28,10.03 L5.59,9.11 L5.89,8.25 L6.2,7.44 L6.51,6.69 L6.8,6 L7.07,5.3 L7.33,4.59 L7.58,3.94 L7.84,3.41 L8.11,3.07 L8.4,3 L8.73,3.25 L9.09,3.78 L9.46,4.5 L9.83,5.33 L10.18,6.19 Z" fill="#1f6ed0" filter="url(#fBlur05)"/>
<path d="M6,10 Q9,8 11,12 L12,22 Q8,24 5,21 Z" fill="#3a90e4" opacity="0.5" filter="url(#fBlur1)"/>
<circle cx="7" cy="12.5" r="2.2" fill="#70d020" filter="url(#fBlur1)"/>
<circle cx="7" cy="12.5" r="1.2100000000000002" fill="#f0d020"/>
</g>
<rect x="359.4" y="471.2" width="17.2" height="34.3" fill="#0b2466"/>
<g transform="translate(359.4 471.2)"><path d="M10.5,7 L10.79,7.76 L11.06,8.56 L11.32,9.38 L11.56,10.22 L11.79,11.1 L12,12 L12.21,12.94 L12.41,13.93 L12.59,14.94 L12.76,15.96 L12.9,16.99 L13,18 L13.06,19.01 L13.08,20.04 L13.08,21.06 L13.05,22.07 L13.02,23.06 L13,24 L13,24.93 L13.01,25.85 L13.01,26.75 L12.99,27.59 L12.93,28.35 L12.8,29 L12.63,29.53 L12.44,29.96 L12.2,30.31 L11.9,30.59 L11.5,30.82 L11,31 L10.32,31.14 L9.48,31.22 L8.54,31.25 L7.6,31.22 L6.73,31.14 L6,31 L5.42,30.82 L4.91,30.59 L4.47,30.31 L4.09,29.96 L3.77,29.53 L3.5,29 L3.29,28.35 L3.15,27.59 L3.06,26.75 L3.02,25.85 L3,24.93 L3,24 L3.01,23.07 L3.06,22.11 L3.12,21.12 L3.22,20.11 L3.35,19.07 L3.5,18 L3.69,16.87 L3.91,15.67 L4.17,14.44 L4.44,13.22 L4.72,12.06 L5,11 L5.28,10.03 L5.59,9.11 L5.89,8.25 L6.2,7.44 L6.51,6.69 L6.8,6 L7.07,5.3 L7.33,4.59 L7.58,3.94 L7.84,3.41 L8.11,3.07 L8.4,3 L8.73,3.25 L9.09,3.78 L9.46,4.5 L9.83,5.33 L10.18,6.19 Z" fill="#1f6ed0" filter="url(#fBlur05)"/>
<path d="M6,10 Q9,8 11,12 L12,22 Q8,24 5,21 Z" fill="#3a90e4" opacity="0.5" filter="url(#fBlur1)"/>
<circle cx="7" cy="12.5" r="2.4" fill="#70d020" filter="url(#fBlur1)"/>
<circle cx="7" cy="12.5" r="1.32" fill="#f07020"/>
</g>
<rect x="378.5" y="471.2" width="17.2" height="34.3" fill="#0b2466"/>
<g transform="translate(378.5 471.2)"><path d="M10.5,7 L10.79,7.76 L11.06,8.56 L11.32,9.38 L11.56,10.22 L11.79,11.1 L12,12 L12.21,12.94 L12.41,13.93 L12.59,14.94 L12.76,15.96 L12.9,16.99 L13,18 L13.06,19.01 L13.08,20.04 L13.08,21.06 L13.05,22.07 L13.02,23.06 L13,24 L13,24.93 L13.01,25.85 L13.01,26.75 L12.99,27.59 L12.93,28.35 L12.8,29 L12.63,29.53 L12.44,29.96 L12.2,30.31 L11.9,30.59 L11.5,30.82 L11,31 L10.32,31.14 L9.48,31.22 L8.54,31.25 L7.6,31.22 L6.73,31.14 L6,31 L5.42,30.82 L4.91,30.59 L4.47,30.31 L4.09,29.96 L3.77,29.53 L3.5,29 L3.29,28.35 L3.15,27.59 L3.06,26.75 L3.02,25.85 L3,24.93 L3,24 L3.01,23.07 L3.06,22.11 L3.12,21.12 L3.22,20.11 L3.35,19.07 L3.5,18 L3.69,16.87 L3.91,15.67 L4.17,14.44 L4.44,13.22 L4.72,12.06 L5,11 L5.28,10.03 L5.59,9.11 L5.89,8.25 L6.2,7.44 L6.51,6.69 L6.8,6 L7.07,5.3 L7.33,4.59 L7.58,3.94 L7.84,3.41 L8.11,3.07 L8.4,3 L8.73,3.25 L9.09,3.78 L9.46,4.5 L9.83,5.33 L10.18,6.19 Z" fill="#1f6ed0" filter="url(#fBlur05)"/>
<path d="M6,10 Q9,8 11,12 L12,22 Q8,24 5,21 Z" fill="#3a90e4" opacity="0.5" filter="url(#fBlur1)"/>
<circle cx="7" cy="12.5" r="2.4" fill="#70d020" filter="url(#fBlur1)"/>
<circle cx="7" cy="12.5" r="1.32" fill="#f06020"/>
</g>
<rect x="397.8" y="471.2" width="17.2" height="34.3" fill="#0b2466"/>
<g transform="translate(397.8 471.2)"><path d="M10.5,7 L10.79,7.76 L11.06,8.56 L11.32,9.38 L11.56,10.22 L11.79,11.1 L12,12 L12.21,12.94 L12.41,13.93 L12.59,14.94 L12.76,15.96 L12.9,16.99 L13,18 L13.06,19.01 L13.08,20.04 L13.08,21.06 L13.05,22.07 L13.02,23.06 L13,24 L13,24.93 L13.01,25.85 L13.01,26.75 L12.99,27.59 L12.93,28.35 L12.8,29 L12.63,29.53 L12.44,29.96 L12.2,30.31 L11.9,30.59 L11.5,30.82 L11,31 L10.32,31.14 L9.48,31.22 L8.54,31.25 L7.6,31.22 L6.73,31.14 L6,31 L5.42,30.82 L4.91,30.59 L4.47,30.31 L4.09,29.96 L3.77,29.53 L3.5,29 L3.29,28.35 L3.15,27.59 L3.06,26.75 L3.02,25.85 L3,24.93 L3,24 L3.01,23.07 L3.06,22.11 L3.12,21.12 L3.22,20.11 L3.35,19.07 L3.5,18 L3.69,16.87 L3.91,15.67 L4.17,14.44 L4.44,13.22 L4.72,12.06 L5,11 L5.28,10.03 L5.59,9.11 L5.89,8.25 L6.2,7.44 L6.51,6.69 L6.8,6 L7.07,5.3 L7.33,4.59 L7.58,3.94 L7.84,3.41 L8.11,3.07 L8.4,3 L8.73,3.25 L9.09,3.78 L9.46,4.5 L9.83,5.33 L10.18,6.19 Z" fill="#1f6ed0" filter="url(#fBlur05)"/>
<path d="M6,10 Q9,8 11,12 L12,22 Q8,24 5,21 Z" fill="#3a90e4" opacity="0.5" filter="url(#fBlur1)"/>
<circle cx="7" cy="12.5" r="2.5" fill="#70d020" filter="url(#fBlur1)"/>
<circle cx="7" cy="12.5" r="1.375" fill="#f05020"/>
</g>
<rect x="301.5" y="434.5" width="115" height="72" fill="none" stroke="#cdd3e2" stroke-width="1"/>
<line x1="302" y1="507.3" x2="416" y2="507.3" stroke="#000" stroke-width="0.7" />
<line x1="311.6" y1="507.3" x2="311.6" y2="509" stroke="#000" stroke-width="0.5" />
<text x="311.6" y="513" font-family="'Liberation Serif', 'Times New Roman', serif" font-size="5.5" font-weight="bold" text-anchor="middle" fill="#000" >0</text>
<line x1="330.5" y1="507.3" x2="330.5" y2="509" stroke="#000" stroke-width="0.5" />
<text x="330.5" y="513" font-family="'Liberation Serif', 'Times New Roman', serif" font-size="5.5" font-weight="bold" text-anchor="middle" fill="#000" >1</text>
<line x1="349.1" y1="507.3" x2="349.1" y2="509" stroke="#000" stroke-width="0.5" />
<text x="349.1" y="513" font-family="'Liberation Serif', 'Times New Roman', serif" font-size="5.5" font-weight="bold" text-anchor="middle" fill="#000" >2</text>
<line x1="368" y1="507.3" x2="368" y2="509" stroke="#000" stroke-width="0.5" />
<text x="368" y="513" font-family="'Liberation Serif', 'Times New Roman', serif" font-size="5.5" font-weight="bold" text-anchor="middle" fill="#000" >3</text>
<line x1="387.1" y1="507.3" x2="387.1" y2="509" stroke="#000" stroke-width="0.5" />
<text x="387.1" y="513" font-family="'Liberation Serif', 'Times New Roman', serif" font-size="5.5" font-weight="bold" text-anchor="middle" fill="#000" >4</text>
<line x1="406.4" y1="507.3" x2="406.4" y2="509" stroke="#000" stroke-width="0.5" />
<text x="406.4" y="513" font-family="'Liberation Serif', 'Times New Roman', serif" font-size="5.5" font-weight="bold" text-anchor="middle" fill="#000" >5</text>
<text x="356.4" y="522.6" font-family="'Liberation Serif', 'Times New Roman', serif" font-size="5.8" font-weight="bold" text-anchor="middle" fill="#000" >Laser Irradiation Time (min)</text>
<text x="0" y="0" font-family="'Liberation Serif', 'Times New Roman', serif" font-size="5.8" font-weight="bold" text-anchor="middle" fill="#000" transform="translate(300.4 453) rotate(-90)">Saline</text>
<text x="0" y="0" font-family="'Liberation Serif', 'Times New Roman', serif" font-size="5.8" font-weight="bold" text-anchor="middle" fill="#000" transform="translate(300.4 488.5) rotate(-90)">Ag NCs</text>
<rect x="419.6" y="441.8" width="4.9" height="57.2" fill="url(#gIbar)" stroke="#444" stroke-width="0.3" />
<text x="420.5" y="439.6" font-family="'Liberation Serif', 'Times New Roman', serif" font-size="3.3" font-weight="normal" text-anchor="start" fill="#000" >50°C</text>
<text x="420.5" y="503" font-family="'Liberation Serif', 'Times New Roman', serif" font-size="3.3" font-weight="normal" text-anchor="start" fill="#000" >25°C</text>
<rect x="442.3" y="428.2" width="106.3" height="85.1" fill="none" stroke="#000" stroke-width="0.9" />
<line x1="451" y1="513.3" x2="451" y2="511.8" stroke="#000" stroke-width="0.6" />
<line x1="468.5" y1="513.3" x2="468.5" y2="511.8" stroke="#000" stroke-width="0.6" />
<line x1="486" y1="513.3" x2="486" y2="511.8" stroke="#000" stroke-width="0.6" />
<line x1="503.5" y1="513.3" x2="503.5" y2="511.8" stroke="#000" stroke-width="0.6" />
<line x1="521" y1="513.3" x2="521" y2="511.8" stroke="#000" stroke-width="0.6" />
<line x1="538.5" y1="513.3" x2="538.5" y2="511.8" stroke="#000" stroke-width="0.6" />
<line x1="442.3" y1="513.3" x2="443.8" y2="513.3" stroke="#000" stroke-width="0.6" />
<line x1="442.3" y1="499.12" x2="443.8" y2="499.12" stroke="#000" stroke-width="0.6" />
<line x1="442.3" y1="484.93" x2="443.8" y2="484.93" stroke="#000" stroke-width="0.6" />
<line x1="442.3" y1="470.75" x2="443.8" y2="470.75" stroke="#000" stroke-width="0.6" />
<line x1="442.3" y1="456.57" x2="443.8" y2="456.57" stroke="#000" stroke-width="0.6" />
<line x1="442.3" y1="442.38" x2="443.8" y2="442.38" stroke="#000" stroke-width="0.6" />
<line x1="442.3" y1="428.2" x2="443.8" y2="428.2" stroke="#000" stroke-width="0.6" />
<text x="451" y="518.9" font-family="'Liberation Serif', 'Times New Roman', serif" font-size="5" font-weight="bold" text-anchor="middle" fill="#000" >0</text>
<text x="468.5" y="518.9" font-family="'Liberation Serif', 'Times New Roman', serif" font-size="5" font-weight="bold" text-anchor="middle" fill="#000" >1</text>
<text x="486" y="518.9" font-family="'Liberation Serif', 'Times New Roman', serif" font-size="5" font-weight="bold" text-anchor="middle" fill="#000" >2</text>
<text x="503.5" y="518.9" font-family="'Liberation Serif', 'Times New Roman', serif" font-size="5" font-weight="bold" text-anchor="middle" fill="#000" >3</text>
<text x="521" y="518.9" font-family="'Liberation Serif', 'Times New Roman', serif" font-size="5" font-weight="bold" text-anchor="middle" fill="#000" >4</text>
<text x="538.5" y="518.9" font-family="'Liberation Serif', 'Times New Roman', serif" font-size="5" font-weight="bold" text-anchor="middle" fill="#000" >5</text>
<text x="439.5" y="515" font-family="'Liberation Serif', 'Times New Roman', serif" font-size="5" font-weight="bold" text-anchor="end" fill="#000" >30</text>
<text x="439.5" y="500.82" font-family="'Liberation Serif', 'Times New Roman', serif" font-size="5" font-weight="bold" text-anchor="end" fill="#000" >35</text>
<text x="439.5" y="486.63" font-family="'Liberation Serif', 'Times New Roman', serif" font-size="5" font-weight="bold" text-anchor="end" fill="#000" >40</text>
<text x="439.5" y="472.45" font-family="'Liberation Serif', 'Times New Roman', serif" font-size="5" font-weight="bold" text-anchor="end" fill="#000" >45</text>
<text x="439.5" y="458.27" font-family="'Liberation Serif', 'Times New Roman', serif" font-size="5" font-weight="bold" text-anchor="end" fill="#000" >50</text>
<text x="439.5" y="444.08" font-family="'Liberation Serif', 'Times New Roman', serif" font-size="5" font-weight="bold" text-anchor="end" fill="#000" >55</text>
<text x="439.5" y="429.9" font-family="'Liberation Serif', 'Times New Roman', serif" font-size="5" font-weight="bold" text-anchor="end" fill="#000" >60</text>
<text x="495.4" y="527" font-family="'Liberation Serif', 'Times New Roman', serif" font-size="5.2" font-weight="bold" text-anchor="middle" fill="#000" >Time(min)</text>
<text x="0" y="0" font-family="'Liberation Serif', 'Times New Roman', serif" font-size="5" font-weight="bold" text-anchor="middle" fill="#000" transform="translate(437.2 470.5) rotate(-90)">Temperature (℃)</text>
<polyline points="451,502.52 452.04,500.52 453.38,497.84 454.96,494.63 456.74,491.06 458.66,487.26 460.66,483.38 462.7,479.59 464.72,476.02 466.67,472.84 468.5,470.18 470.25,467.96 472,465.96 473.75,464.17 475.5,462.56 477.25,461.12 479,459.83 480.75,458.66 482.5,457.6 484.25,456.62 486,455.72 487.75,454.94 489.5,454.34 491.25,453.89 493,453.57 494.75,453.34 496.5,453.18 498.25,453.05 500,452.93 501.75,452.79 503.5,452.6 505.25,452.38 507,452.19 508.75,452.03 510.5,451.88 512.25,451.74 514,451.62 515.75,451.51 517.5,451.4 519.25,451.29 521,451.18 522.83,451.07 524.78,450.96 526.8,450.85 528.84,450.75 530.84,450.66 532.76,450.58 534.54,450.5 536.12,450.43 537.46,450.37 538.5,450.33" fill="none" stroke="#ee3030" stroke-width="1.1" stroke-linejoin="round" stroke-linecap="round" />
<circle cx="451" cy="502.52" r="1.1" fill="#ee3030"/>
<circle cx="468.5" cy="470.18" r="1.1" fill="#ee3030"/>
<circle cx="486" cy="455.72" r="1.1" fill="#ee3030"/>
<circle cx="503.5" cy="452.6" r="1.1" fill="#ee3030"/>
<circle cx="521" cy="451.18" r="1.1" fill="#ee3030"/>
<circle cx="538.5" cy="450.33" r="1.1" fill="#ee3030"/>
<polyline points="451,502.52 452.04,502.28 453.38,501.96 454.96,501.59 456.74,501.16 458.66,500.71 460.66,500.25 462.7,499.78 464.72,499.33 466.67,498.92 468.5,498.55 470.25,498.21 472,497.88 473.75,497.56 475.5,497.25 477.25,496.95 479,496.67 480.75,496.4 482.5,496.15 484.25,495.92 486,495.71 487.75,495.53 489.5,495.38 491.25,495.25 493,495.14 494.75,495.04 496.5,494.95 498.25,494.86 500,494.78 501.75,494.68 503.5,494.58 505.25,494.46 507,494.35 508.75,494.23 510.5,494.11 512.25,493.99 514,493.88 515.75,493.76 517.5,493.65 519.25,493.55 521,493.44 522.83,493.34 524.78,493.24 526.8,493.14 528.84,493.04 530.84,492.95 532.76,492.86 534.54,492.78 536.12,492.7 537.46,492.64 538.5,492.59" fill="none" stroke="#2a8fd0" stroke-width="1.1" stroke-linejoin="round" stroke-linecap="round" />
<circle cx="451" cy="502.52" r="1.1" fill="#2a8fd0"/>
<circle cx="468.5" cy="498.55" r="1.1" fill="#2a8fd0"/>
<circle cx="486" cy="495.71" r="1.1" fill="#2a8fd0"/>
<circle cx="503.5" cy="494.58" r="1.1" fill="#2a8fd0"/>
<circle cx="521" cy="493.44" r="1.1" fill="#2a8fd0"/>
<circle cx="538.5" cy="492.59" r="1.1" fill="#2a8fd0"/>
<line x1="450.5" y1="437.7" x2="458.6" y2="437.7" stroke="#ee3030" stroke-width="0.8" />
<rect x="453.9" y="437.1" width="1.2" height="1.2" fill="#ee3030"/>
<text x="460.5" y="439.2" font-family="'Liberation Serif', 'Times New Roman', serif" font-size="4.4" font-weight="bold" text-anchor="start" fill="#000" >Ag NCs</text>
<line x1="450.5" y1="444.5" x2="458.6" y2="444.5" stroke="#2a8fd0" stroke-width="0.8" />
<rect x="453.9" y="443.9" width="1.2" height="1.2" fill="#2a8fd0"/>
<text x="460.5" y="446" font-family="'Liberation Serif', 'Times New Roman', serif" font-size="4.4" font-weight="bold" text-anchor="start" fill="#000" >Saline</text>
</svg>
</body></html>
